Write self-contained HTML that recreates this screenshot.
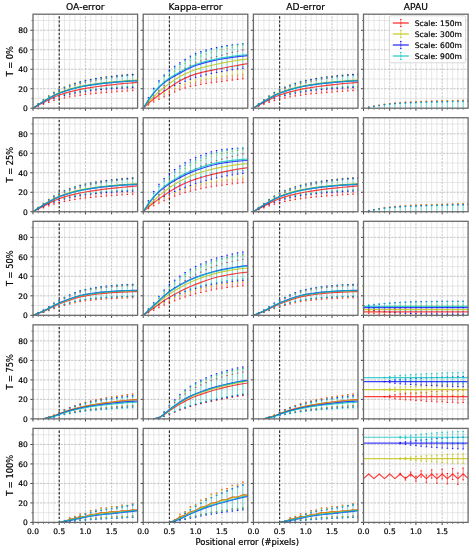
<!DOCTYPE html>
<html><head><meta charset="utf-8"><title>Positional error plots</title><style>
html,body{margin:0;padding:0;background:#fff;}
body{width:473px;height:550px;overflow:hidden;}
svg{display:block;}
</style></head><body>
<svg width="473" height="550" viewBox="0 0 473 550">
<rect width="473" height="550" fill="#fff"/>
<defs><clipPath id="c00"><rect x="33" y="14.2" width="104.6" height="94"/></clipPath><clipPath id="c01"><rect x="143.2" y="14.2" width="104.6" height="94"/></clipPath><clipPath id="c02"><rect x="253.4" y="14.2" width="104.6" height="94"/></clipPath><clipPath id="c03"><rect x="363.5" y="14.2" width="104.6" height="94"/></clipPath><clipPath id="c10"><rect x="33" y="117.75" width="104.6" height="94"/></clipPath><clipPath id="c11"><rect x="143.2" y="117.75" width="104.6" height="94"/></clipPath><clipPath id="c12"><rect x="253.4" y="117.75" width="104.6" height="94"/></clipPath><clipPath id="c13"><rect x="363.5" y="117.75" width="104.6" height="94"/></clipPath><clipPath id="c20"><rect x="33" y="221.3" width="104.6" height="94"/></clipPath><clipPath id="c21"><rect x="143.2" y="221.3" width="104.6" height="94"/></clipPath><clipPath id="c22"><rect x="253.4" y="221.3" width="104.6" height="94"/></clipPath><clipPath id="c23"><rect x="363.5" y="221.3" width="104.6" height="94"/></clipPath><clipPath id="c30"><rect x="33" y="324.85" width="104.6" height="94"/></clipPath><clipPath id="c31"><rect x="143.2" y="324.85" width="104.6" height="94"/></clipPath><clipPath id="c32"><rect x="253.4" y="324.85" width="104.6" height="94"/></clipPath><clipPath id="c33"><rect x="363.5" y="324.85" width="104.6" height="94"/></clipPath><clipPath id="c40"><rect x="33" y="428.4" width="104.6" height="94"/></clipPath><clipPath id="c41"><rect x="143.2" y="428.4" width="104.6" height="94"/></clipPath><clipPath id="c42"><rect x="253.4" y="428.4" width="104.6" height="94"/></clipPath><clipPath id="c43"><rect x="363.5" y="428.4" width="104.6" height="94"/></clipPath></defs>
<g clip-path="url(#c00)" fill="none"><path d="M38.24 108.2V14.2M43.49 108.2V14.2M48.73 108.2V14.2M53.97 108.2V14.2M64.46 108.2V14.2M69.7 108.2V14.2M74.94 108.2V14.2M80.19 108.2V14.2M90.67 108.2V14.2M95.92 108.2V14.2M101.16 108.2V14.2M106.4 108.2V14.2M116.89 108.2V14.2M122.13 108.2V14.2M127.38 108.2V14.2M132.62 108.2V14.2M33 98.46H137.6M33 78.98H137.6M33 59.5H137.6M33 40.01H137.6M33 20.53H137.6" stroke="#d6d6d6" stroke-width="0.6"/><path d="M59.22 108.2V14.2M85.43 108.2V14.2M111.65 108.2V14.2M33 88.72H137.6M33 69.24H137.6M33 49.75H137.6M33 30.27H137.6" stroke="#a8a8a8" stroke-width="0.65" stroke-dasharray="2.41 1.04"/><path d="M59.22 108.2V14.2" stroke="#2a2a2a" stroke-width="1.15" stroke-dasharray="2.35 1.75" stroke-dashoffset="0.7"/><path d="M38.24 106.2V105.58M43.49 104.3V103.17M48.73 102.42V100.85M53.97 100.6V98.63M59.22 99.13V96.84M64.46 97.97V95.41M69.7 96.94V94.14M74.94 96.04V93.03M80.19 95.25V92.07M85.43 94.56V91.28M90.67 93.95V90.62M95.92 93.41V90.03M101.16 92.92V89.52M106.4 92.48V89.07M111.65 92.07V88.69M116.89 91.68V88.35M122.13 91.31V88.04M127.38 90.97V87.76M132.62 90.66V87.53M137.86 90.39V87.36" stroke="#ff0000" stroke-width="0.5"/><path d="M37.49 106.2h1.5M37.49 104.4h1.5M42.74 104.3h1.5M42.74 100.8h1.5M47.98 102.42h1.5M47.98 97.22h1.5M53.22 100.6h1.5M53.22 93.78h1.5M58.47 99.13h1.5M58.47 90.97h1.5M63.71 97.97h1.5M63.71 88.78h1.5M68.95 96.94h1.5M68.95 86.83h1.5M74.19 96.04h1.5M74.19 85.11h1.5M79.44 95.25h1.5M79.44 83.61h1.5M84.68 94.56h1.5M84.68 82.3h1.5M89.92 93.95h1.5M89.92 81.14h1.5M95.17 93.41h1.5M95.17 80.12h1.5M100.41 92.92h1.5M100.41 79.2h1.5M105.65 92.48h1.5M105.65 78.36h1.5M110.9 92.07h1.5M110.9 77.57h1.5M116.14 91.68h1.5M116.14 76.83h1.5M121.38 91.31h1.5M121.38 76.14h1.5M126.63 90.97h1.5M126.63 75.49h1.5M131.87 90.66h1.5M131.87 74.9h1.5M137.11 90.39h1.5M137.11 74.38h1.5" stroke="#ff0000" stroke-width="0.9"/><path d="M38.24 103.93V103.75M43.49 99.99V99.61M48.73 96.21V95.63M53.97 92.59V92.06M59.22 89.66V89.17M64.46 87.34V86.87M69.7 85.27V84.83M74.94 83.45V83.03M80.19 81.89V81.49M85.43 80.6V80.22M90.67 79.51V79.15M95.92 78.56V78.2M101.16 77.72V77.37M106.4 77V76.66M111.65 76.37V76.04M116.89 75.82V75.49M122.13 75.3V74.99M127.38 74.85V74.54M132.62 74.48V74.17M137.86 74.2V73.89" stroke="#bfbf00" stroke-width="0.5"/><path d="M37.49 105.38h1.5M37.49 103.75h1.5M42.74 102.76h1.5M42.74 99.61h1.5M47.98 100.25h1.5M47.98 95.63h1.5M53.22 97.99h1.5M53.22 92.06h1.5M58.47 96.16h1.5M58.47 89.17h1.5M63.71 94.71h1.5M63.71 86.87h1.5M68.95 93.41h1.5M68.95 84.83h1.5M74.19 92.28h1.5M74.19 83.03h1.5M79.44 91.3h1.5M79.44 81.49h1.5M84.68 90.5h1.5M84.68 80.22h1.5M89.92 89.82h1.5M89.92 79.15h1.5M95.17 89.22h1.5M95.17 78.2h1.5M100.41 88.7h1.5M100.41 77.37h1.5M105.65 88.24h1.5M105.65 76.66h1.5M110.9 87.85h1.5M110.9 76.04h1.5M116.14 87.51h1.5M116.14 75.49h1.5M121.38 87.19h1.5M121.38 74.99h1.5M126.63 86.91h1.5M126.63 74.54h1.5M131.87 86.67h1.5M131.87 74.17h1.5M137.11 86.5h1.5M137.11 73.89h1.5" stroke="#bfbf00" stroke-width="0.9"/><path d="M38.24 105.58V105.41M38.24 104.01V103.93M43.49 103.17V102.82M43.49 100.13V99.99M48.73 100.85V100.34M48.73 96.42V96.21M53.97 98.63V98.01M53.97 92.92V92.59M59.22 96.84V96.12M59.22 90.08V89.66M64.46 95.41V94.62M64.46 87.84V87.34M69.7 94.14V93.29M69.7 85.83V85.27M74.94 93.03V92.11M74.94 84.07V83.45M80.19 92.07V91.11M80.19 82.56V81.89M85.43 91.28V90.28M85.43 81.32V80.6M90.67 90.62V89.58M90.67 80.26V79.51M95.92 90.03V88.96M95.92 79.34V78.56M101.16 89.52V88.42M101.16 78.53V77.72M106.4 89.07V87.95M106.4 77.83V77M111.65 88.69V87.55M111.65 77.22V76.37M116.89 88.35V87.19M116.89 76.68V75.82M122.13 88.04V86.86M122.13 76.19V75.3M127.38 87.76V86.57M127.38 75.75V74.85M132.62 87.53V86.33M132.62 75.39V74.48M137.86 87.36V86.15M137.86 75.12V74.2" stroke="#0000ff" stroke-width="0.5"/><path d="M37.49 105.58h1.5M37.49 103.93h1.5M42.74 103.17h1.5M42.74 99.99h1.5M47.98 100.85h1.5M47.98 96.21h1.5M53.22 98.63h1.5M53.22 92.59h1.5M58.47 96.84h1.5M58.47 89.66h1.5M63.71 95.41h1.5M63.71 87.34h1.5M68.95 94.14h1.5M68.95 85.27h1.5M74.19 93.03h1.5M74.19 83.45h1.5M79.44 92.07h1.5M79.44 81.89h1.5M84.68 91.28h1.5M84.68 80.6h1.5M89.92 90.62h1.5M89.92 79.51h1.5M95.17 90.03h1.5M95.17 78.56h1.5M100.41 89.52h1.5M100.41 77.72h1.5M105.65 89.07h1.5M105.65 77h1.5M110.9 88.69h1.5M110.9 76.37h1.5M116.14 88.35h1.5M116.14 75.82h1.5M121.38 88.04h1.5M121.38 75.3h1.5M126.63 87.76h1.5M126.63 74.85h1.5M131.87 87.53h1.5M131.87 74.48h1.5M137.11 87.36h1.5M137.11 74.2h1.5" stroke="#0000ff" stroke-width="0.9"/><path d="M38.24 105.41V104.01M43.49 102.82V100.13M48.73 100.34V96.42M53.97 98.01V92.92M59.22 96.12V90.08M64.46 94.62V87.84M69.7 93.29V85.83M74.94 92.11V84.07M80.19 91.11V82.56M85.43 90.28V81.32M90.67 89.58V80.26M95.92 88.96V79.34M101.16 88.42V78.53M106.4 87.95V77.83M111.65 87.55V77.22M116.89 87.19V76.68M122.13 86.86V76.19M127.38 86.57V75.75M132.62 86.33V75.39M137.86 86.15V75.12" stroke="#00bfbf" stroke-width="0.5"/><path d="M37.49 105.41h1.5M37.49 104.01h1.5M42.74 102.82h1.5M42.74 100.13h1.5M47.98 100.34h1.5M47.98 96.42h1.5M53.22 98.01h1.5M53.22 92.92h1.5M58.47 96.12h1.5M58.47 90.08h1.5M63.71 94.62h1.5M63.71 87.84h1.5M68.95 93.29h1.5M68.95 85.83h1.5M74.19 92.11h1.5M74.19 84.07h1.5M79.44 91.11h1.5M79.44 82.56h1.5M84.68 90.28h1.5M84.68 81.32h1.5M89.92 89.58h1.5M89.92 80.26h1.5M95.17 88.96h1.5M95.17 79.34h1.5M100.41 88.42h1.5M100.41 78.53h1.5M105.65 87.95h1.5M105.65 77.83h1.5M110.9 87.55h1.5M110.9 77.22h1.5M116.14 87.19h1.5M116.14 76.68h1.5M121.38 86.86h1.5M121.38 76.19h1.5M126.63 86.57h1.5M126.63 75.75h1.5M131.87 86.33h1.5M131.87 75.39h1.5M137.11 86.15h1.5M137.11 75.12h1.5" stroke="#00bfbf" stroke-width="0.9"/><path d="M33 108.2L38.24 105.3L43.49 102.55L48.73 99.82L53.97 97.19L59.22 95.05L64.46 93.37L69.7 91.89L74.94 90.58L80.19 89.43L85.43 88.43L90.67 87.55L95.92 86.76L101.16 86.06L106.4 85.42L111.65 84.82L116.89 84.26L122.13 83.72L127.38 83.23L132.62 82.78L137.86 82.39" stroke="#ff0000" stroke-width="1.2" stroke-linejoin="round" stroke-opacity="0.75"/><path d="M33 108.2L38.24 104.56L43.49 101.19L48.73 97.94L53.97 95.03L59.22 92.66L64.46 90.79L69.7 89.12L74.94 87.65L80.19 86.4L85.43 85.36L90.67 84.48L95.92 83.71L101.16 83.04L106.4 82.45L111.65 81.95L116.89 81.5L122.13 81.09L127.38 80.72L132.62 80.42L137.86 80.19" stroke="#bfbf00" stroke-width="1.2" stroke-linejoin="round" stroke-opacity="0.75"/><path d="M33 108.2L38.24 104.76L43.49 101.58L48.73 98.53L53.97 95.61L59.22 93.25L64.46 91.38L69.7 89.7L74.94 88.24L80.19 86.98L85.43 85.94L90.67 85.07L95.92 84.29L101.16 83.62L106.4 83.03L111.65 82.53L116.89 82.08L122.13 81.67L127.38 81.31L132.62 81.01L137.86 80.78" stroke="#0000ff" stroke-width="1.2" stroke-linejoin="round" stroke-opacity="0.75"/><path d="M33 108.2L38.24 104.71L43.49 101.48L48.73 98.38L53.97 95.47L59.22 93.1L64.46 91.23L69.7 89.56L74.94 88.09L80.19 86.84L85.43 85.8L90.67 84.92L95.92 84.15L101.16 83.47L106.4 82.89L111.65 82.39L116.89 81.94L122.13 81.52L127.38 81.16L132.62 80.86L137.86 80.63" stroke="#00bfbf" stroke-width="1.2" stroke-linejoin="round" stroke-opacity="0.75"/></g>
<path d="M33 108.2h-2.62M33 88.72h-2.62M33 69.24h-2.62M33 49.75h-2.62M33 30.27h-2.62M33 108.2v2.62M59.22 108.2v2.62M85.43 108.2v2.62M111.65 108.2v2.62" stroke="#000" stroke-width="0.75"/>
<path d="M33 98.46h-1.5M33 78.98h-1.5M33 59.5h-1.5M33 40.01h-1.5M33 20.53h-1.5M38.24 108.2v1.5M43.49 108.2v1.5M48.73 108.2v1.5M53.97 108.2v1.5M64.46 108.2v1.5M69.7 108.2v1.5M74.94 108.2v1.5M80.19 108.2v1.5M90.67 108.2v1.5M95.92 108.2v1.5M101.16 108.2v1.5M106.4 108.2v1.5M116.89 108.2v1.5M122.13 108.2v1.5M127.38 108.2v1.5M132.62 108.2v1.5" stroke="#000" stroke-width="0.55"/>
<rect x="33" y="14.2" width="104.6" height="94" fill="none" stroke="#6a6a6a" stroke-width="1.3"/>
<g clip-path="url(#c01)" fill="none"><path d="M148.44 108.2V14.2M153.69 108.2V14.2M158.93 108.2V14.2M164.17 108.2V14.2M174.66 108.2V14.2M179.9 108.2V14.2M185.14 108.2V14.2M190.39 108.2V14.2M200.87 108.2V14.2M206.12 108.2V14.2M211.36 108.2V14.2M216.6 108.2V14.2M227.09 108.2V14.2M232.33 108.2V14.2M237.58 108.2V14.2M242.82 108.2V14.2M143.2 98.46H247.8M143.2 78.98H247.8M143.2 59.5H247.8M143.2 40.01H247.8M143.2 20.53H247.8" stroke="#d6d6d6" stroke-width="0.6"/><path d="M169.42 108.2V14.2M195.63 108.2V14.2M221.85 108.2V14.2M143.2 88.72H247.8M143.2 69.24H247.8M143.2 49.75H247.8M143.2 30.27H247.8" stroke="#a8a8a8" stroke-width="0.65" stroke-dasharray="2.41 1.04"/><path d="M169.42 108.2V14.2" stroke="#2a2a2a" stroke-width="1.15" stroke-dasharray="2.35 1.75" stroke-dashoffset="0.7"/><path d="M148.44 104.96V103.86M153.69 102V100.02M158.93 99.35V96.7M164.17 96.9V93.72M169.42 94.49V90.95M174.66 92V88.32M179.9 89.8V86.04M185.14 88.06V84.17M190.39 86.57V82.54M195.63 85.36V81.2M200.87 84.39V80.09M206.12 83.56V79.11M211.36 82.82V78.23M216.6 82.13V77.44M221.85 81.44V76.7M227.09 80.76V76M232.33 80.1V75.34M237.58 79.47V74.73M242.82 78.87V74.18M248.06 78.31V73.7" stroke="#ff0000" stroke-width="0.5"/><path d="M147.69 104.96h1.5M147.69 101.77h1.5M152.94 102h1.5M152.94 95.89h1.5M158.18 99.35h1.5M158.18 90.64h1.5M163.42 96.9h1.5M163.42 85.76h1.5M168.67 94.49h1.5M168.67 80.99h1.5M173.91 92h1.5M173.91 76.04h1.5M179.15 89.8h1.5M179.15 71.67h1.5M184.39 88.06h1.5M184.39 68.22h1.5M189.64 86.57h1.5M189.64 65.25h1.5M194.88 85.36h1.5M194.88 62.86h1.5M200.12 84.39h1.5M200.12 60.93h1.5M205.37 83.56h1.5M205.37 59.28h1.5M210.61 82.82h1.5M210.61 57.81h1.5M215.85 82.13h1.5M215.85 56.44h1.5M221.1 81.44h1.5M221.1 55.08h1.5M226.34 80.76h1.5M226.34 53.73h1.5M231.58 80.1h1.5M231.58 52.42h1.5M236.83 79.47h1.5M236.83 51.17h1.5M242.07 78.87h1.5M242.07 49.99h1.5M247.31 78.31h1.5M247.31 48.86h1.5" stroke="#ff0000" stroke-width="0.9"/><path d="M148.44 103.86V102.71M153.69 100.02V97.93M158.93 96.7V93.92M164.17 93.72V90.71M169.42 90.95V87.96M174.66 88.32V85.61M179.9 86.04V83.48M185.14 84.17V81.32M190.39 82.54V79.23M195.63 81.2V77.48M200.87 80.09V76.06M206.12 79.11V74.76M211.36 78.23V73.58M216.6 77.44V72.52M221.85 76.7V71.55M227.09 76V70.65M232.33 75.34V69.8M237.58 74.73V69.01M242.82 74.18V68.3M248.06 73.7V67.7" stroke="#bfbf00" stroke-width="0.5"/><path d="M147.69 103.86h1.5M147.69 100.13h1.5M152.94 100.02h1.5M152.94 93h1.5M158.18 96.7h1.5M158.18 86.85h1.5M163.42 93.72h1.5M163.42 81.3h1.5M168.67 90.95h1.5M168.67 76.16h1.5M173.91 88.32h1.5M173.91 71.27h1.5M179.15 86.04h1.5M179.15 67.04h1.5M184.39 84.17h1.5M184.39 63.57h1.5M189.64 82.54h1.5M189.64 60.55h1.5M194.88 81.2h1.5M194.88 58.05h1.5M200.12 80.09h1.5M200.12 55.99h1.5M205.37 79.11h1.5M205.37 54.17h1.5M210.61 78.23h1.5M210.61 52.55h1.5M215.85 77.44h1.5M215.85 51.07h1.5M221.1 76.7h1.5M221.1 49.7h1.5M226.34 76h1.5M226.34 48.39h1.5M231.58 75.34h1.5M231.58 47.17h1.5M236.83 74.73h1.5M236.83 46.05h1.5M242.07 74.18h1.5M242.07 45.02h1.5M247.31 73.7h1.5M247.31 44.12h1.5" stroke="#bfbf00" stroke-width="0.9"/><path d="M148.44 102.71V101.61M148.44 98.1V97.43M153.69 97.93V95.93M153.69 89.41V88.27M158.93 93.92V91.22M158.93 82.2V80.79M164.17 90.71V87.5M164.17 76.49V75M169.42 87.96V84.34M169.42 71.66V70.19M174.66 85.61V81.86M174.66 67.85V66.24M179.9 83.48V79.65M179.9 64.47V62.79M185.14 81.32V77.44M185.14 61.09V59.35M190.39 79.23V75.34M190.39 57.87V56.13M195.63 77.48V73.65M195.63 55.28V53.59M200.87 76.06V72.33M200.87 53.26V51.67M206.12 74.76V71.17M206.12 51.48V50.03M211.36 73.58V70.15M211.36 49.91V48.62M216.6 72.52V69.26M216.6 48.55V47.44M221.85 71.55V68.49M221.85 47.38V46.46M227.09 70.65V67.81M227.09 46.33V45.62M232.33 69.8V67.17M232.33 45.36V44.88M237.58 69.01V66.62M237.58 44.51V44.26M242.82 68.3V66.15M248.06 67.7V65.8" stroke="#0000ff" stroke-width="0.5"/><path d="M147.69 102.71h1.5M147.69 97.43h1.5M152.94 97.93h1.5M152.94 88.27h1.5M158.18 93.92h1.5M158.18 80.79h1.5M163.42 90.71h1.5M163.42 75h1.5M168.67 87.96h1.5M168.67 70.19h1.5M173.91 85.61h1.5M173.91 66.24h1.5M179.15 83.48h1.5M179.15 62.79h1.5M184.39 81.32h1.5M184.39 59.35h1.5M189.64 79.23h1.5M189.64 56.13h1.5M194.88 77.48h1.5M194.88 53.59h1.5M200.12 76.06h1.5M200.12 51.67h1.5M205.37 74.76h1.5M205.37 50.03h1.5M210.61 73.58h1.5M210.61 48.62h1.5M215.85 72.52h1.5M215.85 47.44h1.5M221.1 71.55h1.5M221.1 46.46h1.5M226.34 70.65h1.5M226.34 45.62h1.5M231.58 69.8h1.5M231.58 44.88h1.5M236.83 69.01h1.5M236.83 44.26h1.5M242.07 68.3h1.5M242.07 43.79h1.5M247.31 67.7h1.5M247.31 43.5h1.5" stroke="#0000ff" stroke-width="0.9"/><path d="M148.44 101.61V98.1M153.69 95.93V89.41M158.93 91.22V82.2M164.17 87.5V76.49M169.42 84.34V71.66M174.66 81.86V67.85M179.9 79.65V64.47M185.14 77.44V61.09M190.39 75.34V57.87M195.63 73.65V55.28M200.87 72.33V53.26M206.12 71.17V51.48M211.36 70.15V49.91M216.6 69.26V48.55M221.85 68.49V47.38M227.09 67.81V46.33M232.33 67.17V45.36M237.58 66.62V44.51M242.82 66.15V43.8M248.06 65.8V43.26" stroke="#00bfbf" stroke-width="0.5"/><path d="M147.69 101.61h1.5M147.69 98.1h1.5M152.94 95.93h1.5M152.94 89.41h1.5M158.18 91.22h1.5M158.18 82.2h1.5M163.42 87.5h1.5M163.42 76.49h1.5M168.67 84.34h1.5M168.67 71.66h1.5M173.91 81.86h1.5M173.91 67.85h1.5M179.15 79.65h1.5M179.15 64.47h1.5M184.39 77.44h1.5M184.39 61.09h1.5M189.64 75.34h1.5M189.64 57.87h1.5M194.88 73.65h1.5M194.88 55.28h1.5M200.12 72.33h1.5M200.12 53.26h1.5M205.37 71.17h1.5M205.37 51.48h1.5M210.61 70.15h1.5M210.61 49.91h1.5M215.85 69.26h1.5M215.85 48.55h1.5M221.1 68.49h1.5M221.1 47.38h1.5M226.34 67.81h1.5M226.34 46.33h1.5M231.58 67.17h1.5M231.58 45.36h1.5M236.83 66.62h1.5M236.83 44.51h1.5M242.07 66.15h1.5M242.07 43.8h1.5M247.31 65.8h1.5M247.31 43.26h1.5" stroke="#00bfbf" stroke-width="0.9"/><path d="M143.2 108.2L148.44 103.37L153.69 98.95L158.93 94.99L164.17 91.33L169.42 87.74L174.66 84.02L179.9 80.73L185.14 78.14L190.39 75.91L195.63 74.11L200.87 72.66L206.12 71.42L211.36 70.31L216.6 69.28L221.85 68.26L227.09 67.24L232.33 66.26L237.58 65.32L242.82 64.43L248.06 63.59" stroke="#ff0000" stroke-width="1.2" stroke-linejoin="round" stroke-opacity="0.75"/><path d="M143.2 108.2L148.44 102L153.69 96.51L158.93 91.78L164.17 87.51L169.42 83.56L174.66 79.79L179.9 76.54L185.14 73.87L190.39 71.54L195.63 69.63L200.87 68.04L206.12 66.64L211.36 65.39L216.6 64.25L221.85 63.2L227.09 62.2L232.33 61.26L237.58 60.39L242.82 59.6L248.06 58.91" stroke="#bfbf00" stroke-width="1.2" stroke-linejoin="round" stroke-opacity="0.75"/><path d="M143.2 108.2L148.44 100.07L153.69 93.1L158.93 87.35L164.17 82.85L169.42 79.07L174.66 75.93L179.9 73.13L185.14 70.33L190.39 67.68L195.63 65.53L200.87 63.87L206.12 62.39L211.36 61.1L216.6 59.98L221.85 59.01L227.09 58.14L232.33 57.34L237.58 56.64L242.82 56.05L248.06 55.6" stroke="#0000ff" stroke-width="1.2" stroke-linejoin="round" stroke-opacity="0.75"/><path d="M143.2 108.2L148.44 99.86L153.69 92.67L158.93 86.71L164.17 82L169.42 78L174.66 74.85L179.9 72.06L185.14 69.26L190.39 66.61L195.63 64.46L200.87 62.8L206.12 61.32L211.36 60.03L216.6 58.91L221.85 57.94L227.09 57.07L232.33 56.27L237.58 55.56L242.82 54.98L248.06 54.53" stroke="#00bfbf" stroke-width="1.2" stroke-linejoin="round" stroke-opacity="0.75"/></g>
<path d="M143.2 108.2h-2.62M143.2 88.72h-2.62M143.2 69.24h-2.62M143.2 49.75h-2.62M143.2 30.27h-2.62M143.2 108.2v2.62M169.42 108.2v2.62M195.63 108.2v2.62M221.85 108.2v2.62" stroke="#000" stroke-width="0.75"/>
<path d="M143.2 98.46h-1.5M143.2 78.98h-1.5M143.2 59.5h-1.5M143.2 40.01h-1.5M143.2 20.53h-1.5M148.44 108.2v1.5M153.69 108.2v1.5M158.93 108.2v1.5M164.17 108.2v1.5M174.66 108.2v1.5M179.9 108.2v1.5M185.14 108.2v1.5M190.39 108.2v1.5M200.87 108.2v1.5M206.12 108.2v1.5M211.36 108.2v1.5M216.6 108.2v1.5M227.09 108.2v1.5M232.33 108.2v1.5M237.58 108.2v1.5M242.82 108.2v1.5" stroke="#000" stroke-width="0.55"/>
<rect x="143.2" y="14.2" width="104.6" height="94" fill="none" stroke="#6a6a6a" stroke-width="1.3"/>
<g clip-path="url(#c02)" fill="none"><path d="M258.64 108.2V14.2M263.89 108.2V14.2M269.13 108.2V14.2M274.37 108.2V14.2M284.86 108.2V14.2M290.1 108.2V14.2M295.34 108.2V14.2M300.59 108.2V14.2M311.07 108.2V14.2M316.32 108.2V14.2M321.56 108.2V14.2M326.8 108.2V14.2M337.29 108.2V14.2M342.53 108.2V14.2M347.78 108.2V14.2M353.02 108.2V14.2M253.4 98.46H358M253.4 78.98H358M253.4 59.5H358M253.4 40.01H358M253.4 20.53H358" stroke="#d6d6d6" stroke-width="0.6"/><path d="M279.62 108.2V14.2M305.83 108.2V14.2M332.05 108.2V14.2M253.4 88.72H358M253.4 69.24H358M253.4 49.75H358M253.4 30.27H358" stroke="#a8a8a8" stroke-width="0.65" stroke-dasharray="2.41 1.04"/><path d="M279.62 108.2V14.2" stroke="#2a2a2a" stroke-width="1.15" stroke-dasharray="2.35 1.75" stroke-dashoffset="0.7"/><path d="M258.64 106.2V105.58M263.89 104.3V103.17M269.13 102.42V100.85M274.37 100.6V98.63M279.62 99.13V96.84M284.86 97.97V95.41M290.1 96.94V94.14M295.34 96.04V93.03M300.59 95.25V92.07M305.83 94.56V91.28M311.07 93.95V90.62M316.32 93.41V90.03M321.56 92.92V89.52M326.8 92.48V89.07M332.05 92.07V88.69M337.29 91.68V88.35M342.53 91.31V88.04M347.78 90.97V87.76M353.02 90.66V87.53M358.26 90.39V87.36" stroke="#ff0000" stroke-width="0.5"/><path d="M257.89 106.2h1.5M257.89 104.4h1.5M263.14 104.3h1.5M263.14 100.8h1.5M268.38 102.42h1.5M268.38 97.22h1.5M273.62 100.6h1.5M273.62 93.78h1.5M278.87 99.13h1.5M278.87 90.97h1.5M284.11 97.97h1.5M284.11 88.78h1.5M289.35 96.94h1.5M289.35 86.83h1.5M294.59 96.04h1.5M294.59 85.11h1.5M299.84 95.25h1.5M299.84 83.61h1.5M305.08 94.56h1.5M305.08 82.3h1.5M310.32 93.95h1.5M310.32 81.14h1.5M315.57 93.41h1.5M315.57 80.12h1.5M320.81 92.92h1.5M320.81 79.2h1.5M326.05 92.48h1.5M326.05 78.36h1.5M331.3 92.07h1.5M331.3 77.57h1.5M336.54 91.68h1.5M336.54 76.83h1.5M341.78 91.31h1.5M341.78 76.14h1.5M347.03 90.97h1.5M347.03 75.49h1.5M352.27 90.66h1.5M352.27 74.9h1.5M357.51 90.39h1.5M357.51 74.38h1.5" stroke="#ff0000" stroke-width="0.9"/><path d="M258.64 103.93V103.75M263.89 99.99V99.61M269.13 96.21V95.63M274.37 92.59V92.06M279.62 89.66V89.17M284.86 87.34V86.87M290.1 85.27V84.83M295.34 83.45V83.03M300.59 81.89V81.49M305.83 80.6V80.22M311.07 79.51V79.15M316.32 78.56V78.2M321.56 77.72V77.37M326.8 77V76.66M332.05 76.37V76.04M337.29 75.82V75.49M342.53 75.3V74.99M347.78 74.85V74.54M353.02 74.48V74.17M358.26 74.2V73.89" stroke="#bfbf00" stroke-width="0.5"/><path d="M257.89 105.38h1.5M257.89 103.75h1.5M263.14 102.76h1.5M263.14 99.61h1.5M268.38 100.25h1.5M268.38 95.63h1.5M273.62 97.99h1.5M273.62 92.06h1.5M278.87 96.16h1.5M278.87 89.17h1.5M284.11 94.71h1.5M284.11 86.87h1.5M289.35 93.41h1.5M289.35 84.83h1.5M294.59 92.28h1.5M294.59 83.03h1.5M299.84 91.3h1.5M299.84 81.49h1.5M305.08 90.5h1.5M305.08 80.22h1.5M310.32 89.82h1.5M310.32 79.15h1.5M315.57 89.22h1.5M315.57 78.2h1.5M320.81 88.7h1.5M320.81 77.37h1.5M326.05 88.24h1.5M326.05 76.66h1.5M331.3 87.85h1.5M331.3 76.04h1.5M336.54 87.51h1.5M336.54 75.49h1.5M341.78 87.19h1.5M341.78 74.99h1.5M347.03 86.91h1.5M347.03 74.54h1.5M352.27 86.67h1.5M352.27 74.17h1.5M357.51 86.5h1.5M357.51 73.89h1.5" stroke="#bfbf00" stroke-width="0.9"/><path d="M258.64 105.58V105.41M258.64 104.01V103.93M263.89 103.17V102.82M263.89 100.13V99.99M269.13 100.85V100.34M269.13 96.42V96.21M274.37 98.63V98.01M274.37 92.92V92.59M279.62 96.84V96.12M279.62 90.08V89.66M284.86 95.41V94.62M284.86 87.84V87.34M290.1 94.14V93.29M290.1 85.83V85.27M295.34 93.03V92.11M295.34 84.07V83.45M300.59 92.07V91.11M300.59 82.56V81.89M305.83 91.28V90.28M305.83 81.32V80.6M311.07 90.62V89.58M311.07 80.26V79.51M316.32 90.03V88.96M316.32 79.34V78.56M321.56 89.52V88.42M321.56 78.53V77.72M326.8 89.07V87.95M326.8 77.83V77M332.05 88.69V87.55M332.05 77.22V76.37M337.29 88.35V87.19M337.29 76.68V75.82M342.53 88.04V86.86M342.53 76.19V75.3M347.78 87.76V86.57M347.78 75.75V74.85M353.02 87.53V86.33M353.02 75.39V74.48M358.26 87.36V86.15M358.26 75.12V74.2" stroke="#0000ff" stroke-width="0.5"/><path d="M257.89 105.58h1.5M257.89 103.93h1.5M263.14 103.17h1.5M263.14 99.99h1.5M268.38 100.85h1.5M268.38 96.21h1.5M273.62 98.63h1.5M273.62 92.59h1.5M278.87 96.84h1.5M278.87 89.66h1.5M284.11 95.41h1.5M284.11 87.34h1.5M289.35 94.14h1.5M289.35 85.27h1.5M294.59 93.03h1.5M294.59 83.45h1.5M299.84 92.07h1.5M299.84 81.89h1.5M305.08 91.28h1.5M305.08 80.6h1.5M310.32 90.62h1.5M310.32 79.51h1.5M315.57 90.03h1.5M315.57 78.56h1.5M320.81 89.52h1.5M320.81 77.72h1.5M326.05 89.07h1.5M326.05 77h1.5M331.3 88.69h1.5M331.3 76.37h1.5M336.54 88.35h1.5M336.54 75.82h1.5M341.78 88.04h1.5M341.78 75.3h1.5M347.03 87.76h1.5M347.03 74.85h1.5M352.27 87.53h1.5M352.27 74.48h1.5M357.51 87.36h1.5M357.51 74.2h1.5" stroke="#0000ff" stroke-width="0.9"/><path d="M258.64 105.41V104.01M263.89 102.82V100.13M269.13 100.34V96.42M274.37 98.01V92.92M279.62 96.12V90.08M284.86 94.62V87.84M290.1 93.29V85.83M295.34 92.11V84.07M300.59 91.11V82.56M305.83 90.28V81.32M311.07 89.58V80.26M316.32 88.96V79.34M321.56 88.42V78.53M326.8 87.95V77.83M332.05 87.55V77.22M337.29 87.19V76.68M342.53 86.86V76.19M347.78 86.57V75.75M353.02 86.33V75.39M358.26 86.15V75.12" stroke="#00bfbf" stroke-width="0.5"/><path d="M257.89 105.41h1.5M257.89 104.01h1.5M263.14 102.82h1.5M263.14 100.13h1.5M268.38 100.34h1.5M268.38 96.42h1.5M273.62 98.01h1.5M273.62 92.92h1.5M278.87 96.12h1.5M278.87 90.08h1.5M284.11 94.62h1.5M284.11 87.84h1.5M289.35 93.29h1.5M289.35 85.83h1.5M294.59 92.11h1.5M294.59 84.07h1.5M299.84 91.11h1.5M299.84 82.56h1.5M305.08 90.28h1.5M305.08 81.32h1.5M310.32 89.58h1.5M310.32 80.26h1.5M315.57 88.96h1.5M315.57 79.34h1.5M320.81 88.42h1.5M320.81 78.53h1.5M326.05 87.95h1.5M326.05 77.83h1.5M331.3 87.55h1.5M331.3 77.22h1.5M336.54 87.19h1.5M336.54 76.68h1.5M341.78 86.86h1.5M341.78 76.19h1.5M347.03 86.57h1.5M347.03 75.75h1.5M352.27 86.33h1.5M352.27 75.39h1.5M357.51 86.15h1.5M357.51 75.12h1.5" stroke="#00bfbf" stroke-width="0.9"/><path d="M253.4 108.2L258.64 105.3L263.89 102.55L269.13 99.82L274.37 97.19L279.62 95.05L284.86 93.37L290.1 91.89L295.34 90.58L300.59 89.43L305.83 88.43L311.07 87.55L316.32 86.76L321.56 86.06L326.8 85.42L332.05 84.82L337.29 84.26L342.53 83.72L347.78 83.23L353.02 82.78L358.26 82.39" stroke="#ff0000" stroke-width="1.2" stroke-linejoin="round" stroke-opacity="0.75"/><path d="M253.4 108.2L258.64 104.56L263.89 101.19L269.13 97.94L274.37 95.03L279.62 92.66L284.86 90.79L290.1 89.12L295.34 87.65L300.59 86.4L305.83 85.36L311.07 84.48L316.32 83.71L321.56 83.04L326.8 82.45L332.05 81.95L337.29 81.5L342.53 81.09L347.78 80.72L353.02 80.42L358.26 80.19" stroke="#bfbf00" stroke-width="1.2" stroke-linejoin="round" stroke-opacity="0.75"/><path d="M253.4 108.2L258.64 104.76L263.89 101.58L269.13 98.53L274.37 95.61L279.62 93.25L284.86 91.38L290.1 89.7L295.34 88.24L300.59 86.98L305.83 85.94L311.07 85.07L316.32 84.29L321.56 83.62L326.8 83.03L332.05 82.53L337.29 82.08L342.53 81.67L347.78 81.31L353.02 81.01L358.26 80.78" stroke="#0000ff" stroke-width="1.2" stroke-linejoin="round" stroke-opacity="0.75"/><path d="M253.4 108.2L258.64 104.71L263.89 101.48L269.13 98.38L274.37 95.47L279.62 93.1L284.86 91.23L290.1 89.56L295.34 88.09L300.59 86.84L305.83 85.8L311.07 84.92L316.32 84.15L321.56 83.47L326.8 82.89L332.05 82.39L337.29 81.94L342.53 81.52L347.78 81.16L353.02 80.86L358.26 80.63" stroke="#00bfbf" stroke-width="1.2" stroke-linejoin="round" stroke-opacity="0.75"/></g>
<path d="M253.4 108.2h-2.62M253.4 88.72h-2.62M253.4 69.24h-2.62M253.4 49.75h-2.62M253.4 30.27h-2.62M253.4 108.2v2.62M279.62 108.2v2.62M305.83 108.2v2.62M332.05 108.2v2.62" stroke="#000" stroke-width="0.75"/>
<path d="M253.4 98.46h-1.5M253.4 78.98h-1.5M253.4 59.5h-1.5M253.4 40.01h-1.5M253.4 20.53h-1.5M258.64 108.2v1.5M263.89 108.2v1.5M269.13 108.2v1.5M274.37 108.2v1.5M284.86 108.2v1.5M290.1 108.2v1.5M295.34 108.2v1.5M300.59 108.2v1.5M311.07 108.2v1.5M316.32 108.2v1.5M321.56 108.2v1.5M326.8 108.2v1.5M337.29 108.2v1.5M342.53 108.2v1.5M347.78 108.2v1.5M353.02 108.2v1.5" stroke="#000" stroke-width="0.55"/>
<rect x="253.4" y="14.2" width="104.6" height="94" fill="none" stroke="#6a6a6a" stroke-width="1.3"/>
<g clip-path="url(#c03)" fill="none"><path d="M368.74 108.2V14.2M373.99 108.2V14.2M379.23 108.2V14.2M384.47 108.2V14.2M394.96 108.2V14.2M400.2 108.2V14.2M405.44 108.2V14.2M410.69 108.2V14.2M421.17 108.2V14.2M426.42 108.2V14.2M431.66 108.2V14.2M436.9 108.2V14.2M447.39 108.2V14.2M452.63 108.2V14.2M457.88 108.2V14.2M463.12 108.2V14.2M363.5 98.46H468.1M363.5 78.98H468.1M363.5 59.5H468.1M363.5 40.01H468.1M363.5 20.53H468.1" stroke="#d6d6d6" stroke-width="0.6"/><path d="M389.72 108.2V14.2M415.93 108.2V14.2M442.15 108.2V14.2M363.5 88.72H468.1M363.5 69.24H468.1M363.5 49.75H468.1M363.5 30.27H468.1" stroke="#a8a8a8" stroke-width="0.65" stroke-dasharray="2.41 1.04"/><path d="M394.96 113.42V113.36M394.96 103.04V102.98M400.2 113.82V113.76M400.2 102.64V102.58M405.44 114.17V114.11M405.44 102.29V102.23M410.69 114.48V114.42M410.69 101.98V101.92M415.93 114.74V114.68M415.93 101.72V101.66M421.17 114.95V114.89M421.17 101.51V101.45M426.42 115.14V115.07M426.42 101.33V101.26M431.66 115.3V115.23M431.66 101.17V101.1M436.9 115.46V115.39M436.9 101.01V100.94M442.15 115.61V115.54M442.15 100.86V100.79M447.39 115.76V115.68M447.39 100.72V100.64M452.63 115.9V115.82M452.63 100.58V100.5M457.88 116.04V115.96M457.88 100.44V100.36M463.12 116.16V116.08M463.12 100.32V100.24M468.36 116.28V116.2M468.36 100.2V100.12" stroke="#ff0000" stroke-width="0.5"/><path d="M367.99 109.26h1.5M367.99 107.14h1.5M373.24 110.3h1.5M373.24 106.1h1.5M378.48 111.28h1.5M378.48 105.12h1.5M383.72 112.18h1.5M383.72 104.22h1.5M388.97 112.92h1.5M388.97 103.48h1.5M394.21 113.42h1.5M394.21 102.98h1.5M399.45 113.82h1.5M399.45 102.58h1.5M404.69 114.17h1.5M404.69 102.23h1.5M409.94 114.48h1.5M409.94 101.92h1.5M415.18 114.74h1.5M415.18 101.66h1.5M420.42 114.95h1.5M420.42 101.45h1.5M425.67 115.14h1.5M425.67 101.26h1.5M430.91 115.3h1.5M430.91 101.1h1.5M436.15 115.46h1.5M436.15 100.94h1.5M441.4 115.61h1.5M441.4 100.79h1.5M446.64 115.76h1.5M446.64 100.64h1.5M451.88 115.9h1.5M451.88 100.5h1.5M457.13 116.04h1.5M457.13 100.36h1.5M462.37 116.16h1.5M462.37 100.24h1.5M467.61 116.28h1.5M467.61 100.12h1.5" stroke="#ff0000" stroke-width="0.9"/><path d="M368.74 109.25V109.13M368.74 107.27V107.15M373.99 110.28V110.05M373.99 106.35V106.12M379.23 111.25V110.91M379.23 105.49V105.15M384.47 112.14V111.7M384.47 104.7V104.26M389.72 112.87V112.35M389.72 104.05V103.53M394.96 113.36V112.79M394.96 103.61V103.04M400.2 113.76V113.14M400.2 103.26V102.64M405.44 114.11V113.45M405.44 102.95V102.29M410.69 114.42V113.73M410.69 102.67V101.98M415.93 114.68V113.96M415.93 102.44V101.72M421.17 114.89V114.14M421.17 102.26V101.51M426.42 115.07V114.31M426.42 102.09V101.33M431.66 115.23V114.45M431.66 101.95V101.17M436.9 115.39V114.59M436.9 101.81V101.01M442.15 115.54V114.72M442.15 101.68V100.86M447.39 115.68V114.85M447.39 101.55V100.72M452.63 115.82V114.98M452.63 101.42V100.58M457.88 115.96V115.1M457.88 101.3V100.44M463.12 116.08V115.21M463.12 101.19V100.32M468.36 116.2V115.31M468.36 101.09V100.2" stroke="#bfbf00" stroke-width="0.5"/><path d="M367.99 109.25h1.5M367.99 107.15h1.5M373.24 110.28h1.5M373.24 106.12h1.5M378.48 111.25h1.5M378.48 105.15h1.5M383.72 112.14h1.5M383.72 104.26h1.5M388.97 112.87h1.5M388.97 103.53h1.5M394.21 113.36h1.5M394.21 103.04h1.5M399.45 113.76h1.5M399.45 102.64h1.5M404.69 114.11h1.5M404.69 102.29h1.5M409.94 114.42h1.5M409.94 101.98h1.5M415.18 114.68h1.5M415.18 101.72h1.5M420.42 114.89h1.5M420.42 101.51h1.5M425.67 115.07h1.5M425.67 101.33h1.5M430.91 115.23h1.5M430.91 101.17h1.5M436.15 115.39h1.5M436.15 101.01h1.5M441.4 115.54h1.5M441.4 100.86h1.5M446.64 115.68h1.5M446.64 100.72h1.5M451.88 115.82h1.5M451.88 100.58h1.5M457.13 115.96h1.5M457.13 100.44h1.5M462.37 116.08h1.5M462.37 100.32h1.5M467.61 116.2h1.5M467.61 100.2h1.5" stroke="#bfbf00" stroke-width="0.9"/><path d="M373.99 110.05V109.97M373.99 106.43V106.35M379.23 110.91V110.79M379.23 105.61V105.49M384.47 111.7V111.55M384.47 104.85V104.7M389.72 112.35V112.16M389.72 104.24V104.05M394.96 112.79V112.58M394.96 103.82V103.61M400.2 113.14V112.92M400.2 103.48V103.26M405.44 113.45V113.21M405.44 103.19V102.95M410.69 113.73V113.48M410.69 102.92V102.67M415.93 113.96V113.7M415.93 102.7V102.44M421.17 114.14V113.87M421.17 102.53V102.26M426.42 114.31V114.03M426.42 102.37V102.09M431.66 114.45V114.17M431.66 102.23V101.95M436.9 114.59V114.3M436.9 102.1V101.81M442.15 114.72V114.42M442.15 101.98V101.68M447.39 114.85V114.55M447.39 101.85V101.55M452.63 114.98V114.67M452.63 101.73V101.42M457.88 115.1V114.78M457.88 101.62V101.3M463.12 115.21V114.89M463.12 101.51V101.19M468.36 115.31V114.99M468.36 101.41V101.09" stroke="#0000ff" stroke-width="0.5"/><path d="M367.99 109.13h1.5M367.99 107.27h1.5M373.24 110.05h1.5M373.24 106.35h1.5M378.48 110.91h1.5M378.48 105.49h1.5M383.72 111.7h1.5M383.72 104.7h1.5M388.97 112.35h1.5M388.97 104.05h1.5M394.21 112.79h1.5M394.21 103.61h1.5M399.45 113.14h1.5M399.45 103.26h1.5M404.69 113.45h1.5M404.69 102.95h1.5M409.94 113.73h1.5M409.94 102.67h1.5M415.18 113.96h1.5M415.18 102.44h1.5M420.42 114.14h1.5M420.42 102.26h1.5M425.67 114.31h1.5M425.67 102.09h1.5M430.91 114.45h1.5M430.91 101.95h1.5M436.15 114.59h1.5M436.15 101.81h1.5M441.4 114.72h1.5M441.4 101.68h1.5M446.64 114.85h1.5M446.64 101.55h1.5M451.88 114.98h1.5M451.88 101.42h1.5M457.13 115.1h1.5M457.13 101.3h1.5M462.37 115.21h1.5M462.37 101.19h1.5M467.61 115.31h1.5M467.61 101.09h1.5" stroke="#0000ff" stroke-width="0.9"/><path d="M368.74 109.09V107.31M373.99 109.97V106.43M379.23 110.79V105.61M384.47 111.55V104.85M389.72 112.16V104.24M394.96 112.58V103.82M400.2 112.92V103.48M405.44 113.21V103.19M410.69 113.48V102.92M415.93 113.7V102.7M421.17 113.87V102.53M426.42 114.03V102.37M431.66 114.17V102.23M436.9 114.3V102.1M442.15 114.42V101.98M447.39 114.55V101.85M452.63 114.67V101.73M457.88 114.78V101.62M463.12 114.89V101.51M468.36 114.99V101.41" stroke="#00bfbf" stroke-width="0.5"/><path d="M367.99 109.09h1.5M367.99 107.31h1.5M373.24 109.97h1.5M373.24 106.43h1.5M378.48 110.79h1.5M378.48 105.61h1.5M383.72 111.55h1.5M383.72 104.85h1.5M388.97 112.16h1.5M388.97 104.24h1.5M394.21 112.58h1.5M394.21 103.82h1.5M399.45 112.92h1.5M399.45 103.48h1.5M404.69 113.21h1.5M404.69 103.19h1.5M409.94 113.48h1.5M409.94 102.92h1.5M415.18 113.7h1.5M415.18 102.7h1.5M420.42 113.87h1.5M420.42 102.53h1.5M425.67 114.03h1.5M425.67 102.37h1.5M430.91 114.17h1.5M430.91 102.23h1.5M436.15 114.3h1.5M436.15 102.1h1.5M441.4 114.42h1.5M441.4 101.98h1.5M446.64 114.55h1.5M446.64 101.85h1.5M451.88 114.67h1.5M451.88 101.73h1.5M457.13 114.78h1.5M457.13 101.62h1.5M462.37 114.89h1.5M462.37 101.51h1.5M467.61 114.99h1.5M467.61 101.41h1.5" stroke="#00bfbf" stroke-width="0.9"/></g>
<path d="M363.5 108.2h-2.62M363.5 88.72h-2.62M363.5 69.24h-2.62M363.5 49.75h-2.62M363.5 30.27h-2.62M363.5 108.2v2.62M389.72 108.2v2.62M415.93 108.2v2.62M442.15 108.2v2.62" stroke="#000" stroke-width="0.75"/>
<path d="M363.5 98.46h-1.5M363.5 78.98h-1.5M363.5 59.5h-1.5M363.5 40.01h-1.5M363.5 20.53h-1.5M368.74 108.2v1.5M373.99 108.2v1.5M379.23 108.2v1.5M384.47 108.2v1.5M394.96 108.2v1.5M400.2 108.2v1.5M405.44 108.2v1.5M410.69 108.2v1.5M421.17 108.2v1.5M426.42 108.2v1.5M431.66 108.2v1.5M436.9 108.2v1.5M447.39 108.2v1.5M452.63 108.2v1.5M457.88 108.2v1.5M463.12 108.2v1.5" stroke="#000" stroke-width="0.55"/>
<rect x="363.5" y="14.2" width="104.6" height="94" fill="none" stroke="#6a6a6a" stroke-width="1.3"/>
<g clip-path="url(#c10)" fill="none"><path d="M38.24 211.75V117.75M43.49 211.75V117.75M48.73 211.75V117.75M53.97 211.75V117.75M64.46 211.75V117.75M69.7 211.75V117.75M74.94 211.75V117.75M80.19 211.75V117.75M90.67 211.75V117.75M95.92 211.75V117.75M101.16 211.75V117.75M106.4 211.75V117.75M116.89 211.75V117.75M122.13 211.75V117.75M127.38 211.75V117.75M132.62 211.75V117.75M33 202.01H137.6M33 182.53H137.6M33 163.05H137.6M33 143.56H137.6M33 124.08H137.6" stroke="#d6d6d6" stroke-width="0.6"/><path d="M59.22 211.75V117.75M85.43 211.75V117.75M111.65 211.75V117.75M33 192.27H137.6M33 172.79H137.6M33 153.3H137.6M33 133.82H137.6" stroke="#a8a8a8" stroke-width="0.65" stroke-dasharray="2.41 1.04"/><path d="M59.22 211.75V117.75" stroke="#2a2a2a" stroke-width="1.15" stroke-dasharray="2.35 1.75" stroke-dashoffset="0.7"/><path d="M38.24 209.75V209.13M43.49 207.85V206.72M48.73 205.97V204.4M53.97 204.15V202.18M59.22 202.68V200.39M64.46 201.52V198.96M69.7 200.49V197.69M74.94 199.59V196.58M80.19 198.8V195.62M85.43 198.11V194.83M90.67 197.5V194.17M95.92 196.96V193.58M101.16 196.47V193.07M106.4 196.03V192.62M111.65 195.62V192.24M116.89 195.23V191.9M122.13 194.86V191.59M127.38 194.52V191.31M132.62 194.21V191.08M137.86 193.94V190.91" stroke="#ff0000" stroke-width="0.5"/><path d="M37.49 209.75h1.5M37.49 207.95h1.5M42.74 207.85h1.5M42.74 204.35h1.5M47.98 205.97h1.5M47.98 200.77h1.5M53.22 204.15h1.5M53.22 197.33h1.5M58.47 202.68h1.5M58.47 194.52h1.5M63.71 201.52h1.5M63.71 192.33h1.5M68.95 200.49h1.5M68.95 190.38h1.5M74.19 199.59h1.5M74.19 188.66h1.5M79.44 198.8h1.5M79.44 187.16h1.5M84.68 198.11h1.5M84.68 185.85h1.5M89.92 197.5h1.5M89.92 184.69h1.5M95.17 196.96h1.5M95.17 183.67h1.5M100.41 196.47h1.5M100.41 182.75h1.5M105.65 196.03h1.5M105.65 181.91h1.5M110.9 195.62h1.5M110.9 181.12h1.5M116.14 195.23h1.5M116.14 180.38h1.5M121.38 194.86h1.5M121.38 179.69h1.5M126.63 194.52h1.5M126.63 179.04h1.5M131.87 194.21h1.5M131.87 178.45h1.5M137.11 193.94h1.5M137.11 177.93h1.5" stroke="#ff0000" stroke-width="0.9"/><path d="M38.24 207.48V207.3M43.49 203.54V203.16M48.73 199.76V199.18M53.97 196.14V195.61M59.22 193.21V192.72M64.46 190.89V190.42M69.7 188.82V188.38M74.94 187V186.58M80.19 185.44V185.04M85.43 184.15V183.77M90.67 183.06V182.7M95.92 182.11V181.75M101.16 181.27V180.92M106.4 180.55V180.21M111.65 179.92V179.59M116.89 179.37V179.04M122.13 178.85V178.54M127.38 178.4V178.09M132.62 178.03V177.72M137.86 177.75V177.44" stroke="#bfbf00" stroke-width="0.5"/><path d="M37.49 208.93h1.5M37.49 207.3h1.5M42.74 206.31h1.5M42.74 203.16h1.5M47.98 203.8h1.5M47.98 199.18h1.5M53.22 201.54h1.5M53.22 195.61h1.5M58.47 199.71h1.5M58.47 192.72h1.5M63.71 198.26h1.5M63.71 190.42h1.5M68.95 196.96h1.5M68.95 188.38h1.5M74.19 195.83h1.5M74.19 186.58h1.5M79.44 194.85h1.5M79.44 185.04h1.5M84.68 194.05h1.5M84.68 183.77h1.5M89.92 193.37h1.5M89.92 182.7h1.5M95.17 192.77h1.5M95.17 181.75h1.5M100.41 192.25h1.5M100.41 180.92h1.5M105.65 191.79h1.5M105.65 180.21h1.5M110.9 191.4h1.5M110.9 179.59h1.5M116.14 191.06h1.5M116.14 179.04h1.5M121.38 190.74h1.5M121.38 178.54h1.5M126.63 190.46h1.5M126.63 178.09h1.5M131.87 190.22h1.5M131.87 177.72h1.5M137.11 190.05h1.5M137.11 177.44h1.5" stroke="#bfbf00" stroke-width="0.9"/><path d="M38.24 209.13V208.96M38.24 207.56V207.48M43.49 206.72V206.37M43.49 203.68V203.54M48.73 204.4V203.89M48.73 199.97V199.76M53.97 202.18V201.56M53.97 196.47V196.14M59.22 200.39V199.67M59.22 193.63V193.21M64.46 198.96V198.17M64.46 191.39V190.89M69.7 197.69V196.84M69.7 189.38V188.82M74.94 196.58V195.66M74.94 187.62V187M80.19 195.62V194.66M80.19 186.11V185.44M85.43 194.83V193.83M85.43 184.87V184.15M90.67 194.17V193.13M90.67 183.81V183.06M95.92 193.58V192.51M95.92 182.89V182.11M101.16 193.07V191.97M101.16 182.08V181.27M106.4 192.62V191.5M106.4 181.38V180.55M111.65 192.24V191.1M111.65 180.77V179.92M116.89 191.9V190.74M116.89 180.23V179.37M122.13 191.59V190.41M122.13 179.74V178.85M127.38 191.31V190.12M127.38 179.3V178.4M132.62 191.08V189.88M132.62 178.94V178.03M137.86 190.91V189.7M137.86 178.67V177.75" stroke="#0000ff" stroke-width="0.5"/><path d="M37.49 209.13h1.5M37.49 207.48h1.5M42.74 206.72h1.5M42.74 203.54h1.5M47.98 204.4h1.5M47.98 199.76h1.5M53.22 202.18h1.5M53.22 196.14h1.5M58.47 200.39h1.5M58.47 193.21h1.5M63.71 198.96h1.5M63.71 190.89h1.5M68.95 197.69h1.5M68.95 188.82h1.5M74.19 196.58h1.5M74.19 187h1.5M79.44 195.62h1.5M79.44 185.44h1.5M84.68 194.83h1.5M84.68 184.15h1.5M89.92 194.17h1.5M89.92 183.06h1.5M95.17 193.58h1.5M95.17 182.11h1.5M100.41 193.07h1.5M100.41 181.27h1.5M105.65 192.62h1.5M105.65 180.55h1.5M110.9 192.24h1.5M110.9 179.92h1.5M116.14 191.9h1.5M116.14 179.37h1.5M121.38 191.59h1.5M121.38 178.85h1.5M126.63 191.31h1.5M126.63 178.4h1.5M131.87 191.08h1.5M131.87 178.03h1.5M137.11 190.91h1.5M137.11 177.75h1.5" stroke="#0000ff" stroke-width="0.9"/><path d="M38.24 208.96V207.56M43.49 206.37V203.68M48.73 203.89V199.97M53.97 201.56V196.47M59.22 199.67V193.63M64.46 198.17V191.39M69.7 196.84V189.38M74.94 195.66V187.62M80.19 194.66V186.11M85.43 193.83V184.87M90.67 193.13V183.81M95.92 192.51V182.89M101.16 191.97V182.08M106.4 191.5V181.38M111.65 191.1V180.77M116.89 190.74V180.23M122.13 190.41V179.74M127.38 190.12V179.3M132.62 189.88V178.94M137.86 189.7V178.67" stroke="#00bfbf" stroke-width="0.5"/><path d="M37.49 208.96h1.5M37.49 207.56h1.5M42.74 206.37h1.5M42.74 203.68h1.5M47.98 203.89h1.5M47.98 199.97h1.5M53.22 201.56h1.5M53.22 196.47h1.5M58.47 199.67h1.5M58.47 193.63h1.5M63.71 198.17h1.5M63.71 191.39h1.5M68.95 196.84h1.5M68.95 189.38h1.5M74.19 195.66h1.5M74.19 187.62h1.5M79.44 194.66h1.5M79.44 186.11h1.5M84.68 193.83h1.5M84.68 184.87h1.5M89.92 193.13h1.5M89.92 183.81h1.5M95.17 192.51h1.5M95.17 182.89h1.5M100.41 191.97h1.5M100.41 182.08h1.5M105.65 191.5h1.5M105.65 181.38h1.5M110.9 191.1h1.5M110.9 180.77h1.5M116.14 190.74h1.5M116.14 180.23h1.5M121.38 190.41h1.5M121.38 179.74h1.5M126.63 190.12h1.5M126.63 179.3h1.5M131.87 189.88h1.5M131.87 178.94h1.5M137.11 189.7h1.5M137.11 178.67h1.5" stroke="#00bfbf" stroke-width="0.9"/><path d="M33 211.75L38.24 208.85L43.49 206.1L48.73 203.37L53.97 200.74L59.22 198.6L64.46 196.92L69.7 195.44L74.94 194.13L80.19 192.98L85.43 191.98L90.67 191.1L95.92 190.31L101.16 189.61L106.4 188.97L111.65 188.37L116.89 187.81L122.13 187.27L127.38 186.78L132.62 186.33L137.86 185.94" stroke="#ff0000" stroke-width="1.2" stroke-linejoin="round" stroke-opacity="0.75"/><path d="M33 211.75L38.24 208.11L43.49 204.74L48.73 201.49L53.97 198.58L59.22 196.21L64.46 194.34L69.7 192.67L74.94 191.2L80.19 189.95L85.43 188.91L90.67 188.03L95.92 187.26L101.16 186.59L106.4 186L111.65 185.5L116.89 185.05L122.13 184.64L127.38 184.27L132.62 183.97L137.86 183.74" stroke="#bfbf00" stroke-width="1.2" stroke-linejoin="round" stroke-opacity="0.75"/><path d="M33 211.75L38.24 208.31L43.49 205.13L48.73 202.08L53.97 199.16L59.22 196.8L64.46 194.93L69.7 193.25L74.94 191.79L80.19 190.53L85.43 189.49L90.67 188.62L95.92 187.84L101.16 187.17L106.4 186.58L111.65 186.08L116.89 185.63L122.13 185.22L127.38 184.86L132.62 184.56L137.86 184.33" stroke="#0000ff" stroke-width="1.2" stroke-linejoin="round" stroke-opacity="0.75"/><path d="M33 211.75L38.24 208.26L43.49 205.03L48.73 201.93L53.97 199.02L59.22 196.65L64.46 194.78L69.7 193.11L74.94 191.64L80.19 190.39L85.43 189.35L90.67 188.47L95.92 187.7L101.16 187.02L106.4 186.44L111.65 185.94L116.89 185.49L122.13 185.07L127.38 184.71L132.62 184.41L137.86 184.18" stroke="#00bfbf" stroke-width="1.2" stroke-linejoin="round" stroke-opacity="0.75"/></g>
<path d="M33 211.75h-2.62M33 192.27h-2.62M33 172.79h-2.62M33 153.3h-2.62M33 133.82h-2.62M33 211.75v2.62M59.22 211.75v2.62M85.43 211.75v2.62M111.65 211.75v2.62" stroke="#000" stroke-width="0.75"/>
<path d="M33 202.01h-1.5M33 182.53h-1.5M33 163.05h-1.5M33 143.56h-1.5M33 124.08h-1.5M38.24 211.75v1.5M43.49 211.75v1.5M48.73 211.75v1.5M53.97 211.75v1.5M64.46 211.75v1.5M69.7 211.75v1.5M74.94 211.75v1.5M80.19 211.75v1.5M90.67 211.75v1.5M95.92 211.75v1.5M101.16 211.75v1.5M106.4 211.75v1.5M116.89 211.75v1.5M122.13 211.75v1.5M127.38 211.75v1.5M132.62 211.75v1.5" stroke="#000" stroke-width="0.55"/>
<rect x="33" y="117.75" width="104.6" height="94" fill="none" stroke="#6a6a6a" stroke-width="1.3"/>
<g clip-path="url(#c11)" fill="none"><path d="M148.44 211.75V117.75M153.69 211.75V117.75M158.93 211.75V117.75M164.17 211.75V117.75M174.66 211.75V117.75M179.9 211.75V117.75M185.14 211.75V117.75M190.39 211.75V117.75M200.87 211.75V117.75M206.12 211.75V117.75M211.36 211.75V117.75M216.6 211.75V117.75M227.09 211.75V117.75M232.33 211.75V117.75M237.58 211.75V117.75M242.82 211.75V117.75M143.2 202.01H247.8M143.2 182.53H247.8M143.2 163.05H247.8M143.2 143.56H247.8M143.2 124.08H247.8" stroke="#d6d6d6" stroke-width="0.6"/><path d="M169.42 211.75V117.75M195.63 211.75V117.75M221.85 211.75V117.75M143.2 192.27H247.8M143.2 172.79H247.8M143.2 153.3H247.8M143.2 133.82H247.8" stroke="#a8a8a8" stroke-width="0.65" stroke-dasharray="2.41 1.04"/><path d="M169.42 211.75V117.75" stroke="#2a2a2a" stroke-width="1.15" stroke-dasharray="2.35 1.75" stroke-dashoffset="0.7"/><path d="M148.44 208.62V207.61M153.69 205.75V203.91M158.93 203.12V200.65M164.17 200.67V197.68M169.42 198.37V194.98M174.66 196.19V192.5M179.9 194.26V190.34M185.14 192.62V188.43M190.39 191.15V186.72M195.63 189.89V185.29M200.87 188.78V184.11M206.12 187.78V183.03M211.36 186.86V182.08M216.6 186.02V181.24M221.85 185.25V180.52M227.09 184.53V179.88M232.33 183.86V179.29M237.58 183.24V178.77M242.82 182.68V178.33M248.06 182.19V178" stroke="#ff0000" stroke-width="0.5"/><path d="M147.69 208.62h1.5M147.69 205.54h1.5M152.94 205.75h1.5M152.94 199.83h1.5M158.18 203.12h1.5M158.18 194.62h1.5M163.42 200.67h1.5M163.42 189.75h1.5M168.67 198.37h1.5M168.67 185.19h1.5M173.91 196.19h1.5M173.91 180.86h1.5M179.15 194.26h1.5M179.15 177.03h1.5M184.39 192.62h1.5M184.39 173.77h1.5M189.64 191.15h1.5M189.64 170.86h1.5M194.88 189.89h1.5M194.88 168.35h1.5M200.12 188.78h1.5M200.12 166.16h1.5M205.37 187.78h1.5M205.37 164.16h1.5M210.61 186.86h1.5M210.61 162.34h1.5M215.85 186.02h1.5M215.85 160.68h1.5M221.1 185.25h1.5M221.1 159.15h1.5M226.34 184.53h1.5M226.34 157.72h1.5M231.58 183.86h1.5M231.58 156.39h1.5M236.83 183.24h1.5M236.83 155.15h1.5M242.07 182.68h1.5M242.07 154.04h1.5M247.31 182.19h1.5M247.31 153.06h1.5" stroke="#ff0000" stroke-width="0.9"/><path d="M148.44 207.61V206.92M153.69 203.91V202.75M158.93 200.65V199.29M164.17 197.68V196.42M169.42 194.98V193.86M174.66 192.5V191.52M179.9 190.34V189.38M185.14 188.43V187.36M190.39 186.72V185.45M195.63 185.29V183.73M200.87 184.11V182.15M206.12 183.03V180.62M211.36 182.08V179.19M216.6 181.24V177.9M221.85 180.52V176.82M227.09 179.88V175.87M232.33 179.29V174.95M237.58 178.77V174.11M242.82 178.33V173.38M248.06 178V172.81" stroke="#bfbf00" stroke-width="0.5"/><path d="M147.69 207.61h1.5M147.69 204.06h1.5M152.94 203.91h1.5M152.94 197.19h1.5M158.18 200.65h1.5M158.18 191.13h1.5M163.42 197.68h1.5M163.42 185.62h1.5M168.67 194.98h1.5M168.67 180.6h1.5M173.91 192.5h1.5M173.91 176.01h1.5M179.15 190.34h1.5M179.15 171.99h1.5M184.39 188.43h1.5M184.39 168.45h1.5M189.64 186.72h1.5M189.64 165.26h1.5M194.88 185.29h1.5M194.88 162.62h1.5M200.12 184.11h1.5M200.12 160.41h1.5M205.37 183.03h1.5M205.37 158.42h1.5M210.61 182.08h1.5M210.61 156.64h1.5M215.85 181.24h1.5M215.85 155.09h1.5M221.1 180.52h1.5M221.1 153.75h1.5M226.34 179.88h1.5M226.34 152.56h1.5M231.58 179.29h1.5M231.58 151.47h1.5M236.83 178.77h1.5M236.83 150.5h1.5M242.07 178.33h1.5M242.07 149.69h1.5M247.31 178h1.5M247.31 149.07h1.5" stroke="#bfbf00" stroke-width="0.9"/><path d="M148.44 206.92V205.3M148.44 201.87V200.7M153.69 202.75V199.85M153.69 193.52V191.53M158.93 199.29V195.44M158.93 186.76V184.27M164.17 196.42V191.87M164.17 181.3V178.57M169.42 193.86V188.77M169.42 176.55V173.73M174.66 191.52V186.01M174.66 172.33V169.54M179.9 189.38V183.74M179.9 168.85V165.93M185.14 187.36V181.66M185.14 165.66V162.68M190.39 185.45V179.75M190.39 162.74V159.77M195.63 183.73V178.12M195.63 160.24V157.36M200.87 182.15V176.69M200.87 158.05V155.31M206.12 180.62V175.34M206.12 155.99V153.43M211.36 179.19V174.13M211.36 154.14V151.81M216.6 177.9V173.12M216.6 152.58V150.52M221.85 176.82V172.35M221.85 151.4V149.66M227.09 175.87V171.74M227.09 150.46V149.06M232.33 174.95V171.17M232.33 149.6V148.55M237.58 174.11V170.7M237.58 148.88V148.2M242.82 173.38V170.36M242.82 148.36V148.07M248.06 172.81V170.2" stroke="#0000ff" stroke-width="0.5"/><path d="M147.69 206.92h1.5M147.69 200.7h1.5M152.94 202.75h1.5M152.94 191.53h1.5M158.18 199.29h1.5M158.18 184.27h1.5M163.42 196.42h1.5M163.42 178.57h1.5M168.67 193.86h1.5M168.67 173.73h1.5M173.91 191.52h1.5M173.91 169.54h1.5M179.15 189.38h1.5M179.15 165.93h1.5M184.39 187.36h1.5M184.39 162.68h1.5M189.64 185.45h1.5M189.64 159.77h1.5M194.88 183.73h1.5M194.88 157.36h1.5M200.12 182.15h1.5M200.12 155.31h1.5M205.37 180.62h1.5M205.37 153.43h1.5M210.61 179.19h1.5M210.61 151.81h1.5M215.85 177.9h1.5M215.85 150.52h1.5M221.1 176.82h1.5M221.1 149.66h1.5M226.34 175.87h1.5M226.34 149.06h1.5M231.58 174.95h1.5M231.58 148.55h1.5M236.83 174.11h1.5M236.83 148.2h1.5M242.07 173.38h1.5M242.07 148.07h1.5M247.31 172.81h1.5M247.31 148.22h1.5" stroke="#0000ff" stroke-width="0.9"/><path d="M148.44 205.3V201.87M153.69 199.85V193.52M158.93 195.44V186.76M164.17 191.87V181.3M169.42 188.77V176.55M174.66 186.01V172.33M179.9 183.74V168.85M185.14 181.66V165.66M190.39 179.75V162.74M195.63 178.12V160.24M200.87 176.69V158.05M206.12 175.34V155.99M211.36 174.13V154.14M216.6 173.12V152.58M221.85 172.35V151.4M227.09 171.74V150.46M232.33 171.17V149.6M237.58 170.7V148.88M242.82 170.36V148.36M248.06 170.2V148.1" stroke="#00bfbf" stroke-width="0.5"/><path d="M147.69 205.3h1.5M147.69 201.87h1.5M152.94 199.85h1.5M152.94 193.52h1.5M158.18 195.44h1.5M158.18 186.76h1.5M163.42 191.87h1.5M163.42 181.3h1.5M168.67 188.77h1.5M168.67 176.55h1.5M173.91 186.01h1.5M173.91 172.33h1.5M179.15 183.74h1.5M179.15 168.85h1.5M184.39 181.66h1.5M184.39 165.66h1.5M189.64 179.75h1.5M189.64 162.74h1.5M194.88 178.12h1.5M194.88 160.24h1.5M200.12 176.69h1.5M200.12 158.05h1.5M205.37 175.34h1.5M205.37 155.99h1.5M210.61 174.13h1.5M210.61 154.14h1.5M215.85 173.12h1.5M215.85 152.58h1.5M221.1 172.35h1.5M221.1 151.4h1.5M226.34 171.74h1.5M226.34 150.46h1.5M231.58 171.17h1.5M231.58 149.6h1.5M236.83 170.7h1.5M236.83 148.88h1.5M242.07 170.36h1.5M242.07 148.36h1.5M247.31 170.2h1.5M247.31 148.1h1.5" stroke="#00bfbf" stroke-width="0.9"/><path d="M143.2 211.75L148.44 207.08L153.69 202.79L158.93 198.87L164.17 195.21L169.42 191.78L174.66 188.53L179.9 185.64L185.14 183.19L190.39 181L195.63 179.12L200.87 177.47L206.12 175.97L211.36 174.6L216.6 173.35L221.85 172.2L227.09 171.13L232.33 170.12L237.58 169.2L242.82 168.36L248.06 167.62" stroke="#ff0000" stroke-width="1.2" stroke-linejoin="round" stroke-opacity="0.75"/><path d="M143.2 211.75L148.44 205.83L153.69 200.55L158.93 195.89L164.17 191.65L169.42 187.79L174.66 184.26L179.9 181.16L185.14 178.44L190.39 175.99L195.63 173.96L200.87 172.26L206.12 170.73L211.36 169.36L216.6 168.16L221.85 167.14L227.09 166.22L232.33 165.38L237.58 164.64L242.82 164.01L248.06 163.53" stroke="#bfbf00" stroke-width="1.2" stroke-linejoin="round" stroke-opacity="0.75"/><path d="M143.2 211.75L148.44 203.81L153.69 197.14L158.93 191.78L164.17 187.49L169.42 183.79L174.66 180.53L179.9 177.66L185.14 175.02L190.39 172.61L195.63 170.55L200.87 168.73L206.12 167.03L211.36 165.5L216.6 164.21L221.85 163.24L227.09 162.46L232.33 161.75L237.58 161.15L242.82 160.73L248.06 160.51" stroke="#0000ff" stroke-width="1.2" stroke-linejoin="round" stroke-opacity="0.75"/><path d="M143.2 211.75L148.44 203.59L153.69 196.68L158.93 191.1L164.17 186.58L169.42 182.66L174.66 179.17L179.9 176.29L185.14 173.66L190.39 171.25L195.63 169.18L200.87 167.37L206.12 165.66L211.36 164.13L216.6 162.85L221.85 161.88L227.09 161.1L232.33 160.39L237.58 159.79L242.82 159.36L248.06 159.15" stroke="#00bfbf" stroke-width="1.2" stroke-linejoin="round" stroke-opacity="0.75"/></g>
<path d="M143.2 211.75h-2.62M143.2 192.27h-2.62M143.2 172.79h-2.62M143.2 153.3h-2.62M143.2 133.82h-2.62M143.2 211.75v2.62M169.42 211.75v2.62M195.63 211.75v2.62M221.85 211.75v2.62" stroke="#000" stroke-width="0.75"/>
<path d="M143.2 202.01h-1.5M143.2 182.53h-1.5M143.2 163.05h-1.5M143.2 143.56h-1.5M143.2 124.08h-1.5M148.44 211.75v1.5M153.69 211.75v1.5M158.93 211.75v1.5M164.17 211.75v1.5M174.66 211.75v1.5M179.9 211.75v1.5M185.14 211.75v1.5M190.39 211.75v1.5M200.87 211.75v1.5M206.12 211.75v1.5M211.36 211.75v1.5M216.6 211.75v1.5M227.09 211.75v1.5M232.33 211.75v1.5M237.58 211.75v1.5M242.82 211.75v1.5" stroke="#000" stroke-width="0.55"/>
<rect x="143.2" y="117.75" width="104.6" height="94" fill="none" stroke="#6a6a6a" stroke-width="1.3"/>
<g clip-path="url(#c12)" fill="none"><path d="M258.64 211.75V117.75M263.89 211.75V117.75M269.13 211.75V117.75M274.37 211.75V117.75M284.86 211.75V117.75M290.1 211.75V117.75M295.34 211.75V117.75M300.59 211.75V117.75M311.07 211.75V117.75M316.32 211.75V117.75M321.56 211.75V117.75M326.8 211.75V117.75M337.29 211.75V117.75M342.53 211.75V117.75M347.78 211.75V117.75M353.02 211.75V117.75M253.4 202.01H358M253.4 182.53H358M253.4 163.05H358M253.4 143.56H358M253.4 124.08H358" stroke="#d6d6d6" stroke-width="0.6"/><path d="M279.62 211.75V117.75M305.83 211.75V117.75M332.05 211.75V117.75M253.4 192.27H358M253.4 172.79H358M253.4 153.3H358M253.4 133.82H358" stroke="#a8a8a8" stroke-width="0.65" stroke-dasharray="2.41 1.04"/><path d="M279.62 211.75V117.75" stroke="#2a2a2a" stroke-width="1.15" stroke-dasharray="2.35 1.75" stroke-dashoffset="0.7"/><path d="M258.64 209.75V209.13M263.89 207.85V206.72M269.13 205.97V204.4M274.37 204.15V202.18M279.62 202.68V200.39M284.86 201.52V198.96M290.1 200.49V197.69M295.34 199.59V196.58M300.59 198.8V195.62M305.83 198.11V194.83M311.07 197.5V194.17M316.32 196.96V193.58M321.56 196.47V193.07M326.8 196.03V192.62M332.05 195.62V192.24M337.29 195.23V191.9M342.53 194.86V191.59M347.78 194.52V191.31M353.02 194.21V191.08M358.26 193.94V190.91" stroke="#ff0000" stroke-width="0.5"/><path d="M257.89 209.75h1.5M257.89 207.95h1.5M263.14 207.85h1.5M263.14 204.35h1.5M268.38 205.97h1.5M268.38 200.77h1.5M273.62 204.15h1.5M273.62 197.33h1.5M278.87 202.68h1.5M278.87 194.52h1.5M284.11 201.52h1.5M284.11 192.33h1.5M289.35 200.49h1.5M289.35 190.38h1.5M294.59 199.59h1.5M294.59 188.66h1.5M299.84 198.8h1.5M299.84 187.16h1.5M305.08 198.11h1.5M305.08 185.85h1.5M310.32 197.5h1.5M310.32 184.69h1.5M315.57 196.96h1.5M315.57 183.67h1.5M320.81 196.47h1.5M320.81 182.75h1.5M326.05 196.03h1.5M326.05 181.91h1.5M331.3 195.62h1.5M331.3 181.12h1.5M336.54 195.23h1.5M336.54 180.38h1.5M341.78 194.86h1.5M341.78 179.69h1.5M347.03 194.52h1.5M347.03 179.04h1.5M352.27 194.21h1.5M352.27 178.45h1.5M357.51 193.94h1.5M357.51 177.93h1.5" stroke="#ff0000" stroke-width="0.9"/><path d="M258.64 207.48V207.3M263.89 203.54V203.16M269.13 199.76V199.18M274.37 196.14V195.61M279.62 193.21V192.72M284.86 190.89V190.42M290.1 188.82V188.38M295.34 187V186.58M300.59 185.44V185.04M305.83 184.15V183.77M311.07 183.06V182.7M316.32 182.11V181.75M321.56 181.27V180.92M326.8 180.55V180.21M332.05 179.92V179.59M337.29 179.37V179.04M342.53 178.85V178.54M347.78 178.4V178.09M353.02 178.03V177.72M358.26 177.75V177.44" stroke="#bfbf00" stroke-width="0.5"/><path d="M257.89 208.93h1.5M257.89 207.3h1.5M263.14 206.31h1.5M263.14 203.16h1.5M268.38 203.8h1.5M268.38 199.18h1.5M273.62 201.54h1.5M273.62 195.61h1.5M278.87 199.71h1.5M278.87 192.72h1.5M284.11 198.26h1.5M284.11 190.42h1.5M289.35 196.96h1.5M289.35 188.38h1.5M294.59 195.83h1.5M294.59 186.58h1.5M299.84 194.85h1.5M299.84 185.04h1.5M305.08 194.05h1.5M305.08 183.77h1.5M310.32 193.37h1.5M310.32 182.7h1.5M315.57 192.77h1.5M315.57 181.75h1.5M320.81 192.25h1.5M320.81 180.92h1.5M326.05 191.79h1.5M326.05 180.21h1.5M331.3 191.4h1.5M331.3 179.59h1.5M336.54 191.06h1.5M336.54 179.04h1.5M341.78 190.74h1.5M341.78 178.54h1.5M347.03 190.46h1.5M347.03 178.09h1.5M352.27 190.22h1.5M352.27 177.72h1.5M357.51 190.05h1.5M357.51 177.44h1.5" stroke="#bfbf00" stroke-width="0.9"/><path d="M258.64 209.13V208.96M258.64 207.56V207.48M263.89 206.72V206.37M263.89 203.68V203.54M269.13 204.4V203.89M269.13 199.97V199.76M274.37 202.18V201.56M274.37 196.47V196.14M279.62 200.39V199.67M279.62 193.63V193.21M284.86 198.96V198.17M284.86 191.39V190.89M290.1 197.69V196.84M290.1 189.38V188.82M295.34 196.58V195.66M295.34 187.62V187M300.59 195.62V194.66M300.59 186.11V185.44M305.83 194.83V193.83M305.83 184.87V184.15M311.07 194.17V193.13M311.07 183.81V183.06M316.32 193.58V192.51M316.32 182.89V182.11M321.56 193.07V191.97M321.56 182.08V181.27M326.8 192.62V191.5M326.8 181.38V180.55M332.05 192.24V191.1M332.05 180.77V179.92M337.29 191.9V190.74M337.29 180.23V179.37M342.53 191.59V190.41M342.53 179.74V178.85M347.78 191.31V190.12M347.78 179.3V178.4M353.02 191.08V189.88M353.02 178.94V178.03M358.26 190.91V189.7M358.26 178.67V177.75" stroke="#0000ff" stroke-width="0.5"/><path d="M257.89 209.13h1.5M257.89 207.48h1.5M263.14 206.72h1.5M263.14 203.54h1.5M268.38 204.4h1.5M268.38 199.76h1.5M273.62 202.18h1.5M273.62 196.14h1.5M278.87 200.39h1.5M278.87 193.21h1.5M284.11 198.96h1.5M284.11 190.89h1.5M289.35 197.69h1.5M289.35 188.82h1.5M294.59 196.58h1.5M294.59 187h1.5M299.84 195.62h1.5M299.84 185.44h1.5M305.08 194.83h1.5M305.08 184.15h1.5M310.32 194.17h1.5M310.32 183.06h1.5M315.57 193.58h1.5M315.57 182.11h1.5M320.81 193.07h1.5M320.81 181.27h1.5M326.05 192.62h1.5M326.05 180.55h1.5M331.3 192.24h1.5M331.3 179.92h1.5M336.54 191.9h1.5M336.54 179.37h1.5M341.78 191.59h1.5M341.78 178.85h1.5M347.03 191.31h1.5M347.03 178.4h1.5M352.27 191.08h1.5M352.27 178.03h1.5M357.51 190.91h1.5M357.51 177.75h1.5" stroke="#0000ff" stroke-width="0.9"/><path d="M258.64 208.96V207.56M263.89 206.37V203.68M269.13 203.89V199.97M274.37 201.56V196.47M279.62 199.67V193.63M284.86 198.17V191.39M290.1 196.84V189.38M295.34 195.66V187.62M300.59 194.66V186.11M305.83 193.83V184.87M311.07 193.13V183.81M316.32 192.51V182.89M321.56 191.97V182.08M326.8 191.5V181.38M332.05 191.1V180.77M337.29 190.74V180.23M342.53 190.41V179.74M347.78 190.12V179.3M353.02 189.88V178.94M358.26 189.7V178.67" stroke="#00bfbf" stroke-width="0.5"/><path d="M257.89 208.96h1.5M257.89 207.56h1.5M263.14 206.37h1.5M263.14 203.68h1.5M268.38 203.89h1.5M268.38 199.97h1.5M273.62 201.56h1.5M273.62 196.47h1.5M278.87 199.67h1.5M278.87 193.63h1.5M284.11 198.17h1.5M284.11 191.39h1.5M289.35 196.84h1.5M289.35 189.38h1.5M294.59 195.66h1.5M294.59 187.62h1.5M299.84 194.66h1.5M299.84 186.11h1.5M305.08 193.83h1.5M305.08 184.87h1.5M310.32 193.13h1.5M310.32 183.81h1.5M315.57 192.51h1.5M315.57 182.89h1.5M320.81 191.97h1.5M320.81 182.08h1.5M326.05 191.5h1.5M326.05 181.38h1.5M331.3 191.1h1.5M331.3 180.77h1.5M336.54 190.74h1.5M336.54 180.23h1.5M341.78 190.41h1.5M341.78 179.74h1.5M347.03 190.12h1.5M347.03 179.3h1.5M352.27 189.88h1.5M352.27 178.94h1.5M357.51 189.7h1.5M357.51 178.67h1.5" stroke="#00bfbf" stroke-width="0.9"/><path d="M253.4 211.75L258.64 208.85L263.89 206.1L269.13 203.37L274.37 200.74L279.62 198.6L284.86 196.92L290.1 195.44L295.34 194.13L300.59 192.98L305.83 191.98L311.07 191.1L316.32 190.31L321.56 189.61L326.8 188.97L332.05 188.37L337.29 187.81L342.53 187.27L347.78 186.78L353.02 186.33L358.26 185.94" stroke="#ff0000" stroke-width="1.2" stroke-linejoin="round" stroke-opacity="0.75"/><path d="M253.4 211.75L258.64 208.11L263.89 204.74L269.13 201.49L274.37 198.58L279.62 196.21L284.86 194.34L290.1 192.67L295.34 191.2L300.59 189.95L305.83 188.91L311.07 188.03L316.32 187.26L321.56 186.59L326.8 186L332.05 185.5L337.29 185.05L342.53 184.64L347.78 184.27L353.02 183.97L358.26 183.74" stroke="#bfbf00" stroke-width="1.2" stroke-linejoin="round" stroke-opacity="0.75"/><path d="M253.4 211.75L258.64 208.31L263.89 205.13L269.13 202.08L274.37 199.16L279.62 196.8L284.86 194.93L290.1 193.25L295.34 191.79L300.59 190.53L305.83 189.49L311.07 188.62L316.32 187.84L321.56 187.17L326.8 186.58L332.05 186.08L337.29 185.63L342.53 185.22L347.78 184.86L353.02 184.56L358.26 184.33" stroke="#0000ff" stroke-width="1.2" stroke-linejoin="round" stroke-opacity="0.75"/><path d="M253.4 211.75L258.64 208.26L263.89 205.03L269.13 201.93L274.37 199.02L279.62 196.65L284.86 194.78L290.1 193.11L295.34 191.64L300.59 190.39L305.83 189.35L311.07 188.47L316.32 187.7L321.56 187.02L326.8 186.44L332.05 185.94L337.29 185.49L342.53 185.07L347.78 184.71L353.02 184.41L358.26 184.18" stroke="#00bfbf" stroke-width="1.2" stroke-linejoin="round" stroke-opacity="0.75"/></g>
<path d="M253.4 211.75h-2.62M253.4 192.27h-2.62M253.4 172.79h-2.62M253.4 153.3h-2.62M253.4 133.82h-2.62M253.4 211.75v2.62M279.62 211.75v2.62M305.83 211.75v2.62M332.05 211.75v2.62" stroke="#000" stroke-width="0.75"/>
<path d="M253.4 202.01h-1.5M253.4 182.53h-1.5M253.4 163.05h-1.5M253.4 143.56h-1.5M253.4 124.08h-1.5M258.64 211.75v1.5M263.89 211.75v1.5M269.13 211.75v1.5M274.37 211.75v1.5M284.86 211.75v1.5M290.1 211.75v1.5M295.34 211.75v1.5M300.59 211.75v1.5M311.07 211.75v1.5M316.32 211.75v1.5M321.56 211.75v1.5M326.8 211.75v1.5M337.29 211.75v1.5M342.53 211.75v1.5M347.78 211.75v1.5M353.02 211.75v1.5" stroke="#000" stroke-width="0.55"/>
<rect x="253.4" y="117.75" width="104.6" height="94" fill="none" stroke="#6a6a6a" stroke-width="1.3"/>
<g clip-path="url(#c13)" fill="none"><path d="M368.74 211.75V117.75M373.99 211.75V117.75M379.23 211.75V117.75M384.47 211.75V117.75M394.96 211.75V117.75M400.2 211.75V117.75M405.44 211.75V117.75M410.69 211.75V117.75M421.17 211.75V117.75M426.42 211.75V117.75M431.66 211.75V117.75M436.9 211.75V117.75M447.39 211.75V117.75M452.63 211.75V117.75M457.88 211.75V117.75M463.12 211.75V117.75M363.5 202.01H468.1M363.5 182.53H468.1M363.5 163.05H468.1M363.5 143.56H468.1M363.5 124.08H468.1" stroke="#d6d6d6" stroke-width="0.6"/><path d="M389.72 211.75V117.75M415.93 211.75V117.75M442.15 211.75V117.75M363.5 192.27H468.1M363.5 172.79H468.1M363.5 153.3H468.1M363.5 133.82H468.1" stroke="#a8a8a8" stroke-width="0.65" stroke-dasharray="2.41 1.04"/><path d="M394.96 217.03V216.98M394.96 206.52V206.47M400.2 217.44V217.38M400.2 206.12V206.06M405.44 217.79V217.73M405.44 205.77V205.71M410.69 218.11V218.05M410.69 205.45V205.39M415.93 218.37V218.31M415.93 205.19V205.13M421.17 218.59V218.52M421.17 204.98V204.91M426.42 218.77V218.7M426.42 204.8V204.73M431.66 218.94V218.87M431.66 204.63V204.56M436.9 219.1V219.02M436.9 204.48V204.4M442.15 219.25V219.18M442.15 204.32V204.25M447.39 219.4V219.32M447.39 204.18V204.1M452.63 219.54V219.47M452.63 204.03V203.96M457.88 219.68V219.6M457.88 203.9V203.82M463.12 219.81V219.73M463.12 203.77V203.69M468.36 219.93V219.85M468.36 203.65V203.57" stroke="#ff0000" stroke-width="0.5"/><path d="M367.99 212.82h1.5M367.99 210.68h1.5M373.24 213.88h1.5M373.24 209.62h1.5M378.48 214.87h1.5M378.48 208.63h1.5M383.72 215.78h1.5M383.72 207.72h1.5M388.97 216.52h1.5M388.97 206.98h1.5M394.21 217.03h1.5M394.21 206.47h1.5M399.45 217.44h1.5M399.45 206.06h1.5M404.69 217.79h1.5M404.69 205.71h1.5M409.94 218.11h1.5M409.94 205.39h1.5M415.18 218.37h1.5M415.18 205.13h1.5M420.42 218.59h1.5M420.42 204.91h1.5M425.67 218.77h1.5M425.67 204.73h1.5M430.91 218.94h1.5M430.91 204.56h1.5M436.15 219.1h1.5M436.15 204.4h1.5M441.4 219.25h1.5M441.4 204.25h1.5M446.64 219.4h1.5M446.64 204.1h1.5M451.88 219.54h1.5M451.88 203.96h1.5M457.13 219.68h1.5M457.13 203.82h1.5M462.37 219.81h1.5M462.37 203.69h1.5M467.61 219.93h1.5M467.61 203.57h1.5" stroke="#ff0000" stroke-width="0.9"/><path d="M368.74 212.81V212.69M368.74 210.81V210.69M373.99 213.86V213.62M373.99 209.88V209.64M379.23 214.84V214.49M379.23 209.01V208.66M384.47 215.74V215.3M384.47 208.2V207.76M389.72 216.48V215.95M389.72 207.55V207.02M394.96 216.98V216.4M394.96 207.1V206.52M400.2 217.38V216.75M400.2 206.75V206.12M405.44 217.73V217.06M405.44 206.44V205.77M410.69 218.05V217.35M410.69 206.15V205.45M415.93 218.31V217.58M415.93 205.92V205.19M421.17 218.52V217.77M421.17 205.73V204.98M426.42 218.7V217.93M426.42 205.57V204.8M431.66 218.87V218.08M431.66 205.42V204.63M436.9 219.02V218.22M436.9 205.28V204.48M442.15 219.18V218.35M442.15 205.15V204.32M447.39 219.32V218.48M447.39 205.02V204.18M452.63 219.47V218.61M452.63 204.89V204.03M457.88 219.6V218.73M457.88 204.77V203.9M463.12 219.73V218.84M463.12 204.66V203.77M468.36 219.85V218.95M468.36 204.55V203.65" stroke="#bfbf00" stroke-width="0.5"/><path d="M367.99 212.81h1.5M367.99 210.69h1.5M373.24 213.86h1.5M373.24 209.64h1.5M378.48 214.84h1.5M378.48 208.66h1.5M383.72 215.74h1.5M383.72 207.76h1.5M388.97 216.48h1.5M388.97 207.02h1.5M394.21 216.98h1.5M394.21 206.52h1.5M399.45 217.38h1.5M399.45 206.12h1.5M404.69 217.73h1.5M404.69 205.77h1.5M409.94 218.05h1.5M409.94 205.45h1.5M415.18 218.31h1.5M415.18 205.19h1.5M420.42 218.52h1.5M420.42 204.98h1.5M425.67 218.7h1.5M425.67 204.8h1.5M430.91 218.87h1.5M430.91 204.63h1.5M436.15 219.02h1.5M436.15 204.48h1.5M441.4 219.18h1.5M441.4 204.32h1.5M446.64 219.32h1.5M446.64 204.18h1.5M451.88 219.47h1.5M451.88 204.03h1.5M457.13 219.6h1.5M457.13 203.9h1.5M462.37 219.73h1.5M462.37 203.77h1.5M467.61 219.85h1.5M467.61 203.65h1.5" stroke="#bfbf00" stroke-width="0.9"/><path d="M373.99 213.62V213.54M373.99 209.96V209.88M379.23 214.49V214.37M379.23 209.13V209.01M384.47 215.3V215.14M384.47 208.36V208.2M389.72 215.95V215.76M389.72 207.74V207.55M394.96 216.4V216.18M394.96 207.32V207.1M400.2 216.75V216.53M400.2 206.97V206.75M405.44 217.06V216.82M405.44 206.68V206.44M410.69 217.35V217.09M410.69 206.41V206.15M415.93 217.58V217.31M415.93 206.19V205.92M421.17 217.77V217.49M421.17 206.01V205.73M426.42 217.93V217.65M426.42 205.85V205.57M431.66 218.08V217.79M431.66 205.71V205.42M436.9 218.22V217.92M436.9 205.58V205.28M442.15 218.35V218.05M442.15 205.45V205.15M447.39 218.48V218.18M447.39 205.32V205.02M452.63 218.61V218.3M452.63 205.2V204.89M457.88 218.73V218.41M457.88 205.09V204.77M463.12 218.84V218.52M463.12 204.98V204.66M468.36 218.95V218.62M468.36 204.88V204.55" stroke="#0000ff" stroke-width="0.5"/><path d="M367.99 212.69h1.5M367.99 210.81h1.5M373.24 213.62h1.5M373.24 209.88h1.5M378.48 214.49h1.5M378.48 209.01h1.5M383.72 215.3h1.5M383.72 208.2h1.5M388.97 215.95h1.5M388.97 207.55h1.5M394.21 216.4h1.5M394.21 207.1h1.5M399.45 216.75h1.5M399.45 206.75h1.5M404.69 217.06h1.5M404.69 206.44h1.5M409.94 217.35h1.5M409.94 206.15h1.5M415.18 217.58h1.5M415.18 205.92h1.5M420.42 217.77h1.5M420.42 205.73h1.5M425.67 217.93h1.5M425.67 205.57h1.5M430.91 218.08h1.5M430.91 205.42h1.5M436.15 218.22h1.5M436.15 205.28h1.5M441.4 218.35h1.5M441.4 205.15h1.5M446.64 218.48h1.5M446.64 205.02h1.5M451.88 218.61h1.5M451.88 204.89h1.5M457.13 218.73h1.5M457.13 204.77h1.5M462.37 218.84h1.5M462.37 204.66h1.5M467.61 218.95h1.5M467.61 204.55h1.5" stroke="#0000ff" stroke-width="0.9"/><path d="M368.74 212.65V210.85M373.99 213.54V209.96M379.23 214.37V209.13M384.47 215.14V208.36M389.72 215.76V207.74M394.96 216.18V207.32M400.2 216.53V206.97M405.44 216.82V206.68M410.69 217.09V206.41M415.93 217.31V206.19M421.17 217.49V206.01M426.42 217.65V205.85M431.66 217.79V205.71M436.9 217.92V205.58M442.15 218.05V205.45M447.39 218.18V205.32M452.63 218.3V205.2M457.88 218.41V205.09M463.12 218.52V204.98M468.36 218.62V204.88" stroke="#00bfbf" stroke-width="0.5"/><path d="M367.99 212.65h1.5M367.99 210.85h1.5M373.24 213.54h1.5M373.24 209.96h1.5M378.48 214.37h1.5M378.48 209.13h1.5M383.72 215.14h1.5M383.72 208.36h1.5M388.97 215.76h1.5M388.97 207.74h1.5M394.21 216.18h1.5M394.21 207.32h1.5M399.45 216.53h1.5M399.45 206.97h1.5M404.69 216.82h1.5M404.69 206.68h1.5M409.94 217.09h1.5M409.94 206.41h1.5M415.18 217.31h1.5M415.18 206.19h1.5M420.42 217.49h1.5M420.42 206.01h1.5M425.67 217.65h1.5M425.67 205.85h1.5M430.91 217.79h1.5M430.91 205.71h1.5M436.15 217.92h1.5M436.15 205.58h1.5M441.4 218.05h1.5M441.4 205.45h1.5M446.64 218.18h1.5M446.64 205.32h1.5M451.88 218.3h1.5M451.88 205.2h1.5M457.13 218.41h1.5M457.13 205.09h1.5M462.37 218.52h1.5M462.37 204.98h1.5M467.61 218.62h1.5M467.61 204.88h1.5" stroke="#00bfbf" stroke-width="0.9"/></g>
<path d="M363.5 211.75h-2.62M363.5 192.27h-2.62M363.5 172.79h-2.62M363.5 153.3h-2.62M363.5 133.82h-2.62M363.5 211.75v2.62M389.72 211.75v2.62M415.93 211.75v2.62M442.15 211.75v2.62" stroke="#000" stroke-width="0.75"/>
<path d="M363.5 202.01h-1.5M363.5 182.53h-1.5M363.5 163.05h-1.5M363.5 143.56h-1.5M363.5 124.08h-1.5M368.74 211.75v1.5M373.99 211.75v1.5M379.23 211.75v1.5M384.47 211.75v1.5M394.96 211.75v1.5M400.2 211.75v1.5M405.44 211.75v1.5M410.69 211.75v1.5M421.17 211.75v1.5M426.42 211.75v1.5M431.66 211.75v1.5M436.9 211.75v1.5M447.39 211.75v1.5M452.63 211.75v1.5M457.88 211.75v1.5M463.12 211.75v1.5" stroke="#000" stroke-width="0.55"/>
<rect x="363.5" y="117.75" width="104.6" height="94" fill="none" stroke="#6a6a6a" stroke-width="1.3"/>
<g clip-path="url(#c20)" fill="none"><path d="M38.24 315.3V221.3M43.49 315.3V221.3M48.73 315.3V221.3M53.97 315.3V221.3M64.46 315.3V221.3M69.7 315.3V221.3M74.94 315.3V221.3M80.19 315.3V221.3M90.67 315.3V221.3M95.92 315.3V221.3M101.16 315.3V221.3M106.4 315.3V221.3M116.89 315.3V221.3M122.13 315.3V221.3M127.38 315.3V221.3M132.62 315.3V221.3M33 305.56H137.6M33 286.08H137.6M33 266.6H137.6M33 247.11H137.6M33 227.63H137.6" stroke="#d6d6d6" stroke-width="0.6"/><path d="M59.22 315.3V221.3M85.43 315.3V221.3M111.65 315.3V221.3M33 295.82H137.6M33 276.34H137.6M33 256.85H137.6M33 237.37H137.6" stroke="#a8a8a8" stroke-width="0.65" stroke-dasharray="2.41 1.04"/><path d="M59.22 315.3V221.3" stroke="#2a2a2a" stroke-width="1.15" stroke-dasharray="2.35 1.75" stroke-dashoffset="0.7"/><path d="M38.24 313.94V313.81M43.49 312.42V312.16M48.73 310.62V310.22M53.97 308.66V308.14M59.22 306.94V306.31M64.46 305.47V304.76M69.7 304.06V303.28M74.94 302.78V301.94M80.19 301.7V300.81M85.43 300.88V299.96M90.67 300.26V299.32M95.92 299.72V298.78M101.16 299.26V298.31M106.4 298.88V297.93M111.65 298.58V297.62M116.89 298.31V297.35M122.13 298.08V297.12M127.38 297.9V296.94M132.62 297.78V296.82M137.86 297.74V296.78" stroke="#ff0000" stroke-width="0.5"/><path d="M37.49 313.94h1.5M37.49 312.98h1.5M42.74 312.42h1.5M42.74 310.39h1.5M47.98 310.62h1.5M47.98 307.32h1.5M53.22 308.66h1.5M53.22 304h1.5M58.47 306.94h1.5M58.47 301.06h1.5M63.71 305.47h1.5M63.71 298.56h1.5M68.95 304.06h1.5M68.95 296.16h1.5M74.19 302.78h1.5M74.19 293.99h1.5M79.44 301.7h1.5M79.44 292.15h1.5M84.68 300.88h1.5M84.68 290.75h1.5M89.92 300.26h1.5M89.92 289.69h1.5M95.17 299.72h1.5M95.17 288.77h1.5M100.41 299.26h1.5M100.41 288h1.5M105.65 298.88h1.5M105.65 287.35h1.5M110.9 298.58h1.5M110.9 286.83h1.5M116.14 298.31h1.5M116.14 286.38h1.5M121.38 298.08h1.5M121.38 285.99h1.5M126.63 297.9h1.5M126.63 285.68h1.5M131.87 297.78h1.5M131.87 285.48h1.5M137.11 297.74h1.5M137.11 285.41h1.5" stroke="#ff0000" stroke-width="0.9"/><path d="M38.24 313.81V313.76M43.49 312.16V312.04M48.73 310.22V310.01M53.97 308.14V307.82M59.22 306.31V305.92M64.46 304.76V304.32M69.7 303.28V302.8M74.94 301.94V301.43M80.19 300.81V300.27M85.43 299.96V299.4M90.67 299.32V298.75M95.92 298.78V298.21M101.16 298.31V297.76M106.4 297.93V297.38M111.65 297.62V297.09M116.89 297.35V296.84M122.13 297.12V296.62M127.38 296.94V296.45M132.62 296.82V296.35M137.86 296.78V296.33" stroke="#bfbf00" stroke-width="0.5"/><path d="M37.49 313.81h1.5M37.49 312.81h1.5M42.74 312.16h1.5M42.74 310.06h1.5M47.98 310.22h1.5M47.98 306.84h1.5M53.22 308.14h1.5M53.22 303.37h1.5M58.47 306.31h1.5M58.47 300.32h1.5M63.71 304.76h1.5M63.71 297.73h1.5M68.95 303.28h1.5M68.95 295.26h1.5M74.19 301.94h1.5M74.19 293.03h1.5M79.44 300.81h1.5M79.44 291.14h1.5M84.68 299.96h1.5M84.68 289.73h1.5M89.92 299.32h1.5M89.92 288.67h1.5M95.17 298.78h1.5M95.17 287.76h1.5M100.41 298.31h1.5M100.41 286.99h1.5M105.65 297.93h1.5M105.65 286.35h1.5M110.9 297.62h1.5M110.9 285.83h1.5M116.14 297.35h1.5M116.14 285.39h1.5M121.38 297.12h1.5M121.38 285h1.5M126.63 296.94h1.5M126.63 284.69h1.5M131.87 296.82h1.5M131.87 284.49h1.5M137.11 296.78h1.5M137.11 284.43h1.5" stroke="#bfbf00" stroke-width="0.9"/><path d="M48.73 306.8V306.67M53.97 303.35V303.08M59.22 300.32V299.96M64.46 297.77V297.34M69.7 295.33V294.84M74.94 293.14V292.6M80.19 291.29V290.72M85.43 289.9V289.33M90.67 288.85V288.3M95.92 287.95V287.42M101.16 297.76V297.7M101.16 287.18V286.68M106.4 297.38V297.31M106.4 286.56V286.07M111.65 297.09V297M111.65 286.07V285.59M116.89 296.84V296.74M116.89 285.66V285.18M122.13 296.62V296.52M122.13 285.3V284.82M127.38 296.45V296.35M127.38 285.03V284.55M132.62 296.35V296.25M132.62 284.87V284.38M137.86 296.33V296.24M137.86 284.85V284.35" stroke="#0000ff" stroke-width="0.5"/><path d="M37.49 313.76h1.5M37.49 312.78h1.5M42.74 312.04h1.5M42.74 309.99h1.5M47.98 310.01h1.5M47.98 306.67h1.5M53.22 307.81h1.5M53.22 303.08h1.5M58.47 305.9h1.5M58.47 299.96h1.5M63.71 304.29h1.5M63.71 297.34h1.5M68.95 302.76h1.5M68.95 294.84h1.5M74.19 301.39h1.5M74.19 292.6h1.5M79.44 300.24h1.5M79.44 290.72h1.5M84.68 299.38h1.5M84.68 289.33h1.5M89.92 298.75h1.5M89.92 288.3h1.5M95.17 298.21h1.5M95.17 287.42h1.5M100.41 297.76h1.5M100.41 286.68h1.5M105.65 297.38h1.5M105.65 286.07h1.5M110.9 297.09h1.5M110.9 285.59h1.5M116.14 296.84h1.5M116.14 285.18h1.5M121.38 296.62h1.5M121.38 284.82h1.5M126.63 296.45h1.5M126.63 284.55h1.5M131.87 296.35h1.5M131.87 284.38h1.5M137.11 296.33h1.5M137.11 284.35h1.5" stroke="#0000ff" stroke-width="0.9"/><path d="M38.24 313.73V312.79M43.49 312V310.03M48.73 309.98V306.8M53.97 307.82V303.35M59.22 305.92V300.32M64.46 304.32V297.77M69.7 302.8V295.33M74.94 301.43V293.14M80.19 300.27V291.29M85.43 299.4V289.9M90.67 298.74V288.85M95.92 298.18V287.95M101.16 297.7V287.18M106.4 297.31V286.56M111.65 297V286.07M116.89 296.74V285.66M122.13 296.52V285.3M127.38 296.35V285.03M132.62 296.25V284.87M137.86 296.24V284.85" stroke="#00bfbf" stroke-width="0.5"/><path d="M37.49 313.73h1.5M37.49 312.79h1.5M42.74 312h1.5M42.74 310.03h1.5M47.98 309.98h1.5M47.98 306.8h1.5M53.22 307.82h1.5M53.22 303.35h1.5M58.47 305.92h1.5M58.47 300.32h1.5M63.71 304.32h1.5M63.71 297.77h1.5M68.95 302.8h1.5M68.95 295.33h1.5M74.19 301.43h1.5M74.19 293.14h1.5M79.44 300.27h1.5M79.44 291.29h1.5M84.68 299.4h1.5M84.68 289.9h1.5M89.92 298.74h1.5M89.92 288.85h1.5M95.17 298.18h1.5M95.17 287.95h1.5M100.41 297.7h1.5M100.41 287.18h1.5M105.65 297.31h1.5M105.65 286.56h1.5M110.9 297h1.5M110.9 286.07h1.5M116.14 296.74h1.5M116.14 285.66h1.5M121.38 296.52h1.5M121.38 285.3h1.5M126.63 296.35h1.5M126.63 285.03h1.5M131.87 296.25h1.5M131.87 284.87h1.5M137.11 296.24h1.5M137.11 284.85h1.5" stroke="#00bfbf" stroke-width="0.9"/><path d="M33 315.3L38.24 313.46L43.49 311.4L48.73 308.97L53.97 306.33L59.22 304L64.46 302.01L69.7 300.11L74.94 298.39L80.19 296.93L85.43 295.82L90.67 294.98L95.92 294.25L101.16 293.63L106.4 293.12L111.65 292.7L116.89 292.35L122.13 292.04L127.38 291.79L132.62 291.63L137.86 291.58" stroke="#ff0000" stroke-width="1.2" stroke-linejoin="round" stroke-opacity="0.75"/><path d="M33 315.3L38.24 313.31L43.49 311.11L48.73 308.53L53.97 305.76L59.22 303.32L64.46 301.25L69.7 299.27L74.94 297.48L80.19 295.97L85.43 294.84L90.67 294L95.92 293.27L101.16 292.65L106.4 292.14L111.65 291.73L116.89 291.37L122.13 291.06L127.38 290.82L132.62 290.66L137.86 290.6" stroke="#bfbf00" stroke-width="1.2" stroke-linejoin="round" stroke-opacity="0.75"/><path d="M33 315.3L38.24 313.27L43.49 311.01L48.73 308.34L53.97 305.45L59.22 302.93L64.46 300.81L69.7 298.8L74.94 296.99L80.19 295.48L85.43 294.36L90.67 293.53L95.92 292.81L101.16 292.22L106.4 291.73L111.65 291.34L116.89 291.01L122.13 290.72L127.38 290.5L132.62 290.36L137.86 290.34" stroke="#0000ff" stroke-width="1.2" stroke-linejoin="round" stroke-opacity="0.75"/><path d="M33 315.3L38.24 313.26L43.49 311.01L48.73 308.39L53.97 305.58L59.22 303.12L64.46 301.04L69.7 299.07L74.94 297.28L80.19 295.78L85.43 294.65L90.67 293.8L95.92 293.06L101.16 292.44L106.4 291.93L111.65 291.53L116.89 291.2L122.13 290.91L127.38 290.69L132.62 290.56L137.86 290.55" stroke="#00bfbf" stroke-width="1.2" stroke-linejoin="round" stroke-opacity="0.75"/></g>
<path d="M33 315.3h-2.62M33 295.82h-2.62M33 276.34h-2.62M33 256.85h-2.62M33 237.37h-2.62M33 315.3v2.62M59.22 315.3v2.62M85.43 315.3v2.62M111.65 315.3v2.62" stroke="#000" stroke-width="0.75"/>
<path d="M33 305.56h-1.5M33 286.08h-1.5M33 266.6h-1.5M33 247.11h-1.5M33 227.63h-1.5M38.24 315.3v1.5M43.49 315.3v1.5M48.73 315.3v1.5M53.97 315.3v1.5M64.46 315.3v1.5M69.7 315.3v1.5M74.94 315.3v1.5M80.19 315.3v1.5M90.67 315.3v1.5M95.92 315.3v1.5M101.16 315.3v1.5M106.4 315.3v1.5M116.89 315.3v1.5M122.13 315.3v1.5M127.38 315.3v1.5M132.62 315.3v1.5" stroke="#000" stroke-width="0.55"/>
<rect x="33" y="221.3" width="104.6" height="94" fill="none" stroke="#6a6a6a" stroke-width="1.3"/>
<g clip-path="url(#c21)" fill="none"><path d="M148.44 315.3V221.3M153.69 315.3V221.3M158.93 315.3V221.3M164.17 315.3V221.3M174.66 315.3V221.3M179.9 315.3V221.3M185.14 315.3V221.3M190.39 315.3V221.3M200.87 315.3V221.3M206.12 315.3V221.3M211.36 315.3V221.3M216.6 315.3V221.3M227.09 315.3V221.3M232.33 315.3V221.3M237.58 315.3V221.3M242.82 315.3V221.3M143.2 305.56H247.8M143.2 286.08H247.8M143.2 266.6H247.8M143.2 247.11H247.8M143.2 227.63H247.8" stroke="#d6d6d6" stroke-width="0.6"/><path d="M169.42 315.3V221.3M195.63 315.3V221.3M221.85 315.3V221.3M143.2 295.82H247.8M143.2 276.34H247.8M143.2 256.85H247.8M143.2 237.37H247.8" stroke="#a8a8a8" stroke-width="0.65" stroke-dasharray="2.41 1.04"/><path d="M169.42 315.3V221.3" stroke="#2a2a2a" stroke-width="1.15" stroke-dasharray="2.35 1.75" stroke-dashoffset="0.7"/><path d="M148.44 312.77V312.11M153.69 310.26V308.99M158.93 307.68V305.84M164.17 305.11V302.74M169.42 302.8V300.01M174.66 300.75V297.63M179.9 298.83V295.4M185.14 297.04V293.35M190.39 295.4V291.51M195.63 293.93V289.91M200.87 292.56V288.48M206.12 291.27V287.16M211.36 290.08V285.98M216.6 289.05V284.94M221.85 288.21V284.09M227.09 287.5V283.36M232.33 286.85V282.68M237.58 286.29V282.1M242.82 285.84V281.62M248.06 285.52V281.28" stroke="#ff0000" stroke-width="0.5"/><path d="M147.69 312.77h1.5M147.69 310.5h1.5M152.94 310.26h1.5M152.94 305.73h1.5M158.18 307.68h1.5M158.18 300.83h1.5M163.42 305.11h1.5M163.42 295.95h1.5M168.67 302.8h1.5M168.67 291.57h1.5M173.91 300.75h1.5M173.91 287.68h1.5M179.15 298.83h1.5M179.15 284.03h1.5M184.39 297.04h1.5M184.39 280.64h1.5M189.64 295.4h1.5M189.64 277.52h1.5M194.88 293.93h1.5M194.88 274.72h1.5M200.12 292.56h1.5M200.12 272.13h1.5M205.37 291.27h1.5M205.37 269.67h1.5M210.61 290.08h1.5M210.61 267.43h1.5M215.85 289.05h1.5M215.85 265.47h1.5M221.1 288.21h1.5M221.1 263.87h1.5M226.34 287.5h1.5M226.34 262.53h1.5M231.58 286.85h1.5M231.58 261.29h1.5M236.83 286.29h1.5M236.83 260.22h1.5M242.07 285.84h1.5M242.07 259.36h1.5M247.31 285.52h1.5M247.31 258.77h1.5" stroke="#ff0000" stroke-width="0.9"/><path d="M148.44 312.11V311.81M153.69 308.99V308.38M158.93 305.84V304.86M164.17 302.74V301.39M169.42 300.01V298.42M174.66 297.63V295.97M179.9 295.4V293.74M185.14 293.35V291.72M190.39 291.51V289.94M195.63 289.91V288.4M200.87 288.48V287.04M206.12 287.16V285.82M211.36 285.98V284.72M216.6 284.94V283.76M221.85 284.09V282.93M227.09 283.36V282.2M232.33 282.68V281.52M237.58 282.1V280.92M242.82 281.62V280.42M248.06 281.28V280.03" stroke="#bfbf00" stroke-width="0.5"/><path d="M147.69 312.11h1.5M147.69 309.63h1.5M152.94 308.99h1.5M152.94 304.08h1.5M158.18 305.84h1.5M158.18 298.48h1.5M163.42 302.74h1.5M163.42 292.98h1.5M168.67 300.01h1.5M168.67 288.12h1.5M173.91 297.63h1.5M173.91 283.88h1.5M179.15 295.4h1.5M179.15 279.92h1.5M184.39 293.35h1.5M184.39 276.28h1.5M189.64 291.51h1.5M189.64 273.01h1.5M194.88 289.91h1.5M194.88 270.16h1.5M200.12 288.48h1.5M200.12 267.62h1.5M205.37 287.16h1.5M205.37 265.28h1.5M210.61 285.98h1.5M210.61 263.17h1.5M215.85 284.94h1.5M215.85 261.33h1.5M221.1 284.09h1.5M221.1 259.82h1.5M226.34 283.36h1.5M226.34 258.51h1.5M231.58 282.68h1.5M231.58 257.31h1.5M236.83 282.1h1.5M236.83 256.27h1.5M242.07 281.62h1.5M242.07 255.43h1.5M247.31 281.28h1.5M247.31 254.83h1.5" stroke="#bfbf00" stroke-width="0.9"/><path d="M148.44 311.81V311.67M148.44 309.26V308.96M153.69 308.38V308.11M153.69 303.32V302.73M158.93 304.86V304.45M158.93 297.21V296.33M164.17 301.39V300.84M164.17 291.2V290.02M169.42 298.42V297.77M169.42 286.08V284.64M174.66 295.97V295.18M174.66 281.76V280.19M179.9 293.74V292.81M179.9 277.82V276.12M185.14 291.72V290.68M185.14 274.27V272.46M190.39 289.94V288.8M190.39 271.13V269.22M195.63 288.4V287.17M195.63 268.42V266.42M200.87 287.04V285.74M200.87 266.04V263.96M206.12 285.82V284.45M206.12 263.88V261.74M211.36 284.72V283.29M211.36 261.95V259.74M216.6 283.76V282.28M216.6 260.26V258M221.85 282.93V281.4M221.85 258.8V256.49M227.09 282.2V280.62M227.09 257.51V255.16M232.33 281.52V279.91M232.33 256.32V253.93M237.58 280.92V279.28M237.58 255.26V252.84M242.82 280.42V278.74M242.82 254.37V251.92M248.06 280.03V278.33M248.06 253.69V251.21" stroke="#0000ff" stroke-width="0.5"/><path d="M147.69 311.81h1.5M147.69 308.96h1.5M152.94 308.38h1.5M152.94 302.73h1.5M158.18 304.86h1.5M158.18 296.33h1.5M163.42 301.39h1.5M163.42 290.02h1.5M168.67 298.42h1.5M168.67 284.64h1.5M173.91 295.97h1.5M173.91 280.19h1.5M179.15 293.74h1.5M179.15 276.12h1.5M184.39 291.72h1.5M184.39 272.46h1.5M189.64 289.94h1.5M189.64 269.22h1.5M194.88 288.4h1.5M194.88 266.42h1.5M200.12 287.04h1.5M200.12 263.96h1.5M205.37 285.82h1.5M205.37 261.74h1.5M210.61 284.72h1.5M210.61 259.74h1.5M215.85 283.76h1.5M215.85 258h1.5M221.1 282.93h1.5M221.1 256.49h1.5M226.34 282.2h1.5M226.34 255.16h1.5M231.58 281.52h1.5M231.58 253.93h1.5M236.83 280.92h1.5M236.83 252.84h1.5M242.07 280.42h1.5M242.07 251.92h1.5M247.31 280.03h1.5M247.31 251.21h1.5" stroke="#0000ff" stroke-width="0.9"/><path d="M148.44 311.67V309.26M153.69 308.11V303.32M158.93 304.45V297.21M164.17 300.84V291.2M169.42 297.77V286.08M174.66 295.18V281.76M179.9 292.81V277.82M185.14 290.68V274.27M190.39 288.8V271.13M195.63 287.17V268.42M200.87 285.74V266.04M206.12 284.45V263.88M211.36 283.29V261.95M216.6 282.28V260.26M221.85 281.4V258.8M227.09 280.62V257.51M232.33 279.91V256.32M237.58 279.28V255.26M242.82 278.74V254.37M248.06 278.33V253.69" stroke="#00bfbf" stroke-width="0.5"/><path d="M147.69 311.67h1.5M147.69 309.26h1.5M152.94 308.11h1.5M152.94 303.32h1.5M158.18 304.45h1.5M158.18 297.21h1.5M163.42 300.84h1.5M163.42 291.2h1.5M168.67 297.77h1.5M168.67 286.08h1.5M173.91 295.18h1.5M173.91 281.76h1.5M179.15 292.81h1.5M179.15 277.82h1.5M184.39 290.68h1.5M184.39 274.27h1.5M189.64 288.8h1.5M189.64 271.13h1.5M194.88 287.17h1.5M194.88 268.42h1.5M200.12 285.74h1.5M200.12 266.04h1.5M205.37 284.45h1.5M205.37 263.88h1.5M210.61 283.29h1.5M210.61 261.95h1.5M215.85 282.28h1.5M215.85 260.26h1.5M221.1 281.4h1.5M221.1 258.8h1.5M226.34 280.62h1.5M226.34 257.51h1.5M231.58 279.91h1.5M231.58 256.32h1.5M236.83 279.28h1.5M236.83 255.26h1.5M242.07 278.74h1.5M242.07 254.37h1.5M247.31 278.33h1.5M247.31 253.69h1.5" stroke="#00bfbf" stroke-width="0.9"/><path d="M143.2 315.3L148.44 311.64L153.69 307.99L158.93 304.25L164.17 300.53L169.42 297.18L174.66 294.22L179.9 291.43L185.14 288.84L190.39 286.46L195.63 284.32L200.87 282.34L206.12 280.47L211.36 278.75L216.6 277.26L221.85 276.04L227.09 275.02L232.33 274.07L237.58 273.26L242.82 272.6L248.06 272.15" stroke="#ff0000" stroke-width="1.2" stroke-linejoin="round" stroke-opacity="0.75"/><path d="M143.2 315.3L148.44 310.87L153.69 306.53L158.93 302.16L164.17 297.86L169.42 294.06L174.66 290.76L179.9 287.66L185.14 284.82L190.39 282.26L195.63 280.04L200.87 278.05L206.12 276.22L211.36 274.57L216.6 273.14L221.85 271.95L227.09 270.93L232.33 270L237.58 269.18L242.82 268.52L248.06 268.06" stroke="#bfbf00" stroke-width="1.2" stroke-linejoin="round" stroke-opacity="0.75"/><path d="M143.2 315.3L148.44 310.39L153.69 305.56L158.93 300.6L164.17 295.71L169.42 291.53L174.66 288.08L179.9 284.93L185.14 282.09L190.39 279.58L195.63 277.41L200.87 275.5L206.12 273.78L211.36 272.23L216.6 270.88L221.85 269.71L227.09 268.68L232.33 267.72L237.58 266.88L242.82 266.17L248.06 265.62" stroke="#0000ff" stroke-width="1.2" stroke-linejoin="round" stroke-opacity="0.75"/><path d="M143.2 315.3L148.44 310.46L153.69 305.71L158.93 300.83L164.17 296.02L169.42 291.92L174.66 288.47L179.9 285.32L185.14 282.48L190.39 279.97L195.63 277.8L200.87 275.89L206.12 274.17L211.36 272.62L216.6 271.27L221.85 270.1L227.09 269.07L232.33 268.11L237.58 267.27L242.82 266.56L248.06 266.01" stroke="#00bfbf" stroke-width="1.2" stroke-linejoin="round" stroke-opacity="0.75"/></g>
<path d="M143.2 315.3h-2.62M143.2 295.82h-2.62M143.2 276.34h-2.62M143.2 256.85h-2.62M143.2 237.37h-2.62M143.2 315.3v2.62M169.42 315.3v2.62M195.63 315.3v2.62M221.85 315.3v2.62" stroke="#000" stroke-width="0.75"/>
<path d="M143.2 305.56h-1.5M143.2 286.08h-1.5M143.2 266.6h-1.5M143.2 247.11h-1.5M143.2 227.63h-1.5M148.44 315.3v1.5M153.69 315.3v1.5M158.93 315.3v1.5M164.17 315.3v1.5M174.66 315.3v1.5M179.9 315.3v1.5M185.14 315.3v1.5M190.39 315.3v1.5M200.87 315.3v1.5M206.12 315.3v1.5M211.36 315.3v1.5M216.6 315.3v1.5M227.09 315.3v1.5M232.33 315.3v1.5M237.58 315.3v1.5M242.82 315.3v1.5" stroke="#000" stroke-width="0.55"/>
<rect x="143.2" y="221.3" width="104.6" height="94" fill="none" stroke="#6a6a6a" stroke-width="1.3"/>
<g clip-path="url(#c22)" fill="none"><path d="M258.64 315.3V221.3M263.89 315.3V221.3M269.13 315.3V221.3M274.37 315.3V221.3M284.86 315.3V221.3M290.1 315.3V221.3M295.34 315.3V221.3M300.59 315.3V221.3M311.07 315.3V221.3M316.32 315.3V221.3M321.56 315.3V221.3M326.8 315.3V221.3M337.29 315.3V221.3M342.53 315.3V221.3M347.78 315.3V221.3M353.02 315.3V221.3M253.4 305.56H358M253.4 286.08H358M253.4 266.6H358M253.4 247.11H358M253.4 227.63H358" stroke="#d6d6d6" stroke-width="0.6"/><path d="M279.62 315.3V221.3M305.83 315.3V221.3M332.05 315.3V221.3M253.4 295.82H358M253.4 276.34H358M253.4 256.85H358M253.4 237.37H358" stroke="#a8a8a8" stroke-width="0.65" stroke-dasharray="2.41 1.04"/><path d="M279.62 315.3V221.3" stroke="#2a2a2a" stroke-width="1.15" stroke-dasharray="2.35 1.75" stroke-dashoffset="0.7"/><path d="M258.64 313.94V313.81M263.89 312.42V312.16M269.13 310.62V310.22M274.37 308.66V308.14M279.62 306.94V306.31M284.86 305.47V304.76M290.1 304.06V303.28M295.34 302.78V301.94M300.59 301.7V300.81M305.83 300.88V299.96M311.07 300.26V299.32M316.32 299.72V298.78M321.56 299.26V298.31M326.8 298.88V297.93M332.05 298.58V297.62M337.29 298.31V297.35M342.53 298.08V297.12M347.78 297.9V296.94M353.02 297.78V296.82M358.26 297.74V296.78" stroke="#ff0000" stroke-width="0.5"/><path d="M257.89 313.94h1.5M257.89 312.98h1.5M263.14 312.42h1.5M263.14 310.39h1.5M268.38 310.62h1.5M268.38 307.32h1.5M273.62 308.66h1.5M273.62 304h1.5M278.87 306.94h1.5M278.87 301.06h1.5M284.11 305.47h1.5M284.11 298.56h1.5M289.35 304.06h1.5M289.35 296.16h1.5M294.59 302.78h1.5M294.59 293.99h1.5M299.84 301.7h1.5M299.84 292.15h1.5M305.08 300.88h1.5M305.08 290.75h1.5M310.32 300.26h1.5M310.32 289.69h1.5M315.57 299.72h1.5M315.57 288.77h1.5M320.81 299.26h1.5M320.81 288h1.5M326.05 298.88h1.5M326.05 287.35h1.5M331.3 298.58h1.5M331.3 286.83h1.5M336.54 298.31h1.5M336.54 286.38h1.5M341.78 298.08h1.5M341.78 285.99h1.5M347.03 297.9h1.5M347.03 285.68h1.5M352.27 297.78h1.5M352.27 285.48h1.5M357.51 297.74h1.5M357.51 285.41h1.5" stroke="#ff0000" stroke-width="0.9"/><path d="M258.64 313.81V313.76M263.89 312.16V312.04M269.13 310.22V310.01M274.37 308.14V307.82M279.62 306.31V305.92M284.86 304.76V304.32M290.1 303.28V302.8M295.34 301.94V301.43M300.59 300.81V300.27M305.83 299.96V299.4M311.07 299.32V298.75M316.32 298.78V298.21M321.56 298.31V297.76M326.8 297.93V297.38M332.05 297.62V297.09M337.29 297.35V296.84M342.53 297.12V296.62M347.78 296.94V296.45M353.02 296.82V296.35M358.26 296.78V296.33" stroke="#bfbf00" stroke-width="0.5"/><path d="M257.89 313.81h1.5M257.89 312.81h1.5M263.14 312.16h1.5M263.14 310.06h1.5M268.38 310.22h1.5M268.38 306.84h1.5M273.62 308.14h1.5M273.62 303.37h1.5M278.87 306.31h1.5M278.87 300.32h1.5M284.11 304.76h1.5M284.11 297.73h1.5M289.35 303.28h1.5M289.35 295.26h1.5M294.59 301.94h1.5M294.59 293.03h1.5M299.84 300.81h1.5M299.84 291.14h1.5M305.08 299.96h1.5M305.08 289.73h1.5M310.32 299.32h1.5M310.32 288.67h1.5M315.57 298.78h1.5M315.57 287.76h1.5M320.81 298.31h1.5M320.81 286.99h1.5M326.05 297.93h1.5M326.05 286.35h1.5M331.3 297.62h1.5M331.3 285.83h1.5M336.54 297.35h1.5M336.54 285.39h1.5M341.78 297.12h1.5M341.78 285h1.5M347.03 296.94h1.5M347.03 284.69h1.5M352.27 296.82h1.5M352.27 284.49h1.5M357.51 296.78h1.5M357.51 284.43h1.5" stroke="#bfbf00" stroke-width="0.9"/><path d="M269.13 306.8V306.67M274.37 303.35V303.08M279.62 300.32V299.96M284.86 297.77V297.34M290.1 295.33V294.84M295.34 293.14V292.6M300.59 291.29V290.72M305.83 289.9V289.33M311.07 288.85V288.3M316.32 287.95V287.42M321.56 297.76V297.7M321.56 287.18V286.68M326.8 297.38V297.31M326.8 286.56V286.07M332.05 297.09V297M332.05 286.07V285.59M337.29 296.84V296.74M337.29 285.66V285.18M342.53 296.62V296.52M342.53 285.3V284.82M347.78 296.45V296.35M347.78 285.03V284.55M353.02 296.35V296.25M353.02 284.87V284.38M358.26 296.33V296.24M358.26 284.85V284.35" stroke="#0000ff" stroke-width="0.5"/><path d="M257.89 313.76h1.5M257.89 312.78h1.5M263.14 312.04h1.5M263.14 309.99h1.5M268.38 310.01h1.5M268.38 306.67h1.5M273.62 307.81h1.5M273.62 303.08h1.5M278.87 305.9h1.5M278.87 299.96h1.5M284.11 304.29h1.5M284.11 297.34h1.5M289.35 302.76h1.5M289.35 294.84h1.5M294.59 301.39h1.5M294.59 292.6h1.5M299.84 300.24h1.5M299.84 290.72h1.5M305.08 299.38h1.5M305.08 289.33h1.5M310.32 298.75h1.5M310.32 288.3h1.5M315.57 298.21h1.5M315.57 287.42h1.5M320.81 297.76h1.5M320.81 286.68h1.5M326.05 297.38h1.5M326.05 286.07h1.5M331.3 297.09h1.5M331.3 285.59h1.5M336.54 296.84h1.5M336.54 285.18h1.5M341.78 296.62h1.5M341.78 284.82h1.5M347.03 296.45h1.5M347.03 284.55h1.5M352.27 296.35h1.5M352.27 284.38h1.5M357.51 296.33h1.5M357.51 284.35h1.5" stroke="#0000ff" stroke-width="0.9"/><path d="M258.64 313.73V312.79M263.89 312V310.03M269.13 309.98V306.8M274.37 307.82V303.35M279.62 305.92V300.32M284.86 304.32V297.77M290.1 302.8V295.33M295.34 301.43V293.14M300.59 300.27V291.29M305.83 299.4V289.9M311.07 298.74V288.85M316.32 298.18V287.95M321.56 297.7V287.18M326.8 297.31V286.56M332.05 297V286.07M337.29 296.74V285.66M342.53 296.52V285.3M347.78 296.35V285.03M353.02 296.25V284.87M358.26 296.24V284.85" stroke="#00bfbf" stroke-width="0.5"/><path d="M257.89 313.73h1.5M257.89 312.79h1.5M263.14 312h1.5M263.14 310.03h1.5M268.38 309.98h1.5M268.38 306.8h1.5M273.62 307.82h1.5M273.62 303.35h1.5M278.87 305.92h1.5M278.87 300.32h1.5M284.11 304.32h1.5M284.11 297.77h1.5M289.35 302.8h1.5M289.35 295.33h1.5M294.59 301.43h1.5M294.59 293.14h1.5M299.84 300.27h1.5M299.84 291.29h1.5M305.08 299.4h1.5M305.08 289.9h1.5M310.32 298.74h1.5M310.32 288.85h1.5M315.57 298.18h1.5M315.57 287.95h1.5M320.81 297.7h1.5M320.81 287.18h1.5M326.05 297.31h1.5M326.05 286.56h1.5M331.3 297h1.5M331.3 286.07h1.5M336.54 296.74h1.5M336.54 285.66h1.5M341.78 296.52h1.5M341.78 285.3h1.5M347.03 296.35h1.5M347.03 285.03h1.5M352.27 296.25h1.5M352.27 284.87h1.5M357.51 296.24h1.5M357.51 284.85h1.5" stroke="#00bfbf" stroke-width="0.9"/><path d="M253.4 315.3L258.64 313.46L263.89 311.4L269.13 308.97L274.37 306.33L279.62 304L284.86 302.01L290.1 300.11L295.34 298.39L300.59 296.93L305.83 295.82L311.07 294.98L316.32 294.25L321.56 293.63L326.8 293.12L332.05 292.7L337.29 292.35L342.53 292.04L347.78 291.79L353.02 291.63L358.26 291.58" stroke="#ff0000" stroke-width="1.2" stroke-linejoin="round" stroke-opacity="0.75"/><path d="M253.4 315.3L258.64 313.31L263.89 311.11L269.13 308.53L274.37 305.76L279.62 303.32L284.86 301.25L290.1 299.27L295.34 297.48L300.59 295.97L305.83 294.84L311.07 294L316.32 293.27L321.56 292.65L326.8 292.14L332.05 291.73L337.29 291.37L342.53 291.06L347.78 290.82L353.02 290.66L358.26 290.6" stroke="#bfbf00" stroke-width="1.2" stroke-linejoin="round" stroke-opacity="0.75"/><path d="M253.4 315.3L258.64 313.27L263.89 311.01L269.13 308.34L274.37 305.45L279.62 302.93L284.86 300.81L290.1 298.8L295.34 296.99L300.59 295.48L305.83 294.36L311.07 293.53L316.32 292.81L321.56 292.22L326.8 291.73L332.05 291.34L337.29 291.01L342.53 290.72L347.78 290.5L353.02 290.36L358.26 290.34" stroke="#0000ff" stroke-width="1.2" stroke-linejoin="round" stroke-opacity="0.75"/><path d="M253.4 315.3L258.64 313.26L263.89 311.01L269.13 308.39L274.37 305.58L279.62 303.12L284.86 301.04L290.1 299.07L295.34 297.28L300.59 295.78L305.83 294.65L311.07 293.8L316.32 293.06L321.56 292.44L326.8 291.93L332.05 291.53L337.29 291.2L342.53 290.91L347.78 290.69L353.02 290.56L358.26 290.55" stroke="#00bfbf" stroke-width="1.2" stroke-linejoin="round" stroke-opacity="0.75"/></g>
<path d="M253.4 315.3h-2.62M253.4 295.82h-2.62M253.4 276.34h-2.62M253.4 256.85h-2.62M253.4 237.37h-2.62M253.4 315.3v2.62M279.62 315.3v2.62M305.83 315.3v2.62M332.05 315.3v2.62" stroke="#000" stroke-width="0.75"/>
<path d="M253.4 305.56h-1.5M253.4 286.08h-1.5M253.4 266.6h-1.5M253.4 247.11h-1.5M253.4 227.63h-1.5M258.64 315.3v1.5M263.89 315.3v1.5M269.13 315.3v1.5M274.37 315.3v1.5M284.86 315.3v1.5M290.1 315.3v1.5M295.34 315.3v1.5M300.59 315.3v1.5M311.07 315.3v1.5M316.32 315.3v1.5M321.56 315.3v1.5M326.8 315.3v1.5M337.29 315.3v1.5M342.53 315.3v1.5M347.78 315.3v1.5M353.02 315.3v1.5" stroke="#000" stroke-width="0.55"/>
<rect x="253.4" y="221.3" width="104.6" height="94" fill="none" stroke="#6a6a6a" stroke-width="1.3"/>
<g clip-path="url(#c23)" fill="none"><path d="M368.74 315.3V221.3M373.99 315.3V221.3M379.23 315.3V221.3M384.47 315.3V221.3M394.96 315.3V221.3M400.2 315.3V221.3M405.44 315.3V221.3M410.69 315.3V221.3M421.17 315.3V221.3M426.42 315.3V221.3M431.66 315.3V221.3M436.9 315.3V221.3M447.39 315.3V221.3M452.63 315.3V221.3M457.88 315.3V221.3M463.12 315.3V221.3M363.5 305.56H468.1M363.5 286.08H468.1M363.5 266.6H468.1M363.5 247.11H468.1M363.5 227.63H468.1" stroke="#d6d6d6" stroke-width="0.6"/><path d="M389.72 315.3V221.3M415.93 315.3V221.3M442.15 315.3V221.3M363.5 295.82H468.1M363.5 276.34H468.1M363.5 256.85H468.1M363.5 237.37H468.1" stroke="#a8a8a8" stroke-width="0.65" stroke-dasharray="2.41 1.04"/><path d="M363.5 312.77V311.01M368.74 313.26V311.1M373.99 313.74V311.61M379.23 314.18V312.07M384.47 314.58V312.49M389.72 314.92V312.85M394.96 315.2V313.15M400.2 315.44V313.39M405.44 315.63V313.59M410.69 315.78V313.75M415.93 315.89V313.88M421.17 315.98V313.97M426.42 316.05V314.04M431.66 316.11V314.1M436.9 316.15V314.14M442.15 316.18V314.18M447.39 316.2V314.2M452.63 316.22V314.22M457.88 316.23V314.23M463.12 316.24V314.24M468.36 316.25V314.25" stroke="#ff0000" stroke-width="0.5"/><path d="M362.75 312.77h1.5M362.75 311.01h1.5M367.99 313.26h1.5M367.99 310.52h1.5M373.24 313.74h1.5M373.24 310.04h1.5M378.48 314.18h1.5M378.48 309.6h1.5M383.72 314.58h1.5M383.72 309.2h1.5M388.97 314.92h1.5M388.97 308.86h1.5M394.21 315.2h1.5M394.21 308.58h1.5M399.45 315.44h1.5M399.45 308.34h1.5M404.69 315.63h1.5M404.69 308.15h1.5M409.94 315.78h1.5M409.94 308.01h1.5M415.18 315.89h1.5M415.18 307.89h1.5M420.42 315.98h1.5M420.42 307.8h1.5M425.67 316.05h1.5M425.67 307.73h1.5M430.91 316.11h1.5M430.91 307.67h1.5M436.15 316.15h1.5M436.15 307.63h1.5M441.4 316.18h1.5M441.4 307.6h1.5M446.64 316.2h1.5M446.64 307.58h1.5M451.88 316.22h1.5M451.88 307.56h1.5M457.13 316.23h1.5M457.13 307.55h1.5M462.37 316.24h1.5M462.37 307.54h1.5M467.61 316.25h1.5M467.61 307.53h1.5" stroke="#ff0000" stroke-width="0.9"/><path d="M363.5 310.58V309.02M368.74 311.1V309.76M373.99 311.61V310.48M379.23 312.07V311.14M384.47 312.49V311.73M389.72 312.85V312.24M394.96 313.15V312.67M400.2 313.39V313.02M405.44 313.59V313.31M410.69 313.75V313.53M415.93 313.88V313.71M421.17 313.97V313.84M426.42 314.04V313.95M431.66 314.1V314.03M436.9 314.14V314.09" stroke="#bfbf00" stroke-width="0.5"/><path d="M362.75 310.58h1.5M362.75 308.72h1.5M367.99 311.1h1.5M367.99 308.2h1.5M373.24 311.61h1.5M373.24 307.7h1.5M378.48 312.07h1.5M378.48 307.23h1.5M383.72 312.49h1.5M383.72 306.81h1.5M388.97 312.85h1.5M388.97 306.45h1.5M394.21 313.15h1.5M394.21 306.15h1.5M399.45 313.39h1.5M399.45 305.91h1.5M404.69 313.59h1.5M404.69 305.71h1.5M409.94 313.75h1.5M409.94 305.55h1.5M415.18 313.88h1.5M415.18 305.43h1.5M420.42 313.97h1.5M420.42 305.33h1.5M425.67 314.04h1.5M425.67 305.26h1.5M430.91 314.1h1.5M430.91 305.2h1.5M436.15 314.14h1.5M436.15 305.16h1.5M441.4 314.18h1.5M441.4 305.12h1.5M446.64 314.2h1.5M446.64 305.1h1.5M451.88 314.22h1.5M451.88 305.08h1.5M457.13 314.23h1.5M457.13 305.07h1.5M462.37 314.24h1.5M462.37 305.06h1.5M467.61 314.25h1.5M467.61 305.05h1.5" stroke="#bfbf00" stroke-width="0.9"/><path d="M363.5 309.02V307.31M368.74 309.76V307.87M373.99 310.48V308.4M379.23 311.14V308.89M384.47 311.73V309.32M389.72 312.24V309.7M394.96 312.67V310.02M400.2 313.02V310.28M405.44 313.31V310.49M405.44 302.19V302.1M410.69 313.53V310.66M410.69 302.02V301.87M415.93 313.71V310.79M415.93 301.89V301.7M421.17 313.84V310.89M421.17 301.79V301.56M426.42 313.95V310.96M426.42 301.71V301.46M431.66 314.03V311.02M431.66 301.65V301.38M436.9 314.09V311.07M436.9 301.61V301.32M442.15 314.13V311.1M442.15 301.57V301.27M447.39 314.17V311.13M447.39 301.55V301.23M452.63 314.2V311.15M452.63 301.53V301.21M457.88 314.22V311.16M457.88 301.51V301.19M463.12 314.23V311.17M463.12 301.5V301.17M468.36 314.24V311.18M468.36 301.49V301.16" stroke="#0000ff" stroke-width="0.5"/><path d="M362.75 309.02h1.5M362.75 306.39h1.5M367.99 309.76h1.5M367.99 305.64h1.5M373.24 310.48h1.5M373.24 304.92h1.5M378.48 311.14h1.5M378.48 304.26h1.5M383.72 311.73h1.5M383.72 303.67h1.5M388.97 312.24h1.5M388.97 303.16h1.5M394.21 312.67h1.5M394.21 302.73h1.5M399.45 313.02h1.5M399.45 302.38h1.5M404.69 313.31h1.5M404.69 302.1h1.5M409.94 313.53h1.5M409.94 301.87h1.5M415.18 313.71h1.5M415.18 301.7h1.5M420.42 313.84h1.5M420.42 301.56h1.5M425.67 313.95h1.5M425.67 301.46h1.5M430.91 314.03h1.5M430.91 301.38h1.5M436.15 314.09h1.5M436.15 301.32h1.5M441.4 314.13h1.5M441.4 301.27h1.5M446.64 314.17h1.5M446.64 301.23h1.5M451.88 314.2h1.5M451.88 301.21h1.5M457.13 314.22h1.5M457.13 301.19h1.5M462.37 314.23h1.5M462.37 301.17h1.5M467.61 314.24h1.5M467.61 301.16h1.5" stroke="#0000ff" stroke-width="0.9"/><path d="M363.5 307.31V305.36M368.74 307.87V304.81M373.99 308.4V304.28M379.23 308.89V303.79M384.47 309.32V303.35M389.72 309.7V302.97M394.96 310.02V302.66M400.2 310.28V302.4M405.44 310.49V302.19M410.69 310.66V302.02M415.93 310.79V301.89M421.17 310.89V301.79M426.42 310.96V301.71M431.66 311.02V301.65M436.9 311.07V301.61M442.15 311.1V301.57M447.39 311.13V301.55M452.63 311.15V301.53M457.88 311.16V301.51M463.12 311.17V301.5M468.36 311.18V301.49" stroke="#00bfbf" stroke-width="0.5"/><path d="M362.75 307.31h1.5M362.75 305.36h1.5M367.99 307.87h1.5M367.99 304.81h1.5M373.24 308.4h1.5M373.24 304.28h1.5M378.48 308.89h1.5M378.48 303.79h1.5M383.72 309.32h1.5M383.72 303.35h1.5M388.97 309.7h1.5M388.97 302.97h1.5M394.21 310.02h1.5M394.21 302.66h1.5M399.45 310.28h1.5M399.45 302.4h1.5M404.69 310.49h1.5M404.69 302.19h1.5M409.94 310.66h1.5M409.94 302.02h1.5M415.18 310.79h1.5M415.18 301.89h1.5M420.42 310.89h1.5M420.42 301.79h1.5M425.67 310.96h1.5M425.67 301.71h1.5M430.91 311.02h1.5M430.91 301.65h1.5M436.15 311.07h1.5M436.15 301.61h1.5M441.4 311.1h1.5M441.4 301.57h1.5M446.64 311.13h1.5M446.64 301.55h1.5M451.88 311.15h1.5M451.88 301.53h1.5M457.13 311.16h1.5M457.13 301.51h1.5M462.37 311.17h1.5M462.37 301.5h1.5M467.61 311.18h1.5M467.61 301.49h1.5" stroke="#00bfbf" stroke-width="0.9"/><path d="M363.5 311.89L368.74 311.89L373.99 311.89L379.23 311.89L384.47 311.89L389.72 311.89L394.96 311.89L400.2 311.89L405.44 311.89L410.69 311.89L415.93 311.89L421.17 311.89L426.42 311.89L431.66 311.89L436.9 311.89L442.15 311.89L447.39 311.89L452.63 311.89L457.88 311.89L463.12 311.89L468.36 311.89" stroke="#ff0000" stroke-width="1.2" stroke-linejoin="round" stroke-opacity="0.75"/><path d="M363.5 309.65L368.74 309.65L373.99 309.65L379.23 309.65L384.47 309.65L389.72 309.65L394.96 309.65L400.2 309.65L405.44 309.65L410.69 309.65L415.93 309.65L421.17 309.65L426.42 309.65L431.66 309.65L436.9 309.65L442.15 309.65L447.39 309.65L452.63 309.65L457.88 309.65L463.12 309.65L468.36 309.65" stroke="#bfbf00" stroke-width="1.2" stroke-linejoin="round" stroke-opacity="0.75"/><path d="M363.5 307.7L368.74 307.7L373.99 307.7L379.23 307.7L384.47 307.7L389.72 307.7L394.96 307.7L400.2 307.7L405.44 307.7L410.69 307.7L415.93 307.7L421.17 307.7L426.42 307.7L431.66 307.7L436.9 307.7L442.15 307.7L447.39 307.7L452.63 307.7L457.88 307.7L463.12 307.7L468.36 307.7" stroke="#0000ff" stroke-width="1.2" stroke-linejoin="round" stroke-opacity="0.75"/><path d="M363.5 306.34L368.74 306.34L373.99 306.34L379.23 306.34L384.47 306.34L389.72 306.34L394.96 306.34L400.2 306.34L405.44 306.34L410.69 306.34L415.93 306.34L421.17 306.34L426.42 306.34L431.66 306.34L436.9 306.34L442.15 306.34L447.39 306.34L452.63 306.34L457.88 306.34L463.12 306.34L468.36 306.34" stroke="#00bfbf" stroke-width="1.2" stroke-linejoin="round" stroke-opacity="0.75"/></g>
<path d="M363.5 315.3h-2.62M363.5 295.82h-2.62M363.5 276.34h-2.62M363.5 256.85h-2.62M363.5 237.37h-2.62M363.5 315.3v2.62M389.72 315.3v2.62M415.93 315.3v2.62M442.15 315.3v2.62" stroke="#000" stroke-width="0.75"/>
<path d="M363.5 305.56h-1.5M363.5 286.08h-1.5M363.5 266.6h-1.5M363.5 247.11h-1.5M363.5 227.63h-1.5M368.74 315.3v1.5M373.99 315.3v1.5M379.23 315.3v1.5M384.47 315.3v1.5M394.96 315.3v1.5M400.2 315.3v1.5M405.44 315.3v1.5M410.69 315.3v1.5M421.17 315.3v1.5M426.42 315.3v1.5M431.66 315.3v1.5M436.9 315.3v1.5M447.39 315.3v1.5M452.63 315.3v1.5M457.88 315.3v1.5M463.12 315.3v1.5" stroke="#000" stroke-width="0.55"/>
<rect x="363.5" y="221.3" width="104.6" height="94" fill="none" stroke="#6a6a6a" stroke-width="1.3"/>
<g clip-path="url(#c30)" fill="none"><path d="M38.24 418.85V324.85M43.49 418.85V324.85M48.73 418.85V324.85M53.97 418.85V324.85M64.46 418.85V324.85M69.7 418.85V324.85M74.94 418.85V324.85M80.19 418.85V324.85M90.67 418.85V324.85M95.92 418.85V324.85M101.16 418.85V324.85M106.4 418.85V324.85M116.89 418.85V324.85M122.13 418.85V324.85M127.38 418.85V324.85M132.62 418.85V324.85M33 409.11H137.6M33 389.63H137.6M33 370.15H137.6M33 350.66H137.6M33 331.18H137.6" stroke="#d6d6d6" stroke-width="0.6"/><path d="M59.22 418.85V324.85M85.43 418.85V324.85M111.65 418.85V324.85M33 399.37H137.6M33 379.89H137.6M33 360.4H137.6M33 340.92H137.6" stroke="#a8a8a8" stroke-width="0.65" stroke-dasharray="2.41 1.04"/><path d="M59.22 418.85V324.85" stroke="#2a2a2a" stroke-width="1.15" stroke-dasharray="2.35 1.75" stroke-dashoffset="0.7"/><path d="M59.22 412.27V412.14M64.46 409.73V409.61M69.7 407.66V407.46M74.94 405.81V405.55M80.19 404.04V403.79M85.43 402.51V402.26M90.67 401.26V400.99M95.92 400.14V399.84M101.16 399.11V398.79M106.4 398.18V397.83M111.65 397.32V396.94M116.89 396.52V396.11M122.13 395.79V395.35M127.38 395.12V394.65M132.62 394.54V394.03M137.86 394.04V393.49" stroke="#ff0000" stroke-width="0.5"/><path d="M47.98 417.83h1.5M47.98 416.95h1.5M53.22 416.8h1.5M53.22 415.05h1.5M58.47 415.24h1.5M58.47 412.14h1.5M63.71 413.87h1.5M63.71 409.61h1.5M68.95 412.72h1.5M68.95 407.46h1.5M74.19 411.69h1.5M74.19 405.55h1.5M79.44 410.74h1.5M79.44 403.79h1.5M84.68 409.92h1.5M84.68 402.26h1.5M89.92 409.23h1.5M89.92 400.99h1.5M95.17 408.61h1.5M95.17 399.84h1.5M100.41 408.05h1.5M100.41 398.79h1.5M105.65 407.53h1.5M105.65 397.83h1.5M110.9 407.05h1.5M110.9 396.94h1.5M116.14 406.61h1.5M116.14 396.11h1.5M121.38 406.19h1.5M121.38 395.35h1.5M126.63 405.82h1.5M126.63 394.65h1.5M131.87 405.49h1.5M131.87 394.03h1.5M137.11 405.2h1.5M137.11 393.49h1.5" stroke="#ff0000" stroke-width="0.9"/><path d="M48.73 417.18V416.95M53.97 415.38V415.05M59.22 412.68V412.27M64.46 410.11V409.73M69.7 408.05V407.66M74.94 406.25V405.81M80.19 404.59V404.04M85.43 403.16V402.51M90.67 401.99V401.26M95.92 400.92V400.14M101.16 399.96V399.11M106.4 399.08V398.18M111.65 398.28V397.32M116.89 397.54V396.52M122.13 396.85V395.79M127.38 396.24V395.12M132.62 395.71V394.54M137.86 395.26V394.04" stroke="#bfbf00" stroke-width="0.5"/><path d="M47.98 417.83h1.5M47.98 416.95h1.5M53.22 416.8h1.5M53.22 415.05h1.5M58.47 415.3h1.5M58.47 412.27h1.5M63.71 413.94h1.5M63.71 409.73h1.5M68.95 412.82h1.5M68.95 407.66h1.5M74.19 411.83h1.5M74.19 405.81h1.5M79.44 410.88h1.5M79.44 404.04h1.5M84.68 410.05h1.5M84.68 402.51h1.5M89.92 409.38h1.5M89.92 401.26h1.5M95.17 408.77h1.5M95.17 400.14h1.5M100.41 408.22h1.5M100.41 399.11h1.5M105.65 407.72h1.5M105.65 398.18h1.5M110.9 407.26h1.5M110.9 397.32h1.5M116.14 406.83h1.5M116.14 396.52h1.5M121.38 406.43h1.5M121.38 395.79h1.5M126.63 406.07h1.5M126.63 395.12h1.5M131.87 405.76h1.5M131.87 394.54h1.5M137.11 405.49h1.5M137.11 394.04h1.5" stroke="#bfbf00" stroke-width="0.9"/><path d="M48.73 417.3V417.18M53.97 415.61V415.38M59.22 413.02V412.68M64.46 410.56V410.11M69.7 408.55V408.05M74.94 406.8V406.25M80.19 405.19V404.59M85.43 403.82V403.16M90.67 402.69V401.99M95.92 401.66V400.92M101.16 400.72V399.96M106.4 399.89V399.08M111.65 399.16V398.28M116.89 398.5V397.54M122.13 397.9V396.85M127.38 397.38V396.24M132.62 396.96V395.71M137.86 396.63V395.26" stroke="#0000ff" stroke-width="0.5"/><path d="M47.98 417.99h1.5M47.98 417.18h1.5M53.22 417.06h1.5M53.22 415.38h1.5M58.47 415.67h1.5M58.47 412.68h1.5M63.71 414.35h1.5M63.71 410.11h1.5M68.95 413.28h1.5M68.95 408.05h1.5M74.19 412.36h1.5M74.19 406.25h1.5M79.44 411.5h1.5M79.44 404.59h1.5M84.68 410.77h1.5M84.68 403.16h1.5M89.92 410.16h1.5M89.92 401.99h1.5M95.17 409.61h1.5M95.17 400.92h1.5M100.41 409.12h1.5M100.41 399.96h1.5M105.65 408.67h1.5M105.65 399.08h1.5M110.9 408.25h1.5M110.9 398.28h1.5M116.14 407.87h1.5M116.14 397.54h1.5M121.38 407.52h1.5M121.38 396.85h1.5M126.63 407.2h1.5M126.63 396.24h1.5M131.87 406.93h1.5M131.87 395.71h1.5M137.11 406.7h1.5M137.11 395.26h1.5" stroke="#0000ff" stroke-width="0.9"/><path d="M48.73 418.07V417.3M53.97 417.22V415.61M59.22 415.91V413.02M64.46 414.67V410.56M69.7 413.66V408.55M74.94 412.78V406.8M80.19 411.97V405.19M85.43 411.28V403.82M90.67 410.71V402.69M95.92 410.19V401.66M101.16 409.72V400.72M106.4 409.3V399.89M111.65 408.93V399.16M116.89 408.6V398.5M122.13 408.3V397.9M127.38 408.04V397.38M132.62 407.82V396.96M137.86 407.66V396.63" stroke="#00bfbf" stroke-width="0.5"/><path d="M47.98 418.07h1.5M47.98 417.3h1.5M53.22 417.22h1.5M53.22 415.61h1.5M58.47 415.91h1.5M58.47 413.02h1.5M63.71 414.67h1.5M63.71 410.56h1.5M68.95 413.66h1.5M68.95 408.55h1.5M74.19 412.78h1.5M74.19 406.8h1.5M79.44 411.97h1.5M79.44 405.19h1.5M84.68 411.28h1.5M84.68 403.82h1.5M89.92 410.71h1.5M89.92 402.69h1.5M95.17 410.19h1.5M95.17 401.66h1.5M100.41 409.72h1.5M100.41 400.72h1.5M105.65 409.3h1.5M105.65 399.89h1.5M110.9 408.93h1.5M110.9 399.16h1.5M116.14 408.6h1.5M116.14 398.5h1.5M121.38 408.3h1.5M121.38 397.9h1.5M126.63 408.04h1.5M126.63 397.38h1.5M131.87 407.82h1.5M131.87 396.96h1.5M137.11 407.66h1.5M137.11 396.63h1.5" stroke="#00bfbf" stroke-width="0.9"/><path d="M43.49 418.85L48.73 417.39L53.97 415.93L59.22 413.69L64.46 411.74L69.7 410.09L74.94 408.62L80.19 407.26L85.43 406.09L90.67 405.11L95.92 404.23L101.16 403.42L106.4 402.68L111.65 402L116.89 401.36L122.13 400.77L127.38 400.23L132.62 399.76L137.86 399.35" stroke="#ff0000" stroke-width="1.2" stroke-linejoin="round" stroke-opacity="0.75"/><path d="M43.49 418.85L48.73 417.39L53.97 415.93L59.22 413.78L64.46 411.84L69.7 410.24L74.94 408.82L80.19 407.46L85.43 406.28L90.67 405.32L95.92 404.46L101.16 403.67L106.4 402.95L111.65 402.29L116.89 401.68L122.13 401.11L127.38 400.6L132.62 400.15L137.86 399.76" stroke="#bfbf00" stroke-width="1.2" stroke-linejoin="round" stroke-opacity="0.75"/><path d="M43.49 418.85L48.73 417.58L53.97 416.22L59.22 414.17L64.46 412.23L69.7 410.67L74.94 409.3L80.19 408.04L85.43 406.97L90.67 406.08L95.92 405.27L101.16 404.54L106.4 403.87L111.65 403.26L116.89 402.7L122.13 402.19L127.38 401.72L132.62 401.32L137.86 400.98" stroke="#0000ff" stroke-width="1.2" stroke-linejoin="round" stroke-opacity="0.75"/><path d="M43.49 418.85L48.73 417.68L53.97 416.41L59.22 414.47L64.46 412.62L69.7 411.11L74.94 409.79L80.19 408.58L85.43 407.55L90.67 406.7L95.92 405.92L101.16 405.22L106.4 404.6L111.65 404.04L116.89 403.55L122.13 403.1L127.38 402.71L132.62 402.39L137.86 402.14" stroke="#00bfbf" stroke-width="1.2" stroke-linejoin="round" stroke-opacity="0.75"/></g>
<path d="M33 418.85h-2.62M33 399.37h-2.62M33 379.89h-2.62M33 360.4h-2.62M33 340.92h-2.62M33 418.85v2.62M59.22 418.85v2.62M85.43 418.85v2.62M111.65 418.85v2.62" stroke="#000" stroke-width="0.75"/>
<path d="M33 409.11h-1.5M33 389.63h-1.5M33 370.15h-1.5M33 350.66h-1.5M33 331.18h-1.5M38.24 418.85v1.5M43.49 418.85v1.5M48.73 418.85v1.5M53.97 418.85v1.5M64.46 418.85v1.5M69.7 418.85v1.5M74.94 418.85v1.5M80.19 418.85v1.5M90.67 418.85v1.5M95.92 418.85v1.5M101.16 418.85v1.5M106.4 418.85v1.5M116.89 418.85v1.5M122.13 418.85v1.5M127.38 418.85v1.5M132.62 418.85v1.5" stroke="#000" stroke-width="0.55"/>
<rect x="33" y="324.85" width="104.6" height="94" fill="none" stroke="#6a6a6a" stroke-width="1.3"/>
<g clip-path="url(#c31)" fill="none"><path d="M148.44 418.85V324.85M153.69 418.85V324.85M158.93 418.85V324.85M164.17 418.85V324.85M174.66 418.85V324.85M179.9 418.85V324.85M185.14 418.85V324.85M190.39 418.85V324.85M200.87 418.85V324.85M206.12 418.85V324.85M211.36 418.85V324.85M216.6 418.85V324.85M227.09 418.85V324.85M232.33 418.85V324.85M237.58 418.85V324.85M242.82 418.85V324.85M143.2 409.11H247.8M143.2 389.63H247.8M143.2 370.15H247.8M143.2 350.66H247.8M143.2 331.18H247.8" stroke="#d6d6d6" stroke-width="0.6"/><path d="M169.42 418.85V324.85M195.63 418.85V324.85M221.85 418.85V324.85M143.2 399.37H247.8M143.2 379.89H247.8M143.2 360.4H247.8M143.2 340.92H247.8" stroke="#a8a8a8" stroke-width="0.65" stroke-dasharray="2.41 1.04"/><path d="M169.42 418.85V324.85" stroke="#2a2a2a" stroke-width="1.15" stroke-dasharray="2.35 1.75" stroke-dashoffset="0.7"/><path d="M164.17 416.45V416.33M169.42 414.16V413.9M174.66 412.11V411.78M179.9 410.08V409.6M185.14 408.25V407.75M190.39 406.57V406.05M195.63 405.06V404.52M200.87 403.75V403.18M206.12 402.51V401.91M211.36 401.35V400.72M216.6 400.25V399.58M221.85 399.21V398.52M227.09 398.22V397.5M232.33 397.27V396.54M237.58 396.39V395.63M242.82 395.57V394.8M248.06 394.82V394.06" stroke="#ff0000" stroke-width="0.5"/><path d="M158.18 418.3h1.5M158.18 417.46h1.5M163.42 416.45h1.5M163.42 412.88h1.5M168.67 414.16h1.5M168.67 407.37h1.5M173.91 412.11h1.5M173.91 402.6h1.5M179.15 410.08h1.5M179.15 398h1.5M184.39 408.25h1.5M184.39 393.99h1.5M189.64 406.57h1.5M189.64 390.46h1.5M194.88 405.06h1.5M194.88 387.44h1.5M200.12 403.75h1.5M200.12 384.92h1.5M205.37 402.51h1.5M205.37 382.66h1.5M210.61 401.35h1.5M210.61 380.62h1.5M215.85 400.25h1.5M215.85 378.78h1.5M221.1 399.21h1.5M221.1 377.12h1.5M226.34 398.22h1.5M226.34 375.61h1.5M231.58 397.27h1.5M231.58 374.24h1.5M236.83 396.39h1.5M236.83 373.03h1.5M242.07 395.57h1.5M242.07 372h1.5M247.31 394.82h1.5M247.31 371.15h1.5" stroke="#ff0000" stroke-width="0.9"/><path d="M158.18 418.31h1.5M158.18 417.45h1.5M163.42 416.32h1.5M163.42 412.42h1.5M168.67 413.85h1.5M168.67 406.31h1.5M173.91 411.67h1.5M173.91 401.1h1.5M179.15 409.5h1.5M179.15 396.06h1.5M184.39 407.62h1.5M184.39 391.89h1.5M189.64 405.9h1.5M189.64 388.19h1.5M194.88 404.36h1.5M194.88 385.03h1.5M200.12 403.02h1.5M200.12 382.43h1.5M205.37 401.77h1.5M205.37 380.11h1.5M210.61 400.59h1.5M210.61 378.02h1.5M215.85 399.48h1.5M215.85 376.13h1.5M221.1 398.41h1.5M221.1 374.41h1.5M226.34 397.39h1.5M226.34 372.83h1.5M231.58 396.42h1.5M231.58 371.4h1.5M236.83 395.5h1.5M236.83 370.13h1.5M242.07 394.64h1.5M242.07 369.03h1.5M247.31 393.86h1.5M247.31 368.11h1.5" stroke="#bfbf00" stroke-width="0.9"/><path d="M164.17 416.33V416.21M164.17 412.04V411.82M169.42 413.9V413.67M169.42 405.7V405.29M174.66 411.78V411.46M174.66 400.4V399.82M179.9 409.6V409.19M179.9 395.14V394.4M185.14 407.75V407.27M185.14 390.9V390.01M190.39 406.05V405.5M190.39 387.18V386.18M195.63 404.52V403.92M195.63 384.02V382.91M200.87 403.18V402.53M200.87 381.41V380.21M206.12 401.91V401.22M206.12 379.06V377.79M211.36 400.72V399.99M211.36 376.96V375.62M216.6 399.58V398.82M216.6 375.09V373.68M221.85 398.52V397.72M221.85 373.44V371.97M227.09 397.5V396.68M227.09 371.96V370.44M232.33 396.54V395.69M232.33 370.64V369.07M237.58 395.63V394.77M237.58 369.51V367.89M242.82 394.8V393.91M242.82 368.57V366.92M248.06 394.06V393.15M248.06 367.84V366.16" stroke="#0000ff" stroke-width="0.5"/><path d="M158.18 418.34h1.5M158.18 417.41h1.5M163.42 416.33h1.5M163.42 411.82h1.5M168.67 413.9h1.5M168.67 405.29h1.5M173.91 411.78h1.5M173.91 399.82h1.5M179.15 409.6h1.5M179.15 394.4h1.5M184.39 407.75h1.5M184.39 390.01h1.5M189.64 406.05h1.5M189.64 386.18h1.5M194.88 404.52h1.5M194.88 382.91h1.5M200.12 403.18h1.5M200.12 380.21h1.5M205.37 401.91h1.5M205.37 377.79h1.5M210.61 400.72h1.5M210.61 375.62h1.5M215.85 399.58h1.5M215.85 373.68h1.5M221.1 398.52h1.5M221.1 371.97h1.5M226.34 397.5h1.5M226.34 370.44h1.5M231.58 396.54h1.5M231.58 369.07h1.5M236.83 395.63h1.5M236.83 367.89h1.5M242.07 394.8h1.5M242.07 366.92h1.5M247.31 394.06h1.5M247.31 366.16h1.5" stroke="#0000ff" stroke-width="0.9"/><path d="M158.93 418.32V417.45M164.17 416.21V412.04M169.42 413.67V405.7M174.66 411.46V400.4M179.9 409.19V395.14M185.14 407.27V390.9M190.39 405.5V387.18M195.63 403.92V384.02M200.87 402.53V381.41M206.12 401.22V379.06M211.36 399.99V376.96M216.6 398.82V375.09M221.85 397.72V373.44M227.09 396.68V371.96M232.33 395.69V370.64M237.58 394.77V369.51M242.82 393.91V368.57M248.06 393.15V367.84" stroke="#00bfbf" stroke-width="0.5"/><path d="M158.18 418.32h1.5M158.18 417.45h1.5M163.42 416.21h1.5M163.42 412.04h1.5M168.67 413.67h1.5M168.67 405.7h1.5M173.91 411.46h1.5M173.91 400.4h1.5M179.15 409.19h1.5M179.15 395.14h1.5M184.39 407.27h1.5M184.39 390.9h1.5M189.64 405.5h1.5M189.64 387.18h1.5M194.88 403.92h1.5M194.88 384.02h1.5M200.12 402.53h1.5M200.12 381.41h1.5M205.37 401.22h1.5M205.37 379.06h1.5M210.61 399.99h1.5M210.61 376.96h1.5M215.85 398.82h1.5M215.85 375.09h1.5M221.1 397.72h1.5M221.1 373.44h1.5M226.34 396.68h1.5M226.34 371.96h1.5M231.58 395.69h1.5M231.58 370.64h1.5M236.83 394.77h1.5M236.83 369.51h1.5M242.07 393.91h1.5M242.07 368.57h1.5M247.31 393.15h1.5M247.31 367.84h1.5" stroke="#00bfbf" stroke-width="0.9"/><path d="M153.69 418.85L158.93 417.88L164.17 414.66L169.42 410.77L174.66 407.36L179.9 404.04L185.14 401.12L190.39 398.52L195.63 396.25L200.87 394.34L206.12 392.59L211.36 390.99L216.6 389.52L221.85 388.17L227.09 386.91L232.33 385.76L237.58 384.71L242.82 383.78L248.06 382.99" stroke="#ff0000" stroke-width="1.2" stroke-linejoin="round" stroke-opacity="0.75"/><path d="M153.69 418.85L158.93 417.88L164.17 414.37L169.42 410.08L174.66 406.38L179.9 402.78L185.14 399.76L190.39 397.05L195.63 394.69L200.87 392.73L206.12 390.94L211.36 389.3L216.6 387.8L221.85 386.41L227.09 385.11L232.33 383.91L237.58 382.81L242.82 381.83L248.06 380.98" stroke="#bfbf00" stroke-width="1.2" stroke-linejoin="round" stroke-opacity="0.75"/><path d="M153.69 418.85L158.93 417.88L164.17 414.08L169.42 409.6L174.66 405.8L179.9 402L185.14 398.88L190.39 396.11L195.63 393.72L200.87 391.7L206.12 389.85L211.36 388.17L216.6 386.63L221.85 385.24L227.09 383.97L232.33 382.81L237.58 381.76L242.82 380.86L248.06 380.11" stroke="#0000ff" stroke-width="1.2" stroke-linejoin="round" stroke-opacity="0.75"/><path d="M153.69 418.85L158.93 417.89L164.17 414.12L169.42 409.69L174.66 405.93L179.9 402.17L185.14 399.08L190.39 396.34L195.63 393.97L200.87 391.97L206.12 390.14L211.36 388.47L216.6 386.96L221.85 385.58L227.09 384.32L232.33 383.17L237.58 382.14L242.82 381.24L248.06 380.5" stroke="#00bfbf" stroke-width="1.2" stroke-linejoin="round" stroke-opacity="0.75"/></g>
<path d="M143.2 418.85h-2.62M143.2 399.37h-2.62M143.2 379.89h-2.62M143.2 360.4h-2.62M143.2 340.92h-2.62M143.2 418.85v2.62M169.42 418.85v2.62M195.63 418.85v2.62M221.85 418.85v2.62" stroke="#000" stroke-width="0.75"/>
<path d="M143.2 409.11h-1.5M143.2 389.63h-1.5M143.2 370.15h-1.5M143.2 350.66h-1.5M143.2 331.18h-1.5M148.44 418.85v1.5M153.69 418.85v1.5M158.93 418.85v1.5M164.17 418.85v1.5M174.66 418.85v1.5M179.9 418.85v1.5M185.14 418.85v1.5M190.39 418.85v1.5M200.87 418.85v1.5M206.12 418.85v1.5M211.36 418.85v1.5M216.6 418.85v1.5M227.09 418.85v1.5M232.33 418.85v1.5M237.58 418.85v1.5M242.82 418.85v1.5" stroke="#000" stroke-width="0.55"/>
<rect x="143.2" y="324.85" width="104.6" height="94" fill="none" stroke="#6a6a6a" stroke-width="1.3"/>
<g clip-path="url(#c32)" fill="none"><path d="M258.64 418.85V324.85M263.89 418.85V324.85M269.13 418.85V324.85M274.37 418.85V324.85M284.86 418.85V324.85M290.1 418.85V324.85M295.34 418.85V324.85M300.59 418.85V324.85M311.07 418.85V324.85M316.32 418.85V324.85M321.56 418.85V324.85M326.8 418.85V324.85M337.29 418.85V324.85M342.53 418.85V324.85M347.78 418.85V324.85M353.02 418.85V324.85M253.4 409.11H358M253.4 389.63H358M253.4 370.15H358M253.4 350.66H358M253.4 331.18H358" stroke="#d6d6d6" stroke-width="0.6"/><path d="M279.62 418.85V324.85M305.83 418.85V324.85M332.05 418.85V324.85M253.4 399.37H358M253.4 379.89H358M253.4 360.4H358M253.4 340.92H358" stroke="#a8a8a8" stroke-width="0.65" stroke-dasharray="2.41 1.04"/><path d="M279.62 418.85V324.85" stroke="#2a2a2a" stroke-width="1.15" stroke-dasharray="2.35 1.75" stroke-dashoffset="0.7"/><path d="M279.62 412.27V412.14M284.86 409.73V409.61M290.1 407.66V407.46M295.34 405.81V405.55M300.59 404.04V403.79M305.83 402.51V402.26M311.07 401.26V400.99M316.32 400.14V399.84M321.56 399.11V398.79M326.8 398.18V397.83M332.05 397.32V396.94M337.29 396.52V396.11M342.53 395.79V395.35M347.78 395.12V394.65M353.02 394.54V394.03M358.26 394.04V393.49" stroke="#ff0000" stroke-width="0.5"/><path d="M268.38 417.83h1.5M268.38 416.95h1.5M273.62 416.8h1.5M273.62 415.05h1.5M278.87 415.24h1.5M278.87 412.14h1.5M284.11 413.87h1.5M284.11 409.61h1.5M289.35 412.72h1.5M289.35 407.46h1.5M294.59 411.69h1.5M294.59 405.55h1.5M299.84 410.74h1.5M299.84 403.79h1.5M305.08 409.92h1.5M305.08 402.26h1.5M310.32 409.23h1.5M310.32 400.99h1.5M315.57 408.61h1.5M315.57 399.84h1.5M320.81 408.05h1.5M320.81 398.79h1.5M326.05 407.53h1.5M326.05 397.83h1.5M331.3 407.05h1.5M331.3 396.94h1.5M336.54 406.61h1.5M336.54 396.11h1.5M341.78 406.19h1.5M341.78 395.35h1.5M347.03 405.82h1.5M347.03 394.65h1.5M352.27 405.49h1.5M352.27 394.03h1.5M357.51 405.2h1.5M357.51 393.49h1.5" stroke="#ff0000" stroke-width="0.9"/><path d="M269.13 417.18V416.95M274.37 415.38V415.05M279.62 412.68V412.27M284.86 410.11V409.73M290.1 408.05V407.66M295.34 406.25V405.81M300.59 404.59V404.04M305.83 403.16V402.51M311.07 401.99V401.26M316.32 400.92V400.14M321.56 399.96V399.11M326.8 399.08V398.18M332.05 398.28V397.32M337.29 397.54V396.52M342.53 396.85V395.79M347.78 396.24V395.12M353.02 395.71V394.54M358.26 395.26V394.04" stroke="#bfbf00" stroke-width="0.5"/><path d="M268.38 417.83h1.5M268.38 416.95h1.5M273.62 416.8h1.5M273.62 415.05h1.5M278.87 415.3h1.5M278.87 412.27h1.5M284.11 413.94h1.5M284.11 409.73h1.5M289.35 412.82h1.5M289.35 407.66h1.5M294.59 411.83h1.5M294.59 405.81h1.5M299.84 410.88h1.5M299.84 404.04h1.5M305.08 410.05h1.5M305.08 402.51h1.5M310.32 409.38h1.5M310.32 401.26h1.5M315.57 408.77h1.5M315.57 400.14h1.5M320.81 408.22h1.5M320.81 399.11h1.5M326.05 407.72h1.5M326.05 398.18h1.5M331.3 407.26h1.5M331.3 397.32h1.5M336.54 406.83h1.5M336.54 396.52h1.5M341.78 406.43h1.5M341.78 395.79h1.5M347.03 406.07h1.5M347.03 395.12h1.5M352.27 405.76h1.5M352.27 394.54h1.5M357.51 405.49h1.5M357.51 394.04h1.5" stroke="#bfbf00" stroke-width="0.9"/><path d="M269.13 417.3V417.18M274.37 415.61V415.38M279.62 413.02V412.68M284.86 410.56V410.11M290.1 408.55V408.05M295.34 406.8V406.25M300.59 405.19V404.59M305.83 403.82V403.16M311.07 402.69V401.99M316.32 401.66V400.92M321.56 400.72V399.96M326.8 399.89V399.08M332.05 399.16V398.28M337.29 398.5V397.54M342.53 397.9V396.85M347.78 397.38V396.24M353.02 396.96V395.71M358.26 396.63V395.26" stroke="#0000ff" stroke-width="0.5"/><path d="M268.38 417.99h1.5M268.38 417.18h1.5M273.62 417.06h1.5M273.62 415.38h1.5M278.87 415.67h1.5M278.87 412.68h1.5M284.11 414.35h1.5M284.11 410.11h1.5M289.35 413.28h1.5M289.35 408.05h1.5M294.59 412.36h1.5M294.59 406.25h1.5M299.84 411.5h1.5M299.84 404.59h1.5M305.08 410.77h1.5M305.08 403.16h1.5M310.32 410.16h1.5M310.32 401.99h1.5M315.57 409.61h1.5M315.57 400.92h1.5M320.81 409.12h1.5M320.81 399.96h1.5M326.05 408.67h1.5M326.05 399.08h1.5M331.3 408.25h1.5M331.3 398.28h1.5M336.54 407.87h1.5M336.54 397.54h1.5M341.78 407.52h1.5M341.78 396.85h1.5M347.03 407.2h1.5M347.03 396.24h1.5M352.27 406.93h1.5M352.27 395.71h1.5M357.51 406.7h1.5M357.51 395.26h1.5" stroke="#0000ff" stroke-width="0.9"/><path d="M269.13 418.07V417.3M274.37 417.22V415.61M279.62 415.91V413.02M284.86 414.67V410.56M290.1 413.66V408.55M295.34 412.78V406.8M300.59 411.97V405.19M305.83 411.28V403.82M311.07 410.71V402.69M316.32 410.19V401.66M321.56 409.72V400.72M326.8 409.3V399.89M332.05 408.93V399.16M337.29 408.6V398.5M342.53 408.3V397.9M347.78 408.04V397.38M353.02 407.82V396.96M358.26 407.66V396.63" stroke="#00bfbf" stroke-width="0.5"/><path d="M268.38 418.07h1.5M268.38 417.3h1.5M273.62 417.22h1.5M273.62 415.61h1.5M278.87 415.91h1.5M278.87 413.02h1.5M284.11 414.67h1.5M284.11 410.56h1.5M289.35 413.66h1.5M289.35 408.55h1.5M294.59 412.78h1.5M294.59 406.8h1.5M299.84 411.97h1.5M299.84 405.19h1.5M305.08 411.28h1.5M305.08 403.82h1.5M310.32 410.71h1.5M310.32 402.69h1.5M315.57 410.19h1.5M315.57 401.66h1.5M320.81 409.72h1.5M320.81 400.72h1.5M326.05 409.3h1.5M326.05 399.89h1.5M331.3 408.93h1.5M331.3 399.16h1.5M336.54 408.6h1.5M336.54 398.5h1.5M341.78 408.3h1.5M341.78 397.9h1.5M347.03 408.04h1.5M347.03 397.38h1.5M352.27 407.82h1.5M352.27 396.96h1.5M357.51 407.66h1.5M357.51 396.63h1.5" stroke="#00bfbf" stroke-width="0.9"/><path d="M263.89 418.85L269.13 417.39L274.37 415.93L279.62 413.69L284.86 411.74L290.1 410.09L295.34 408.62L300.59 407.26L305.83 406.09L311.07 405.11L316.32 404.23L321.56 403.42L326.8 402.68L332.05 402L337.29 401.36L342.53 400.77L347.78 400.23L353.02 399.76L358.26 399.35" stroke="#ff0000" stroke-width="1.2" stroke-linejoin="round" stroke-opacity="0.75"/><path d="M263.89 418.85L269.13 417.39L274.37 415.93L279.62 413.78L284.86 411.84L290.1 410.24L295.34 408.82L300.59 407.46L305.83 406.28L311.07 405.32L316.32 404.46L321.56 403.67L326.8 402.95L332.05 402.29L337.29 401.68L342.53 401.11L347.78 400.6L353.02 400.15L358.26 399.76" stroke="#bfbf00" stroke-width="1.2" stroke-linejoin="round" stroke-opacity="0.75"/><path d="M263.89 418.85L269.13 417.58L274.37 416.22L279.62 414.17L284.86 412.23L290.1 410.67L295.34 409.3L300.59 408.04L305.83 406.97L311.07 406.08L316.32 405.27L321.56 404.54L326.8 403.87L332.05 403.26L337.29 402.7L342.53 402.19L347.78 401.72L353.02 401.32L358.26 400.98" stroke="#0000ff" stroke-width="1.2" stroke-linejoin="round" stroke-opacity="0.75"/><path d="M263.89 418.85L269.13 417.68L274.37 416.41L279.62 414.47L284.86 412.62L290.1 411.11L295.34 409.79L300.59 408.58L305.83 407.55L311.07 406.7L316.32 405.92L321.56 405.22L326.8 404.6L332.05 404.04L337.29 403.55L342.53 403.1L347.78 402.71L353.02 402.39L358.26 402.14" stroke="#00bfbf" stroke-width="1.2" stroke-linejoin="round" stroke-opacity="0.75"/></g>
<path d="M253.4 418.85h-2.62M253.4 399.37h-2.62M253.4 379.89h-2.62M253.4 360.4h-2.62M253.4 340.92h-2.62M253.4 418.85v2.62M279.62 418.85v2.62M305.83 418.85v2.62M332.05 418.85v2.62" stroke="#000" stroke-width="0.75"/>
<path d="M253.4 409.11h-1.5M253.4 389.63h-1.5M253.4 370.15h-1.5M253.4 350.66h-1.5M253.4 331.18h-1.5M258.64 418.85v1.5M263.89 418.85v1.5M269.13 418.85v1.5M274.37 418.85v1.5M284.86 418.85v1.5M290.1 418.85v1.5M295.34 418.85v1.5M300.59 418.85v1.5M311.07 418.85v1.5M316.32 418.85v1.5M321.56 418.85v1.5M326.8 418.85v1.5M337.29 418.85v1.5M342.53 418.85v1.5M347.78 418.85v1.5M353.02 418.85v1.5" stroke="#000" stroke-width="0.55"/>
<rect x="253.4" y="324.85" width="104.6" height="94" fill="none" stroke="#6a6a6a" stroke-width="1.3"/>
<g clip-path="url(#c33)" fill="none"><path d="M368.74 418.85V324.85M373.99 418.85V324.85M379.23 418.85V324.85M384.47 418.85V324.85M394.96 418.85V324.85M400.2 418.85V324.85M405.44 418.85V324.85M410.69 418.85V324.85M421.17 418.85V324.85M426.42 418.85V324.85M431.66 418.85V324.85M436.9 418.85V324.85M447.39 418.85V324.85M452.63 418.85V324.85M457.88 418.85V324.85M463.12 418.85V324.85M363.5 409.11H468.1M363.5 389.63H468.1M363.5 370.15H468.1M363.5 350.66H468.1M363.5 331.18H468.1" stroke="#d6d6d6" stroke-width="0.6"/><path d="M389.72 418.85V324.85M415.93 418.85V324.85M442.15 418.85V324.85M363.5 399.37H468.1M363.5 379.89H468.1M363.5 360.4H468.1M363.5 340.92H468.1" stroke="#a8a8a8" stroke-width="0.65" stroke-dasharray="2.41 1.04"/><path d="M384.47 396.95V396.46M389.72 397.85V395.27M394.96 398.79V394.69M400.2 399.21V393.85M405.44 399.9V393.63M410.69 400.01V392.98M415.93 400.65V393.13M421.17 400.65V393.43M426.42 401.33V393.72M431.66 401.25V394M436.9 401.95V394.26M442.15 401.77V394.5M447.39 402.48V394.72M452.63 402.22V394.93M457.88 402.96V395.13M463.12 402.61V395.31M468.36 403.36V395.47" stroke="#ff0000" stroke-width="0.5"/><path d="M383.72 396.95h1.5M383.72 396.46h1.5M388.97 397.85h1.5M388.97 395.27h1.5M394.21 398.79h1.5M394.21 394.69h1.5M399.45 399.21h1.5M399.45 393.85h1.5M404.69 399.9h1.5M404.69 393.63h1.5M409.94 400.01h1.5M409.94 392.98h1.5M415.18 400.65h1.5M415.18 392.94h1.5M420.42 400.65h1.5M420.42 392.29h1.5M425.67 401.33h1.5M425.67 392.33h1.5M430.91 401.25h1.5M430.91 391.63h1.5M436.15 401.95h1.5M436.15 391.76h1.5M441.4 401.77h1.5M441.4 391.06h1.5M446.64 402.48h1.5M446.64 391.28h1.5M451.88 402.22h1.5M451.88 390.55h1.5M457.13 402.96h1.5M457.13 390.86h1.5M462.37 402.61h1.5M462.37 390.11h1.5M467.61 403.36h1.5M467.61 390.5h1.5" stroke="#ff0000" stroke-width="0.9"/><path d="M384.47 389.85V389.4M389.72 390.8V388.46M394.96 391.49V387.76M400.2 392.06V387.19M405.44 392.48V386.78M410.69 392.82V386.43M415.93 393.13V386.12M421.17 393.43V385.83M426.42 393.72V385.53M431.66 394V385.57M436.9 394.26V385.81M442.15 394.5V386.02M447.39 394.72V386.22M452.63 394.93V386.41M457.88 395.13V386.59M463.12 395.31V386.75M468.36 395.47V386.9" stroke="#bfbf00" stroke-width="0.5"/><path d="M383.72 389.85h1.5M383.72 389.4h1.5M388.97 390.8h1.5M388.97 388.46h1.5M394.21 391.49h1.5M394.21 387.76h1.5M399.45 392.06h1.5M399.45 387.19h1.5M404.69 392.48h1.5M404.69 386.78h1.5M409.94 392.82h1.5M409.94 386.43h1.5M415.18 393.13h1.5M415.18 386.12h1.5M420.42 393.43h1.5M420.42 385.83h1.5M425.67 393.72h1.5M425.67 385.53h1.5M430.91 394h1.5M430.91 385.26h1.5M436.15 394.26h1.5M436.15 385h1.5M441.4 394.5h1.5M441.4 384.76h1.5M446.64 394.72h1.5M446.64 384.53h1.5M451.88 394.93h1.5M451.88 384.32h1.5M457.13 395.13h1.5M457.13 384.13h1.5M462.37 395.31h1.5M462.37 383.95h1.5M467.61 395.47h1.5M467.61 383.78h1.5" stroke="#bfbf00" stroke-width="0.9"/><path d="M384.47 381.84V381.44M389.72 382.69V380.59M394.96 383.32V379.96M400.2 383.83V379.96M405.44 384.2V380.35M410.69 384.52V380.68M415.93 384.79V380.97M421.17 385.06V381.25M426.42 385.32V381.53M431.66 385.57V381.8M436.9 385.81V382.05M442.15 386.02V382.27M447.39 386.22V382.48M452.63 386.41V382.68M457.88 386.59V382.87M463.12 386.75V383.04M468.36 386.9V383.2" stroke="#0000ff" stroke-width="0.5"/><path d="M383.72 381.84h1.5M383.72 381.44h1.5M388.97 382.69h1.5M388.97 380.59h1.5M394.21 383.32h1.5M394.21 379.96h1.5M399.45 383.83h1.5M399.45 379.45h1.5M404.69 384.2h1.5M404.69 379.07h1.5M409.94 384.52h1.5M409.94 378.76h1.5M415.18 384.79h1.5M415.18 378.49h1.5M420.42 385.06h1.5M420.42 378.22h1.5M425.67 385.32h1.5M425.67 377.96h1.5M430.91 385.57h1.5M430.91 377.71h1.5M436.15 385.81h1.5M436.15 377.47h1.5M441.4 386.02h1.5M441.4 377.26h1.5M446.64 386.22h1.5M446.64 377.06h1.5M451.88 386.41h1.5M451.88 376.87h1.5M457.13 386.59h1.5M457.13 376.69h1.5M462.37 386.75h1.5M462.37 376.53h1.5M467.61 386.9h1.5M467.61 376.38h1.5" stroke="#0000ff" stroke-width="0.9"/><path d="M384.47 377.86V377.43M389.72 378.76V376.54M394.96 379.42V375.88M400.2 379.96V375.33M405.44 380.35V374.94M410.69 380.68V374.61M415.93 380.97V374.32M421.17 381.25V374.04M426.42 381.53V373.76M431.66 381.8V373.49M436.9 382.05V373.25M442.15 382.27V373.02M447.39 382.48V372.81M452.63 382.68V372.61M457.88 382.87V372.42M463.12 383.04V372.25M468.36 383.2V372.09" stroke="#00bfbf" stroke-width="0.5"/><path d="M383.72 377.86h1.5M383.72 377.43h1.5M388.97 378.76h1.5M388.97 376.54h1.5M394.21 379.42h1.5M394.21 375.88h1.5M399.45 379.96h1.5M399.45 375.33h1.5M404.69 380.35h1.5M404.69 374.94h1.5M409.94 380.68h1.5M409.94 374.61h1.5M415.18 380.97h1.5M415.18 374.32h1.5M420.42 381.25h1.5M420.42 374.04h1.5M425.67 381.53h1.5M425.67 373.76h1.5M430.91 381.8h1.5M430.91 373.49h1.5M436.15 382.05h1.5M436.15 373.25h1.5M441.4 382.27h1.5M441.4 373.02h1.5M446.64 382.48h1.5M446.64 372.81h1.5M451.88 382.68h1.5M451.88 372.61h1.5M457.13 382.87h1.5M457.13 372.42h1.5M462.37 383.04h1.5M462.37 372.25h1.5M467.61 383.2h1.5M467.61 372.09h1.5" stroke="#00bfbf" stroke-width="0.9"/><path d="M363.5 396.64L368.74 396.62L373.99 396.67L379.23 396.59L384.47 396.71L389.72 396.56L394.96 396.74L400.2 396.53L405.44 396.77L410.69 396.5L415.93 396.8L421.17 396.47L426.42 396.83L431.66 396.44L436.9 396.85L442.15 396.41L447.39 396.88L452.63 396.39L457.88 396.91L463.12 396.36L468.36 396.93" stroke="#ff0000" stroke-width="1.2" stroke-linejoin="round" stroke-opacity="0.75"/><path d="M363.5 389.63L368.74 389.63L373.99 389.63L379.23 389.63L384.47 389.63L389.72 389.63L394.96 389.63L400.2 389.63L405.44 389.63L410.69 389.63L415.93 389.63L421.17 389.63L426.42 389.63L431.66 389.63L436.9 389.63L442.15 389.63L447.39 389.63L452.63 389.63L457.88 389.63L463.12 389.63L468.36 389.63" stroke="#bfbf00" stroke-width="1.2" stroke-linejoin="round" stroke-opacity="0.75"/><path d="M363.5 381.64L368.74 381.64L373.99 381.64L379.23 381.64L384.47 381.64L389.72 381.64L394.96 381.64L400.2 381.64L405.44 381.64L410.69 381.64L415.93 381.64L421.17 381.64L426.42 381.64L431.66 381.64L436.9 381.64L442.15 381.64L447.39 381.64L452.63 381.64L457.88 381.64L463.12 381.64L468.36 381.64" stroke="#0000ff" stroke-width="1.2" stroke-linejoin="round" stroke-opacity="0.75"/><path d="M363.5 377.65L368.74 377.65L373.99 377.65L379.23 377.65L384.47 377.65L389.72 377.65L394.96 377.65L400.2 377.65L405.44 377.65L410.69 377.65L415.93 377.65L421.17 377.65L426.42 377.65L431.66 377.65L436.9 377.65L442.15 377.65L447.39 377.65L452.63 377.65L457.88 377.65L463.12 377.65L468.36 377.65" stroke="#00bfbf" stroke-width="1.2" stroke-linejoin="round" stroke-opacity="0.75"/></g>
<path d="M363.5 418.85h-2.62M363.5 399.37h-2.62M363.5 379.89h-2.62M363.5 360.4h-2.62M363.5 340.92h-2.62M363.5 418.85v2.62M389.72 418.85v2.62M415.93 418.85v2.62M442.15 418.85v2.62" stroke="#000" stroke-width="0.75"/>
<path d="M363.5 409.11h-1.5M363.5 389.63h-1.5M363.5 370.15h-1.5M363.5 350.66h-1.5M363.5 331.18h-1.5M368.74 418.85v1.5M373.99 418.85v1.5M379.23 418.85v1.5M384.47 418.85v1.5M394.96 418.85v1.5M400.2 418.85v1.5M405.44 418.85v1.5M410.69 418.85v1.5M421.17 418.85v1.5M426.42 418.85v1.5M431.66 418.85v1.5M436.9 418.85v1.5M447.39 418.85v1.5M452.63 418.85v1.5M457.88 418.85v1.5M463.12 418.85v1.5" stroke="#000" stroke-width="0.55"/>
<rect x="363.5" y="324.85" width="104.6" height="94" fill="none" stroke="#6a6a6a" stroke-width="1.3"/>
<g clip-path="url(#c40)" fill="none"><path d="M38.24 522.4V428.4M43.49 522.4V428.4M48.73 522.4V428.4M53.97 522.4V428.4M64.46 522.4V428.4M69.7 522.4V428.4M74.94 522.4V428.4M80.19 522.4V428.4M90.67 522.4V428.4M95.92 522.4V428.4M101.16 522.4V428.4M106.4 522.4V428.4M116.89 522.4V428.4M122.13 522.4V428.4M127.38 522.4V428.4M132.62 522.4V428.4M33 512.66H137.6M33 493.18H137.6M33 473.7H137.6M33 454.21H137.6M33 434.73H137.6" stroke="#d6d6d6" stroke-width="0.6"/><path d="M59.22 522.4V428.4M85.43 522.4V428.4M111.65 522.4V428.4M33 502.92H137.6M33 483.44H137.6M33 463.95H137.6M33 444.47H137.6" stroke="#a8a8a8" stroke-width="0.65" stroke-dasharray="2.41 1.04"/><path d="M59.22 522.4V428.4" stroke="#2a2a2a" stroke-width="1.15" stroke-dasharray="2.35 1.75" stroke-dashoffset="0.7"/><path d="M69.7 518.26V517.83M74.94 516.78V516.35M80.19 514.33V513.9M85.43 513.75V513.32M90.67 511.15V510.71M95.92 510.43V510M101.16 508.44V508.01M106.4 508.42V507.98M111.65 506.87V506.43M116.89 507.12V506.69M122.13 505.6V505.17M127.38 505.49V505.39M132.62 504.31V503.87" stroke="#ff0000" stroke-width="0.5"/><path d="M63.71 521.94h1.5M63.71 521.1h1.5M68.95 520.79h1.5M68.95 517.83h1.5M74.19 520.27h1.5M74.19 516.35h1.5M79.44 519.41h1.5M79.44 513.9h1.5M84.68 519.21h1.5M84.68 513.32h1.5M89.92 518.29h1.5M89.92 510.71h1.5M95.17 518.04h1.5M95.17 510h1.5M100.41 517.34h1.5M100.41 508.01h1.5M105.65 517.33h1.5M105.65 507.98h1.5M110.9 516.79h1.5M110.9 506.43h1.5M116.14 516.88h1.5M116.14 506.69h1.5M121.38 516.35h1.5M121.38 505.17h1.5M126.63 516.42h1.5M126.63 505.39h1.5M131.87 515.89h1.5M131.87 503.87h1.5M137.11 515.97h1.5M137.11 504.09h1.5" stroke="#ff0000" stroke-width="0.9"/><path d="M69.7 519.01V518.26M74.94 517.27V516.78M80.19 515.5V514.33M90.67 512.24V511.15M95.92 510.93V510.43M101.16 509.96V508.44M106.4 509.11V508.42M111.65 508.29V506.87M116.89 507.45V507.12M122.13 506.48V505.6M132.62 504.57V504.31" stroke="#bfbf00" stroke-width="0.5"/><path d="M63.71 522.1h1.5M63.71 521.54h1.5M68.95 520.95h1.5M68.95 518.26h1.5M74.19 520.42h1.5M74.19 516.78h1.5M79.44 519.57h1.5M79.44 514.33h1.5M84.68 519.36h1.5M84.68 513.75h1.5M89.92 518.45h1.5M89.92 511.15h1.5M95.17 518.2h1.5M95.17 510.43h1.5M100.41 517.5h1.5M100.41 508.44h1.5M105.65 517.49h1.5M105.65 508.42h1.5M110.9 516.94h1.5M110.9 506.87h1.5M116.14 517.03h1.5M116.14 507.12h1.5M121.38 516.5h1.5M121.38 505.6h1.5M126.63 516.57h1.5M126.63 505.82h1.5M131.87 516.04h1.5M131.87 504.31h1.5M137.11 516.12h1.5M137.11 504.52h1.5" stroke="#bfbf00" stroke-width="0.9"/><path d="M64.46 522.05V521.87M69.7 521.59V521.42M74.94 521.08V520.91M80.19 520.57V520.4M85.43 520.08V519.9M90.67 519.63V519.45M95.92 519.24V519.07M101.16 518.96V518.79M106.4 518.72V518.54M111.65 518.48V518.3M116.89 518.24V518.06M122.13 517.95V517.78M127.38 517.67V517.49M132.62 517.4V517.22M137.86 517.14V516.96" stroke="#0000ff" stroke-width="0.5"/><path d="M63.71 522.05h1.5M63.71 521.19h1.5M68.95 521.59h1.5M68.95 519.61h1.5M74.19 521.08h1.5M74.19 517.87h1.5M79.44 520.57h1.5M79.44 516.1h1.5M84.68 520.08h1.5M84.68 514.4h1.5M89.92 519.63h1.5M89.92 512.85h1.5M95.17 519.24h1.5M95.17 511.53h1.5M100.41 518.96h1.5M100.41 510.56h1.5M105.65 518.72h1.5M105.65 509.72h1.5M110.9 518.48h1.5M110.9 508.9h1.5M116.14 518.24h1.5M116.14 508.06h1.5M121.38 517.95h1.5M121.38 507.09h1.5M126.63 517.67h1.5M126.63 506.09h1.5M131.87 517.4h1.5M131.87 505.17h1.5M137.11 517.14h1.5M137.11 504.28h1.5" stroke="#0000ff" stroke-width="0.9"/><path d="M64.46 521.87V520.59M69.7 521.42V519.01M74.94 520.91V517.27M80.19 520.4V515.5M85.43 519.9V513.79M90.67 519.45V512.24M95.92 519.07V510.93M101.16 518.79V509.96M106.4 518.54V509.11M111.65 518.3V508.29M116.89 518.06V507.45M122.13 517.78V506.48M127.38 517.49V505.49M132.62 517.22V504.57M137.86 516.96V503.68" stroke="#00bfbf" stroke-width="0.5"/><path d="M63.71 521.87h1.5M63.71 520.59h1.5M68.95 521.42h1.5M68.95 519.01h1.5M74.19 520.91h1.5M74.19 517.27h1.5M79.44 520.4h1.5M79.44 515.5h1.5M84.68 519.9h1.5M84.68 513.79h1.5M89.92 519.45h1.5M89.92 512.24h1.5M95.17 519.07h1.5M95.17 510.93h1.5M100.41 518.79h1.5M100.41 509.96h1.5M105.65 518.54h1.5M105.65 509.11h1.5M110.9 518.3h1.5M110.9 508.29h1.5M116.14 518.06h1.5M116.14 507.45h1.5M121.38 517.78h1.5M121.38 506.48h1.5M126.63 517.49h1.5M126.63 505.49h1.5M131.87 517.22h1.5M131.87 504.57h1.5M137.11 516.96h1.5M137.11 503.68h1.5" stroke="#00bfbf" stroke-width="0.9"/><path d="M59.22 522.4L64.46 521.52L69.7 519.31L74.94 518.31L80.19 516.66L85.43 516.26L90.67 514.5L95.92 514.02L101.16 512.68L106.4 512.66L111.65 511.61L116.89 511.78L122.13 510.76L127.38 510.91L132.62 509.88L137.86 510.03" stroke="#ff0000" stroke-width="1.2" stroke-linejoin="round" stroke-opacity="0.75"/><path d="M59.22 522.4L64.46 521.82L69.7 519.6L74.94 518.6L80.19 516.95L85.43 516.56L90.67 514.8L95.92 514.32L101.16 512.97L106.4 512.95L111.65 511.9L116.89 512.07L122.13 511.05L127.38 511.2L132.62 510.18L137.86 510.32" stroke="#bfbf00" stroke-width="1.2" stroke-linejoin="round" stroke-opacity="0.75"/><path d="M59.22 522.4L64.46 521.62L69.7 520.6L74.94 519.48L80.19 518.34L85.43 517.24L90.67 516.24L95.92 515.39L101.16 514.76L106.4 514.22L111.65 513.69L116.89 513.15L122.13 512.52L127.38 511.88L132.62 511.28L137.86 510.71" stroke="#0000ff" stroke-width="1.2" stroke-linejoin="round" stroke-opacity="0.75"/><path d="M59.22 522.4L64.46 521.23L69.7 520.21L74.94 519.09L80.19 517.95L85.43 516.85L90.67 515.85L95.92 515L101.16 514.37L106.4 513.83L111.65 513.3L116.89 512.76L122.13 512.13L127.38 511.49L132.62 510.89L137.86 510.32" stroke="#00bfbf" stroke-width="1.2" stroke-linejoin="round" stroke-opacity="0.75"/></g>
<path d="M33 522.4h-2.62M33 502.92h-2.62M33 483.44h-2.62M33 463.95h-2.62M33 444.47h-2.62M33 522.4v2.62M59.22 522.4v2.62M85.43 522.4v2.62M111.65 522.4v2.62" stroke="#000" stroke-width="0.75"/>
<path d="M33 512.66h-1.5M33 493.18h-1.5M33 473.7h-1.5M33 454.21h-1.5M33 434.73h-1.5M38.24 522.4v1.5M43.49 522.4v1.5M48.73 522.4v1.5M53.97 522.4v1.5M64.46 522.4v1.5M69.7 522.4v1.5M74.94 522.4v1.5M80.19 522.4v1.5M90.67 522.4v1.5M95.92 522.4v1.5M101.16 522.4v1.5M106.4 522.4v1.5M116.89 522.4v1.5M122.13 522.4v1.5M127.38 522.4v1.5M132.62 522.4v1.5" stroke="#000" stroke-width="0.55"/>
<rect x="33" y="428.4" width="104.6" height="94" fill="none" stroke="#6a6a6a" stroke-width="1.3"/>
<g clip-path="url(#c41)" fill="none"><path d="M148.44 522.4V428.4M153.69 522.4V428.4M158.93 522.4V428.4M164.17 522.4V428.4M174.66 522.4V428.4M179.9 522.4V428.4M185.14 522.4V428.4M190.39 522.4V428.4M200.87 522.4V428.4M206.12 522.4V428.4M211.36 522.4V428.4M216.6 522.4V428.4M227.09 522.4V428.4M232.33 522.4V428.4M237.58 522.4V428.4M242.82 522.4V428.4M143.2 512.66H247.8M143.2 493.18H247.8M143.2 473.7H247.8M143.2 454.21H247.8M143.2 434.73H247.8" stroke="#d6d6d6" stroke-width="0.6"/><path d="M169.42 522.4V428.4M195.63 522.4V428.4M221.85 522.4V428.4M143.2 502.92H247.8M143.2 483.44H247.8M143.2 463.95H247.8M143.2 444.47H247.8" stroke="#a8a8a8" stroke-width="0.65" stroke-dasharray="2.41 1.04"/><path d="M169.42 522.4V428.4" stroke="#2a2a2a" stroke-width="1.15" stroke-dasharray="2.35 1.75" stroke-dashoffset="0.7"/><path d="M174.66 519.97V519.54M179.9 514.67V514.24M185.14 512.23V511.8M190.39 507.28V506.85M195.63 505.36V504.93M200.87 500.61V500.18M206.12 498.92V498.49M211.36 494.64V494.21M216.6 493.48V493.05M221.85 489.71V489.28M227.09 489.04V488.61M232.33 485.72V485.29M237.58 485.46V485.03M242.82 482.51V482.08M248.06 482.59V482.16" stroke="#ff0000" stroke-width="0.5"/><path d="M173.91 521.37h1.5M173.91 519.54h1.5M179.15 519.46h1.5M179.15 514.24h1.5M184.39 518.58h1.5M184.39 511.8h1.5M189.64 516.79h1.5M189.64 506.85h1.5M194.88 516.1h1.5M194.88 504.93h1.5M200.12 514.39h1.5M200.12 500.18h1.5M205.37 513.78h1.5M205.37 498.49h1.5M210.61 512.24h1.5M210.61 494.21h1.5M215.85 511.82h1.5M215.85 493.05h1.5M221.1 510.46h1.5M221.1 489.28h1.5M226.34 510.22h1.5M226.34 488.61h1.5M231.58 509.02h1.5M231.58 485.29h1.5M236.83 508.93h1.5M236.83 485.03h1.5M242.07 507.86h1.5M242.07 482.08h1.5M247.31 507.89h1.5M247.31 482.16h1.5" stroke="#ff0000" stroke-width="0.9"/><path d="M179.9 516.89V514.67M185.14 513.08V512.23M190.39 509.59V507.28M195.63 506.3V505.36M200.87 503.13V500.61M206.12 500.19V498.92M211.36 497.6V494.64M216.6 495.22V493.48M221.85 492.98V489.71M227.09 490.84V489.04M232.33 488.74V485.72M237.58 486.75V485.46M242.82 484.92V482.51M248.06 483.24V482.59" stroke="#bfbf00" stroke-width="0.5"/><path d="M173.91 521.52h1.5M173.91 519.97h1.5M179.15 519.61h1.5M179.15 514.67h1.5M184.39 518.73h1.5M184.39 512.23h1.5M189.64 516.95h1.5M189.64 507.28h1.5M194.88 516.26h1.5M194.88 505.36h1.5M200.12 514.54h1.5M200.12 500.61h1.5M205.37 513.93h1.5M205.37 498.92h1.5M210.61 512.39h1.5M210.61 494.64h1.5M215.85 511.97h1.5M215.85 493.48h1.5M221.1 510.61h1.5M221.1 489.71h1.5M226.34 510.37h1.5M226.34 489.04h1.5M231.58 509.17h1.5M231.58 485.72h1.5M236.83 509.08h1.5M236.83 485.46h1.5M242.07 508.02h1.5M242.07 482.51h1.5M247.31 508.05h1.5M247.31 482.59h1.5" stroke="#bfbf00" stroke-width="0.9"/><path d="M174.66 521.82V521.49M179.9 520.74V520.31M185.14 519.43V518.86M190.39 518.22V517.54M195.63 517.09V516.29M200.87 516V515.09M206.12 515V513.99M211.36 514.13V513.04M211.36 497.72V497.6M216.6 513.34V512.17M216.6 495.42V495.22M221.85 512.59V511.34M221.85 493.25V492.98M227.09 511.88V510.56M227.09 491.19V490.84M232.33 511.18V509.79M232.33 489.15V488.74M237.58 510.52V509.06M237.58 487.23V486.75M242.82 509.91V508.39M242.82 485.47V484.92M248.06 509.35V507.77M248.06 483.84V483.24" stroke="#0000ff" stroke-width="0.5"/><path d="M173.91 521.82h1.5M173.91 520.65h1.5M179.15 520.74h1.5M179.15 517.43h1.5M184.39 519.43h1.5M184.39 513.49h1.5M189.64 518.22h1.5M189.64 509.87h1.5M194.88 517.09h1.5M194.88 506.47h1.5M200.12 516h1.5M200.12 503.2h1.5M205.37 515h1.5M205.37 500.19h1.5M210.61 514.13h1.5M210.61 497.6h1.5M215.85 513.34h1.5M215.85 495.22h1.5M221.1 512.59h1.5M221.1 492.98h1.5M226.34 511.88h1.5M226.34 490.84h1.5M231.58 511.18h1.5M231.58 488.74h1.5M236.83 510.52h1.5M236.83 486.75h1.5M242.07 509.91h1.5M242.07 484.92h1.5M247.31 509.35h1.5M247.31 483.24h1.5" stroke="#0000ff" stroke-width="0.9"/><path d="M174.66 521.49V520M179.9 520.31V516.89M185.14 518.86V513.08M190.39 517.54V509.59M195.63 516.29V506.3M200.87 515.09V503.13M206.12 513.99V500.22M211.36 513.04V497.72M216.6 512.17V495.42M221.85 511.34V493.25M227.09 510.56V491.19M232.33 509.79V489.15M237.58 509.06V487.23M242.82 508.39V485.47M248.06 507.77V483.84" stroke="#00bfbf" stroke-width="0.5"/><path d="M173.91 521.49h1.5M173.91 520h1.5M179.15 520.31h1.5M179.15 516.89h1.5M184.39 518.86h1.5M184.39 513.08h1.5M189.64 517.54h1.5M189.64 509.59h1.5M194.88 516.29h1.5M194.88 506.3h1.5M200.12 515.09h1.5M200.12 503.13h1.5M205.37 513.99h1.5M205.37 500.22h1.5M210.61 513.04h1.5M210.61 497.72h1.5M215.85 512.17h1.5M215.85 495.42h1.5M221.1 511.34h1.5M221.1 493.25h1.5M226.34 510.56h1.5M226.34 491.19h1.5M231.58 509.79h1.5M231.58 489.15h1.5M236.83 509.06h1.5M236.83 487.23h1.5M242.07 508.39h1.5M242.07 485.47h1.5M247.31 507.77h1.5M247.31 483.84h1.5" stroke="#00bfbf" stroke-width="0.9"/><path d="M169.42 522.4L174.66 520.45L179.9 516.85L185.14 515.19L190.39 511.82L195.63 510.52L200.87 507.29L206.12 506.13L211.36 503.22L216.6 502.43L221.85 499.87L227.09 499.41L232.33 497.15L237.58 496.98L242.82 494.97L248.06 495.03" stroke="#ff0000" stroke-width="1.2" stroke-linejoin="round" stroke-opacity="0.75"/><path d="M169.42 522.4L174.66 520.74L179.9 517.14L185.14 515.48L190.39 512.11L195.63 510.81L200.87 507.58L206.12 506.42L211.36 503.51L216.6 502.72L221.85 500.16L227.09 499.7L232.33 497.45L237.58 497.27L242.82 495.26L248.06 495.32" stroke="#bfbf00" stroke-width="1.2" stroke-linejoin="round" stroke-opacity="0.75"/><path d="M169.42 522.4L174.66 521.23L179.9 519.09L185.14 516.46L190.39 514.05L195.63 511.78L200.87 509.6L206.12 507.59L211.36 505.86L216.6 504.28L221.85 502.79L227.09 501.36L232.33 499.96L237.58 498.63L242.82 497.42L248.06 496.29" stroke="#0000ff" stroke-width="1.2" stroke-linejoin="round" stroke-opacity="0.75"/><path d="M169.42 522.4L174.66 520.74L179.9 518.6L185.14 515.97L190.39 513.56L195.63 511.3L200.87 509.11L206.12 507.11L211.36 505.38L216.6 503.79L221.85 502.3L227.09 500.87L232.33 499.47L237.58 498.15L242.82 496.93L248.06 495.81" stroke="#00bfbf" stroke-width="1.2" stroke-linejoin="round" stroke-opacity="0.75"/></g>
<path d="M143.2 522.4h-2.62M143.2 502.92h-2.62M143.2 483.44h-2.62M143.2 463.95h-2.62M143.2 444.47h-2.62M143.2 522.4v2.62M169.42 522.4v2.62M195.63 522.4v2.62M221.85 522.4v2.62" stroke="#000" stroke-width="0.75"/>
<path d="M143.2 512.66h-1.5M143.2 493.18h-1.5M143.2 473.7h-1.5M143.2 454.21h-1.5M143.2 434.73h-1.5M148.44 522.4v1.5M153.69 522.4v1.5M158.93 522.4v1.5M164.17 522.4v1.5M174.66 522.4v1.5M179.9 522.4v1.5M185.14 522.4v1.5M190.39 522.4v1.5M200.87 522.4v1.5M206.12 522.4v1.5M211.36 522.4v1.5M216.6 522.4v1.5M227.09 522.4v1.5M232.33 522.4v1.5M237.58 522.4v1.5M242.82 522.4v1.5" stroke="#000" stroke-width="0.55"/>
<rect x="143.2" y="428.4" width="104.6" height="94" fill="none" stroke="#6a6a6a" stroke-width="1.3"/>
<g clip-path="url(#c42)" fill="none"><path d="M258.64 522.4V428.4M263.89 522.4V428.4M269.13 522.4V428.4M274.37 522.4V428.4M284.86 522.4V428.4M290.1 522.4V428.4M295.34 522.4V428.4M300.59 522.4V428.4M311.07 522.4V428.4M316.32 522.4V428.4M321.56 522.4V428.4M326.8 522.4V428.4M337.29 522.4V428.4M342.53 522.4V428.4M347.78 522.4V428.4M353.02 522.4V428.4M253.4 512.66H358M253.4 493.18H358M253.4 473.7H358M253.4 454.21H358M253.4 434.73H358" stroke="#d6d6d6" stroke-width="0.6"/><path d="M279.62 522.4V428.4M305.83 522.4V428.4M332.05 522.4V428.4M253.4 502.92H358M253.4 483.44H358M253.4 463.95H358M253.4 444.47H358" stroke="#a8a8a8" stroke-width="0.65" stroke-dasharray="2.41 1.04"/><path d="M279.62 522.4V428.4" stroke="#2a2a2a" stroke-width="1.15" stroke-dasharray="2.35 1.75" stroke-dashoffset="0.7"/><path d="M290.1 518.26V517.83M295.34 516.78V516.35M300.59 514.33V513.9M305.83 513.75V513.32M311.07 511.15V510.71M316.32 510.43V510M321.56 508.44V508.01M326.8 508.42V507.98M332.05 506.87V506.43M337.29 507.12V506.69M342.53 505.6V505.17M347.78 505.49V505.39M353.02 504.31V503.87" stroke="#ff0000" stroke-width="0.5"/><path d="M284.11 521.94h1.5M284.11 521.1h1.5M289.35 520.79h1.5M289.35 517.83h1.5M294.59 520.27h1.5M294.59 516.35h1.5M299.84 519.41h1.5M299.84 513.9h1.5M305.08 519.21h1.5M305.08 513.32h1.5M310.32 518.29h1.5M310.32 510.71h1.5M315.57 518.04h1.5M315.57 510h1.5M320.81 517.34h1.5M320.81 508.01h1.5M326.05 517.33h1.5M326.05 507.98h1.5M331.3 516.79h1.5M331.3 506.43h1.5M336.54 516.88h1.5M336.54 506.69h1.5M341.78 516.35h1.5M341.78 505.17h1.5M347.03 516.42h1.5M347.03 505.39h1.5M352.27 515.89h1.5M352.27 503.87h1.5M357.51 515.97h1.5M357.51 504.09h1.5" stroke="#ff0000" stroke-width="0.9"/><path d="M290.1 519.01V518.26M295.34 517.27V516.78M300.59 515.5V514.33M311.07 512.24V511.15M316.32 510.93V510.43M321.56 509.96V508.44M326.8 509.11V508.42M332.05 508.29V506.87M337.29 507.45V507.12M342.53 506.48V505.6M353.02 504.57V504.31" stroke="#bfbf00" stroke-width="0.5"/><path d="M284.11 522.1h1.5M284.11 521.54h1.5M289.35 520.95h1.5M289.35 518.26h1.5M294.59 520.42h1.5M294.59 516.78h1.5M299.84 519.57h1.5M299.84 514.33h1.5M305.08 519.36h1.5M305.08 513.75h1.5M310.32 518.45h1.5M310.32 511.15h1.5M315.57 518.2h1.5M315.57 510.43h1.5M320.81 517.5h1.5M320.81 508.44h1.5M326.05 517.49h1.5M326.05 508.42h1.5M331.3 516.94h1.5M331.3 506.87h1.5M336.54 517.03h1.5M336.54 507.12h1.5M341.78 516.5h1.5M341.78 505.6h1.5M347.03 516.57h1.5M347.03 505.82h1.5M352.27 516.04h1.5M352.27 504.31h1.5M357.51 516.12h1.5M357.51 504.52h1.5" stroke="#bfbf00" stroke-width="0.9"/><path d="M284.86 522.05V521.87M290.1 521.59V521.42M295.34 521.08V520.91M300.59 520.57V520.4M305.83 520.08V519.9M311.07 519.63V519.45M316.32 519.24V519.07M321.56 518.96V518.79M326.8 518.72V518.54M332.05 518.48V518.3M337.29 518.24V518.06M342.53 517.95V517.78M347.78 517.67V517.49M353.02 517.4V517.22M358.26 517.14V516.96" stroke="#0000ff" stroke-width="0.5"/><path d="M284.11 522.05h1.5M284.11 521.19h1.5M289.35 521.59h1.5M289.35 519.61h1.5M294.59 521.08h1.5M294.59 517.87h1.5M299.84 520.57h1.5M299.84 516.1h1.5M305.08 520.08h1.5M305.08 514.4h1.5M310.32 519.63h1.5M310.32 512.85h1.5M315.57 519.24h1.5M315.57 511.53h1.5M320.81 518.96h1.5M320.81 510.56h1.5M326.05 518.72h1.5M326.05 509.72h1.5M331.3 518.48h1.5M331.3 508.9h1.5M336.54 518.24h1.5M336.54 508.06h1.5M341.78 517.95h1.5M341.78 507.09h1.5M347.03 517.67h1.5M347.03 506.09h1.5M352.27 517.4h1.5M352.27 505.17h1.5M357.51 517.14h1.5M357.51 504.28h1.5" stroke="#0000ff" stroke-width="0.9"/><path d="M284.86 521.87V520.59M290.1 521.42V519.01M295.34 520.91V517.27M300.59 520.4V515.5M305.83 519.9V513.79M311.07 519.45V512.24M316.32 519.07V510.93M321.56 518.79V509.96M326.8 518.54V509.11M332.05 518.3V508.29M337.29 518.06V507.45M342.53 517.78V506.48M347.78 517.49V505.49M353.02 517.22V504.57M358.26 516.96V503.68" stroke="#00bfbf" stroke-width="0.5"/><path d="M284.11 521.87h1.5M284.11 520.59h1.5M289.35 521.42h1.5M289.35 519.01h1.5M294.59 520.91h1.5M294.59 517.27h1.5M299.84 520.4h1.5M299.84 515.5h1.5M305.08 519.9h1.5M305.08 513.79h1.5M310.32 519.45h1.5M310.32 512.24h1.5M315.57 519.07h1.5M315.57 510.93h1.5M320.81 518.79h1.5M320.81 509.96h1.5M326.05 518.54h1.5M326.05 509.11h1.5M331.3 518.3h1.5M331.3 508.29h1.5M336.54 518.06h1.5M336.54 507.45h1.5M341.78 517.78h1.5M341.78 506.48h1.5M347.03 517.49h1.5M347.03 505.49h1.5M352.27 517.22h1.5M352.27 504.57h1.5M357.51 516.96h1.5M357.51 503.68h1.5" stroke="#00bfbf" stroke-width="0.9"/><path d="M279.62 522.4L284.86 521.52L290.1 519.31L295.34 518.31L300.59 516.66L305.83 516.26L311.07 514.5L316.32 514.02L321.56 512.68L326.8 512.66L332.05 511.61L337.29 511.78L342.53 510.76L347.78 510.91L353.02 509.88L358.26 510.03" stroke="#ff0000" stroke-width="1.2" stroke-linejoin="round" stroke-opacity="0.75"/><path d="M279.62 522.4L284.86 521.82L290.1 519.6L295.34 518.6L300.59 516.95L305.83 516.56L311.07 514.8L316.32 514.32L321.56 512.97L326.8 512.95L332.05 511.9L337.29 512.07L342.53 511.05L347.78 511.2L353.02 510.18L358.26 510.32" stroke="#bfbf00" stroke-width="1.2" stroke-linejoin="round" stroke-opacity="0.75"/><path d="M279.62 522.4L284.86 521.62L290.1 520.6L295.34 519.48L300.59 518.34L305.83 517.24L311.07 516.24L316.32 515.39L321.56 514.76L326.8 514.22L332.05 513.69L337.29 513.15L342.53 512.52L347.78 511.88L353.02 511.28L358.26 510.71" stroke="#0000ff" stroke-width="1.2" stroke-linejoin="round" stroke-opacity="0.75"/><path d="M279.62 522.4L284.86 521.23L290.1 520.21L295.34 519.09L300.59 517.95L305.83 516.85L311.07 515.85L316.32 515L321.56 514.37L326.8 513.83L332.05 513.3L337.29 512.76L342.53 512.13L347.78 511.49L353.02 510.89L358.26 510.32" stroke="#00bfbf" stroke-width="1.2" stroke-linejoin="round" stroke-opacity="0.75"/></g>
<path d="M253.4 522.4h-2.62M253.4 502.92h-2.62M253.4 483.44h-2.62M253.4 463.95h-2.62M253.4 444.47h-2.62M253.4 522.4v2.62M279.62 522.4v2.62M305.83 522.4v2.62M332.05 522.4v2.62" stroke="#000" stroke-width="0.75"/>
<path d="M253.4 512.66h-1.5M253.4 493.18h-1.5M253.4 473.7h-1.5M253.4 454.21h-1.5M253.4 434.73h-1.5M258.64 522.4v1.5M263.89 522.4v1.5M269.13 522.4v1.5M274.37 522.4v1.5M284.86 522.4v1.5M290.1 522.4v1.5M295.34 522.4v1.5M300.59 522.4v1.5M311.07 522.4v1.5M316.32 522.4v1.5M321.56 522.4v1.5M326.8 522.4v1.5M337.29 522.4v1.5M342.53 522.4v1.5M347.78 522.4v1.5M353.02 522.4v1.5" stroke="#000" stroke-width="0.55"/>
<rect x="253.4" y="428.4" width="104.6" height="94" fill="none" stroke="#6a6a6a" stroke-width="1.3"/>
<g clip-path="url(#c43)" fill="none"><path d="M368.74 522.4V428.4M373.99 522.4V428.4M379.23 522.4V428.4M384.47 522.4V428.4M394.96 522.4V428.4M400.2 522.4V428.4M405.44 522.4V428.4M410.69 522.4V428.4M421.17 522.4V428.4M426.42 522.4V428.4M431.66 522.4V428.4M436.9 522.4V428.4M447.39 522.4V428.4M452.63 522.4V428.4M457.88 522.4V428.4M463.12 522.4V428.4M363.5 512.66H468.1M363.5 493.18H468.1M363.5 473.7H468.1M363.5 454.21H468.1M363.5 434.73H468.1" stroke="#d6d6d6" stroke-width="0.6"/><path d="M389.72 522.4V428.4M415.93 522.4V428.4M442.15 522.4V428.4M363.5 502.92H468.1M363.5 483.44H468.1M363.5 463.95H468.1M363.5 444.47H468.1" stroke="#a8a8a8" stroke-width="0.65" stroke-dasharray="2.41 1.04"/><path d="M400.2 474.67V473.31M405.44 480.01V477.32M410.69 475.97V472M415.93 481.25V476.07M421.17 477.14V470.84M426.42 482.33V475M431.66 478.11V469.87M436.9 483.19V474.14M442.15 478.87V469.1M447.39 483.86V473.47M452.63 479.45V468.53M457.88 484.35V472.98M463.12 479.86V468.11M468.36 484.7V472.63" stroke="#ff0000" stroke-width="0.5"/><path d="M399.45 474.67h1.5M399.45 473.31h1.5M404.69 480.01h1.5M404.69 477.32h1.5M409.94 475.97h1.5M409.94 472h1.5M415.18 481.25h1.5M415.18 476.07h1.5M420.42 477.14h1.5M420.42 470.84h1.5M425.67 482.33h1.5M425.67 475h1.5M430.91 478.11h1.5M430.91 469.87h1.5M436.15 483.19h1.5M436.15 474.14h1.5M441.4 478.87h1.5M441.4 469.1h1.5M446.64 483.86h1.5M446.64 473.47h1.5M451.88 479.45h1.5M451.88 468.53h1.5M457.13 484.35h1.5M457.13 472.98h1.5M462.37 479.86h1.5M462.37 468.11h1.5M467.61 484.7h1.5M467.61 472.63h1.5" stroke="#ff0000" stroke-width="0.9"/><path d="M400.2 459.14V458.05M405.44 459.67V457.52M410.69 460.19V457.01M415.93 460.67V456.52M421.17 461.12V456.08M426.42 461.53V455.67M431.66 461.89V455.3M436.9 462.22V454.97M442.15 462.5V454.69M447.39 462.75V454.44M452.63 462.96V454.23M457.88 463.14V454.05M463.12 463.3V453.9M468.36 463.43V453.77" stroke="#bfbf00" stroke-width="0.5"/><path d="M399.45 459.14h1.5M399.45 458.05h1.5M404.69 459.67h1.5M404.69 457.52h1.5M409.94 460.19h1.5M409.94 457.01h1.5M415.18 460.67h1.5M415.18 456.52h1.5M420.42 461.12h1.5M420.42 456.08h1.5M425.67 461.53h1.5M425.67 455.67h1.5M430.91 461.89h1.5M430.91 455.3h1.5M436.15 462.22h1.5M436.15 454.97h1.5M441.4 462.5h1.5M441.4 454.69h1.5M446.64 462.75h1.5M446.64 454.44h1.5M451.88 462.96h1.5M451.88 454.23h1.5M457.13 463.14h1.5M457.13 454.05h1.5M462.37 463.3h1.5M462.37 453.9h1.5M467.61 463.43h1.5M467.61 453.77h1.5" stroke="#bfbf00" stroke-width="0.9"/><path d="M400.2 443.79V442.43M405.44 444.45V441.76M410.69 445.1V441.12M415.93 445.7V440.52M421.17 446.26V440.42M426.42 446.77V440.93M431.66 447.23V441.39M436.9 447.64V441.79M442.15 447.99V442.15M447.39 448.3V442.46M452.63 448.57V442.72M457.88 448.79V442.95M463.12 448.98V443.14M468.36 449.15V443.3" stroke="#0000ff" stroke-width="0.5"/><path d="M399.45 443.79h1.5M399.45 442.43h1.5M404.69 444.45h1.5M404.69 441.76h1.5M409.94 445.1h1.5M409.94 441.12h1.5M415.18 445.7h1.5M415.18 440.52h1.5M420.42 446.26h1.5M420.42 439.96h1.5M425.67 446.77h1.5M425.67 439.45h1.5M430.91 447.23h1.5M430.91 438.99h1.5M436.15 447.64h1.5M436.15 438.58h1.5M441.4 447.99h1.5M441.4 438.22h1.5M446.64 448.3h1.5M446.64 437.92h1.5M451.88 448.57h1.5M451.88 437.65h1.5M457.13 448.79h1.5M457.13 437.42h1.5M462.37 448.98h1.5M462.37 437.23h1.5M467.61 449.15h1.5M467.61 437.07h1.5" stroke="#0000ff" stroke-width="0.9"/><path d="M400.2 437.94V436.58M405.44 438.61V435.92M410.69 439.25V435.28M415.93 439.85V434.67M421.17 440.42V434.11M426.42 440.93V433.6M431.66 441.39V433.14M436.9 441.79V432.74M442.15 442.15V432.38M447.39 442.46V432.07M452.63 442.72V431.81M457.88 442.95V431.58M463.12 443.14V431.39M468.36 443.3V431.23" stroke="#00bfbf" stroke-width="0.5"/><path d="M399.45 437.94h1.5M399.45 436.58h1.5M404.69 438.61h1.5M404.69 435.92h1.5M409.94 439.25h1.5M409.94 435.28h1.5M415.18 439.85h1.5M415.18 434.67h1.5M420.42 440.42h1.5M420.42 434.11h1.5M425.67 440.93h1.5M425.67 433.6h1.5M430.91 441.39h1.5M430.91 433.14h1.5M436.15 441.79h1.5M436.15 432.74h1.5M441.4 442.15h1.5M441.4 432.38h1.5M446.64 442.46h1.5M446.64 432.07h1.5M451.88 442.72h1.5M451.88 431.81h1.5M457.13 442.95h1.5M457.13 431.58h1.5M462.37 443.14h1.5M462.37 431.39h1.5M467.61 443.3h1.5M467.61 431.23h1.5" stroke="#00bfbf" stroke-width="0.9"/><path d="M363.5 478.66L368.74 473.99L373.99 478.66L379.23 473.99L384.47 478.66L389.72 473.99L394.96 478.66L400.2 473.99L405.44 478.66L410.69 473.99L415.93 478.66L421.17 473.99L426.42 478.66L431.66 473.99L436.9 478.66L442.15 473.99L447.39 478.66L452.63 473.99L457.88 478.66L463.12 473.99L468.36 478.66" stroke="#ff0000" stroke-width="1.2" stroke-linejoin="round" stroke-opacity="0.75"/><path d="M363.5 458.6L368.74 458.6L373.99 458.6L379.23 458.6L384.47 458.6L389.72 458.6L394.96 458.6L400.2 458.6L405.44 458.6L410.69 458.6L415.93 458.6L421.17 458.6L426.42 458.6L431.66 458.6L436.9 458.6L442.15 458.6L447.39 458.6L452.63 458.6L457.88 458.6L463.12 458.6L468.36 458.6" stroke="#bfbf00" stroke-width="1.2" stroke-linejoin="round" stroke-opacity="0.75"/><path d="M363.5 443.11L368.74 443.11L373.99 443.11L379.23 443.11L384.47 443.11L389.72 443.11L394.96 443.11L400.2 443.11L405.44 443.11L410.69 443.11L415.93 443.11L421.17 443.11L426.42 443.11L431.66 443.11L436.9 443.11L442.15 443.11L447.39 443.11L452.63 443.11L457.88 443.11L463.12 443.11L468.36 443.11" stroke="#0000ff" stroke-width="1.2" stroke-linejoin="round" stroke-opacity="0.75"/><path d="M363.5 437.26L368.74 437.26L373.99 437.26L379.23 437.26L384.47 437.26L389.72 437.26L394.96 437.26L400.2 437.26L405.44 437.26L410.69 437.26L415.93 437.26L421.17 437.26L426.42 437.26L431.66 437.26L436.9 437.26L442.15 437.26L447.39 437.26L452.63 437.26L457.88 437.26L463.12 437.26L468.36 437.26" stroke="#00bfbf" stroke-width="1.2" stroke-linejoin="round" stroke-opacity="0.75"/></g>
<path d="M363.5 522.4h-2.62M363.5 502.92h-2.62M363.5 483.44h-2.62M363.5 463.95h-2.62M363.5 444.47h-2.62M363.5 522.4v2.62M389.72 522.4v2.62M415.93 522.4v2.62M442.15 522.4v2.62" stroke="#000" stroke-width="0.75"/>
<path d="M363.5 512.66h-1.5M363.5 493.18h-1.5M363.5 473.7h-1.5M363.5 454.21h-1.5M363.5 434.73h-1.5M368.74 522.4v1.5M373.99 522.4v1.5M379.23 522.4v1.5M384.47 522.4v1.5M394.96 522.4v1.5M400.2 522.4v1.5M405.44 522.4v1.5M410.69 522.4v1.5M421.17 522.4v1.5M426.42 522.4v1.5M431.66 522.4v1.5M436.9 522.4v1.5M447.39 522.4v1.5M452.63 522.4v1.5M457.88 522.4v1.5M463.12 522.4v1.5" stroke="#000" stroke-width="0.55"/>
<rect x="363.5" y="428.4" width="104.6" height="94" fill="none" stroke="#6a6a6a" stroke-width="1.3"/>
<g font-family="DejaVu Sans, sans-serif" font-size="7.5" fill="#000" stroke="#000" stroke-width="0.2"><text x="27.75" y="111.05" text-anchor="end">0</text><text x="27.75" y="91.57" text-anchor="end">20</text><text x="27.75" y="72.09" text-anchor="end">40</text><text x="27.75" y="52.6" text-anchor="end">60</text><text x="27.75" y="33.12" text-anchor="end">80</text><text x="27.75" y="214.6" text-anchor="end">0</text><text x="27.75" y="195.12" text-anchor="end">20</text><text x="27.75" y="175.64" text-anchor="end">40</text><text x="27.75" y="156.15" text-anchor="end">60</text><text x="27.75" y="136.67" text-anchor="end">80</text><text x="27.75" y="318.15" text-anchor="end">0</text><text x="27.75" y="298.67" text-anchor="end">20</text><text x="27.75" y="279.19" text-anchor="end">40</text><text x="27.75" y="259.7" text-anchor="end">60</text><text x="27.75" y="240.22" text-anchor="end">80</text><text x="27.75" y="421.7" text-anchor="end">0</text><text x="27.75" y="402.22" text-anchor="end">20</text><text x="27.75" y="382.74" text-anchor="end">40</text><text x="27.75" y="363.25" text-anchor="end">60</text><text x="27.75" y="343.77" text-anchor="end">80</text><text x="27.75" y="525.25" text-anchor="end">0</text><text x="27.75" y="505.77" text-anchor="end">20</text><text x="27.75" y="486.29" text-anchor="end">40</text><text x="27.75" y="466.8" text-anchor="end">60</text><text x="27.75" y="447.32" text-anchor="end">80</text><text x="33" y="534.3" text-anchor="middle">0.0</text><text x="59.22" y="534.3" text-anchor="middle">0.5</text><text x="85.43" y="534.3" text-anchor="middle">1.0</text><text x="111.65" y="534.3" text-anchor="middle">1.5</text><text x="143.2" y="534.3" text-anchor="middle">0.0</text><text x="169.42" y="534.3" text-anchor="middle">0.5</text><text x="195.63" y="534.3" text-anchor="middle">1.0</text><text x="221.85" y="534.3" text-anchor="middle">1.5</text><text x="253.4" y="534.3" text-anchor="middle">0.0</text><text x="279.62" y="534.3" text-anchor="middle">0.5</text><text x="305.83" y="534.3" text-anchor="middle">1.0</text><text x="332.05" y="534.3" text-anchor="middle">1.5</text><text x="363.5" y="534.3" text-anchor="middle">0.0</text><text x="389.72" y="534.3" text-anchor="middle">0.5</text><text x="415.93" y="534.3" text-anchor="middle">1.0</text><text x="442.15" y="534.3" text-anchor="middle">1.5</text></g>
<g font-family="DejaVu Sans, sans-serif" fill="#000" stroke="#000" stroke-width="0.2"><text x="85.3" y="9.7" font-size="9.15" text-anchor="middle">OA-error</text><text x="195.5" y="9.7" font-size="9.15" text-anchor="middle">Kappa-error</text><text x="305.7" y="9.7" font-size="9.15" text-anchor="middle">AD-error</text><text x="415.8" y="9.7" font-size="9.15" text-anchor="middle">APAU</text><text transform="translate(13.49 61.2) rotate(-90)" font-size="8.25" text-anchor="middle">T = 0%</text><text transform="translate(13.49 164.75) rotate(-90)" font-size="8.25" text-anchor="middle">T = 25%</text><text transform="translate(13.49 268.3) rotate(-90)" font-size="8.25" text-anchor="middle">T = 50%</text><text transform="translate(13.49 371.85) rotate(-90)" font-size="8.25" text-anchor="middle">T = 75%</text><text transform="translate(13.49 475.4) rotate(-90)" font-size="8.25" text-anchor="middle">T = 100%</text><text x="247.25" y="545.1" font-size="8.4" text-anchor="middle">Positional error (#pixels)</text></g>
<g><rect x="389.4" y="15.8" width="76.2" height="47" rx="1.5" fill="#fff" fill-opacity="0.8" stroke="#ccc" stroke-width="0.75"/><path d="M400.8 19.4V26.6" stroke="#ff0000" stroke-width="0.5"/><path d="M400.05 19.4h1.5M400.05 26.6h1.5" stroke="#ff0000" stroke-width="0.9"/><path d="M392.8 23H408.8" stroke="#ff0000" stroke-width="1.05"/><text x="414.7" y="26.4" font-size="7.6" font-family="DejaVu Sans, sans-serif" stroke="#000" stroke-width="0.2">Scale: 150m</text><path d="M400.8 30.4V37.6" stroke="#bfbf00" stroke-width="0.5"/><path d="M400.05 30.4h1.5M400.05 37.6h1.5" stroke="#bfbf00" stroke-width="0.9"/><path d="M392.8 34H408.8" stroke="#bfbf00" stroke-width="1.05"/><text x="414.7" y="37.4" font-size="7.6" font-family="DejaVu Sans, sans-serif" stroke="#000" stroke-width="0.2">Scale: 300m</text><path d="M400.8 41.4V48.6" stroke="#0000ff" stroke-width="0.5"/><path d="M400.05 41.4h1.5M400.05 48.6h1.5" stroke="#0000ff" stroke-width="0.9"/><path d="M392.8 45H408.8" stroke="#0000ff" stroke-width="1.05"/><text x="414.7" y="48.4" font-size="7.6" font-family="DejaVu Sans, sans-serif" stroke="#000" stroke-width="0.2">Scale: 600m</text><path d="M400.8 52.4V59.6" stroke="#00bfbf" stroke-width="0.5"/><path d="M400.05 52.4h1.5M400.05 59.6h1.5" stroke="#00bfbf" stroke-width="0.9"/><path d="M392.8 56H408.8" stroke="#00bfbf" stroke-width="1.05"/><text x="414.7" y="59.4" font-size="7.6" font-family="DejaVu Sans, sans-serif" stroke="#000" stroke-width="0.2">Scale: 900m</text></g>
</svg>
</body></html>
